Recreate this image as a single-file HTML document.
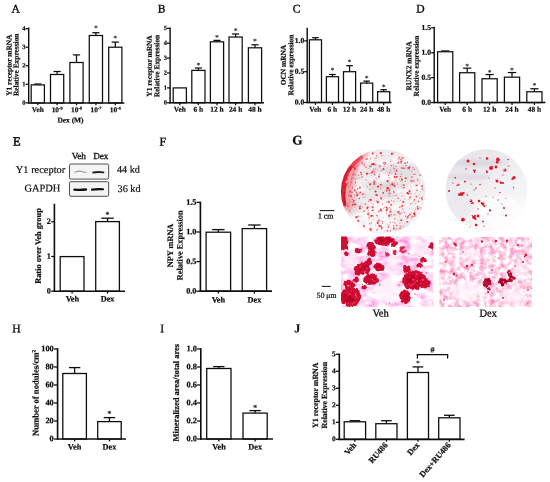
<!DOCTYPE html>
<html lang="en"><head><meta charset="utf-8"><title>Figure</title>
<style>
html,body{margin:0;padding:0;background:#fff;}
svg{display:block;font-family:"Liberation Serif","Times New Roman",serif;fill:#111;}
</style></head><body>
<svg width="550" height="482" viewBox="0 0 550 482">
<rect width="550" height="482" fill="#fff"/>
<defs>
<filter id="soft" x="-5%" y="-5%" width="110%" height="110%"><feGaussianBlur stdDeviation="0.35"/></filter>
<filter id="soft2" x="-5%" y="-5%" width="110%" height="110%"><feGaussianBlur stdDeviation="0.6"/></filter>
<filter id="blur2" x="-10%" y="-10%" width="120%" height="120%"><feGaussianBlur stdDeviation="1.6"/></filter>
<filter id="tx" x="-5%" y="-5%" width="110%" height="110%"><feGaussianBlur stdDeviation="0.25"/></filter>
<clipPath id="c1"><circle cx="383.2" cy="191.5" r="42.3"/></clipPath>
<clipPath id="c2"><circle cx="486.5" cy="190.3" r="41.2"/></clipPath>
<clipPath id="m1"><rect x="341" y="236.6" width="92.5" height="70.4"/></clipPath>
<clipPath id="m2"><rect x="439.4" y="237" width="92.6" height="70"/></clipPath>
<radialGradient id="g1" cx="0.55" cy="0.45" r="0.6"><stop offset="0" stop-color="#f1eff2"/><stop offset="0.7" stop-color="#e9e5ea"/><stop offset="1" stop-color="#efe6ea"/></radialGradient>
<linearGradient id="g2" x1="0.2" y1="0" x2="0.8" y2="1"><stop offset="0" stop-color="#e6e3e9"/><stop offset="0.45" stop-color="#f0eef1"/><stop offset="1" stop-color="#fcfcfc"/></linearGradient>
</defs>

<g filter="url(#tx)">
<text x="11.4" y="12.5" font-size="11.6" text-anchor="start" transform="rotate(0.04 11.4 12.5)" stroke="#111" stroke-width="0.35">A</text>
<text x="157.8" y="12.5" font-size="11.6" text-anchor="start" transform="rotate(0.04 157.8 12.5)" stroke="#111" stroke-width="0.35">B</text>
<text x="292.8" y="12.5" font-size="11.6" text-anchor="start" transform="rotate(0.04 292.8 12.5)" stroke="#111" stroke-width="0.35">C</text>
<text x="416.2" y="12.5" font-size="11.6" text-anchor="start" transform="rotate(0.04 416.2 12.5)" stroke="#111" stroke-width="0.35">D</text>
<text x="13" y="145.6" font-size="12.4" text-anchor="start" transform="rotate(0.04 13 145.6)" stroke="#111" stroke-width="0.55">E</text>
<text x="159.5" y="145.6" font-size="12" text-anchor="start" transform="rotate(0.04 159.5 145.6)" stroke="#111" stroke-width="0.35">F</text>
<text x="292.2" y="144.5" font-size="13.2" text-anchor="start" font-weight="bold" transform="rotate(0.04 292.2 144.5)" stroke="#111" stroke-width="0.22">G</text>
<text x="12.2" y="332.2" font-size="11.6" text-anchor="start" transform="rotate(0.04 12.2 332.2)" stroke="#111" stroke-width="0.35">H</text>
<text x="160.2" y="332.2" font-size="11.6" text-anchor="start" transform="rotate(0.04 160.2 332.2)" stroke="#111" stroke-width="0.35">I</text>
<text x="294.2" y="332.2" font-size="12" text-anchor="start" font-weight="bold" transform="rotate(0.04 294.2 332.2)" stroke="#111" stroke-width="0.22">J</text>
<g transform="translate(0 0.5)">
<line x1="37.8" y1="84.4" x2="37.8" y2="83.5" stroke="#111" stroke-width="1.25"/>
<line x1="34.2" y1="83.5" x2="41.4" y2="83.5" stroke="#111" stroke-width="1.25"/>
<rect x="31.2" y="84.4" width="13.2" height="18" fill="#fff" stroke="#111" stroke-width="1.25"/>
<line x1="37.8" y1="102.4" x2="37.8" y2="104.8" stroke="#111" stroke-width="1.25"/>
<line x1="57.1" y1="74" x2="57.1" y2="71" stroke="#111" stroke-width="1.25"/>
<line x1="53.5" y1="71" x2="60.7" y2="71" stroke="#111" stroke-width="1.25"/>
<rect x="50.5" y="74" width="13.2" height="28.4" fill="#fff" stroke="#111" stroke-width="1.25"/>
<line x1="57.1" y1="102.4" x2="57.1" y2="104.8" stroke="#111" stroke-width="1.25"/>
<line x1="76.5" y1="62" x2="76.5" y2="54.4" stroke="#111" stroke-width="1.25"/>
<line x1="72.9" y1="54.4" x2="80.1" y2="54.4" stroke="#111" stroke-width="1.25"/>
<rect x="69.9" y="62" width="13.2" height="40.4" fill="#fff" stroke="#111" stroke-width="1.25"/>
<line x1="76.5" y1="102.4" x2="76.5" y2="104.8" stroke="#111" stroke-width="1.25"/>
<line x1="95.9" y1="35" x2="95.9" y2="32.2" stroke="#111" stroke-width="1.25"/>
<line x1="92.3" y1="32.2" x2="99.5" y2="32.2" stroke="#111" stroke-width="1.25"/>
<rect x="89.3" y="35" width="13.2" height="67.4" fill="#fff" stroke="#111" stroke-width="1.25"/>
<text x="95.9" y="29.95" font-size="7.77" text-anchor="middle" font-weight="bold" transform="rotate(0.04 95.9 29.95)" stroke="#111" stroke-width="0">*</text>
<line x1="95.9" y1="102.4" x2="95.9" y2="104.8" stroke="#111" stroke-width="1.25"/>
<line x1="115.3" y1="46.7" x2="115.3" y2="41.6" stroke="#111" stroke-width="1.25"/>
<line x1="111.7" y1="41.6" x2="118.9" y2="41.6" stroke="#111" stroke-width="1.25"/>
<rect x="108.7" y="46.7" width="13.2" height="55.7" fill="#fff" stroke="#111" stroke-width="1.25"/>
<text x="115.3" y="40.35" font-size="7.77" text-anchor="middle" font-weight="bold" transform="rotate(0.04 115.3 40.35)" stroke="#111" stroke-width="0">*</text>
<line x1="115.3" y1="102.4" x2="115.3" y2="104.8" stroke="#111" stroke-width="1.25"/>
<line x1="28.7" y1="26.98" x2="28.7" y2="103.12" stroke="#111" stroke-width="1.45"/>
<line x1="27.97" y1="102.4" x2="124.3" y2="102.4" stroke="#111" stroke-width="1.45"/>
<line x1="25.6" y1="102.4" x2="28.7" y2="102.4" stroke="#111" stroke-width="1.25"/>
<text x="25.4" y="104.22" font-size="6.5" text-anchor="end" font-weight="bold" transform="rotate(0.04 25.4 104.22)" stroke="#111" stroke-width="0.22">0</text>
<line x1="25.6" y1="83.83" x2="28.7" y2="83.83" stroke="#111" stroke-width="1.25"/>
<text x="25.4" y="85.65" font-size="6.5" text-anchor="end" font-weight="bold" transform="rotate(0.04 25.4 85.65)" stroke="#111" stroke-width="0.22">1</text>
<line x1="25.6" y1="65.26" x2="28.7" y2="65.26" stroke="#111" stroke-width="1.25"/>
<text x="25.4" y="67.08" font-size="6.5" text-anchor="end" font-weight="bold" transform="rotate(0.04 25.4 67.08)" stroke="#111" stroke-width="0.22">2</text>
<line x1="25.6" y1="46.69" x2="28.7" y2="46.69" stroke="#111" stroke-width="1.25"/>
<text x="25.4" y="48.51" font-size="6.5" text-anchor="end" font-weight="bold" transform="rotate(0.04 25.4 48.51)" stroke="#111" stroke-width="0.22">3</text>
<line x1="25.6" y1="28.12" x2="28.7" y2="28.12" stroke="#111" stroke-width="1.25"/>
<text x="25.4" y="29.94" font-size="6.5" text-anchor="end" font-weight="bold" transform="rotate(0.04 25.4 29.94)" stroke="#111" stroke-width="0.22">4</text>
</g>
<text x="37.8" y="112" font-size="7.4" text-anchor="middle" font-weight="bold" transform="rotate(0.04 37.8 112)" stroke="#111" stroke-width="0.22">Veh</text>
<text x="57.1" y="112.2" font-size="7.4" text-anchor="middle" font-weight="bold" stroke="#111" stroke-width="0.22" transform="rotate(0.04 57.1 112)">10<tspan font-size="4.2" dy="-2.6">-9</tspan></text>
<text x="76.5" y="112.2" font-size="7.4" text-anchor="middle" font-weight="bold" stroke="#111" stroke-width="0.22" transform="rotate(0.04 76.5 112)">10<tspan font-size="4.2" dy="-2.6">-8</tspan></text>
<text x="95.9" y="112.2" font-size="7.4" text-anchor="middle" font-weight="bold" stroke="#111" stroke-width="0.22" transform="rotate(0.04 95.9 112)">10<tspan font-size="4.2" dy="-2.6">-7</tspan></text>
<text x="115.3" y="112.2" font-size="7.4" text-anchor="middle" font-weight="bold" stroke="#111" stroke-width="0.22" transform="rotate(0.04 115.3 112)">10<tspan font-size="4.2" dy="-2.6">-6</tspan></text>
<text x="70.5" y="122.6" font-size="7.4" text-anchor="middle" font-weight="bold" transform="rotate(0.04 70.5 122.6)" stroke="#111" stroke-width="0.22">Dex (M)</text>
<text x="11.6" y="65.2" font-size="7.4" text-anchor="middle" font-weight="bold" transform="rotate(-89.96 11.6 65.2)" stroke="#111" stroke-width="0.22">Y1 receptor mRNA</text>
<text x="18.4" y="64.8" font-size="7.4" text-anchor="middle" font-weight="bold" transform="rotate(-89.96 18.4 64.8)" stroke="#111" stroke-width="0.22">Relative Expression</text>
<g transform="translate(0 0.4)">
<rect x="173.2" y="87.5" width="13.2" height="14.9" fill="#fff" stroke="#111" stroke-width="1.25"/>
<line x1="179.8" y1="102.4" x2="179.8" y2="104.8" stroke="#111" stroke-width="1.25"/>
<line x1="198.4" y1="70" x2="198.4" y2="67.6" stroke="#111" stroke-width="1.25"/>
<line x1="194.8" y1="67.6" x2="202" y2="67.6" stroke="#111" stroke-width="1.25"/>
<rect x="191.8" y="70" width="13.2" height="32.4" fill="#fff" stroke="#111" stroke-width="1.25"/>
<text x="198.4" y="67.35" font-size="7.77" text-anchor="middle" font-weight="bold" transform="rotate(0.04 198.4 67.35)" stroke="#111" stroke-width="0">*</text>
<line x1="198.4" y1="102.4" x2="198.4" y2="104.8" stroke="#111" stroke-width="1.25"/>
<line x1="217" y1="41.4" x2="217" y2="40" stroke="#111" stroke-width="1.25"/>
<line x1="213.4" y1="40" x2="220.6" y2="40" stroke="#111" stroke-width="1.25"/>
<rect x="210.4" y="41.4" width="13.2" height="61" fill="#fff" stroke="#111" stroke-width="1.25"/>
<text x="217" y="39.55" font-size="7.77" text-anchor="middle" font-weight="bold" transform="rotate(0.04 217 39.55)" stroke="#111" stroke-width="0">*</text>
<line x1="217" y1="102.4" x2="217" y2="104.8" stroke="#111" stroke-width="1.25"/>
<line x1="235.6" y1="36.6" x2="235.6" y2="33.6" stroke="#111" stroke-width="1.25"/>
<line x1="232" y1="33.6" x2="239.2" y2="33.6" stroke="#111" stroke-width="1.25"/>
<rect x="229" y="36.6" width="13.2" height="65.8" fill="#fff" stroke="#111" stroke-width="1.25"/>
<text x="235.6" y="32.75" font-size="7.77" text-anchor="middle" font-weight="bold" transform="rotate(0.04 235.6 32.75)" stroke="#111" stroke-width="0">*</text>
<line x1="235.6" y1="102.4" x2="235.6" y2="104.8" stroke="#111" stroke-width="1.25"/>
<line x1="255" y1="47.4" x2="255" y2="44.4" stroke="#111" stroke-width="1.25"/>
<line x1="251.4" y1="44.4" x2="258.6" y2="44.4" stroke="#111" stroke-width="1.25"/>
<rect x="248.4" y="47.4" width="13.2" height="55" fill="#fff" stroke="#111" stroke-width="1.25"/>
<text x="255" y="43.35" font-size="7.77" text-anchor="middle" font-weight="bold" transform="rotate(0.04 255 43.35)" stroke="#111" stroke-width="0">*</text>
<line x1="255" y1="102.4" x2="255" y2="104.8" stroke="#111" stroke-width="1.25"/>
<line x1="170.1" y1="26.98" x2="170.1" y2="103.12" stroke="#111" stroke-width="1.45"/>
<line x1="169.38" y1="102.4" x2="264" y2="102.4" stroke="#111" stroke-width="1.45"/>
<line x1="167" y1="87.5" x2="170.1" y2="87.5" stroke="#111" stroke-width="1.25"/>
<text x="167.1" y="89.32" font-size="6.5" text-anchor="end" font-weight="bold" transform="rotate(0.04 167.1 89.32)" stroke="#111" stroke-width="0.22">1</text>
<line x1="167" y1="72.6" x2="170.1" y2="72.6" stroke="#111" stroke-width="1.25"/>
<text x="167.1" y="74.42" font-size="6.5" text-anchor="end" font-weight="bold" transform="rotate(0.04 167.1 74.42)" stroke="#111" stroke-width="0.22">2</text>
<line x1="167" y1="57.7" x2="170.1" y2="57.7" stroke="#111" stroke-width="1.25"/>
<text x="167.1" y="59.52" font-size="6.5" text-anchor="end" font-weight="bold" transform="rotate(0.04 167.1 59.52)" stroke="#111" stroke-width="0.22">3</text>
<line x1="167" y1="42.8" x2="170.1" y2="42.8" stroke="#111" stroke-width="1.25"/>
<text x="167.1" y="44.62" font-size="6.5" text-anchor="end" font-weight="bold" transform="rotate(0.04 167.1 44.62)" stroke="#111" stroke-width="0.22">4</text>
<line x1="167" y1="27.9" x2="170.1" y2="27.9" stroke="#111" stroke-width="1.25"/>
<text x="167.1" y="29.72" font-size="6.5" text-anchor="end" font-weight="bold" transform="rotate(0.04 167.1 29.72)" stroke="#111" stroke-width="0.22">5</text>
<line x1="167" y1="102.4" x2="170.1" y2="102.4" stroke="#111" stroke-width="1.25"/>
<text x="167.1" y="104.22" font-size="6.5" text-anchor="end" font-weight="bold" transform="rotate(0.04 167.1 104.22)" stroke="#111" stroke-width="0.22">0</text>
</g>
<text x="179.8" y="111.8" font-size="7.4" text-anchor="middle" font-weight="bold" transform="rotate(0.04 179.8 111.8)" stroke="#111" stroke-width="0.22">Veh</text>
<text x="198.4" y="111.8" font-size="7.4" text-anchor="middle" font-weight="bold" transform="rotate(0.04 198.4 111.8)" stroke="#111" stroke-width="0.22">6 h</text>
<text x="217" y="111.8" font-size="7.4" text-anchor="middle" font-weight="bold" transform="rotate(0.04 217 111.8)" stroke="#111" stroke-width="0.22">12 h</text>
<text x="235.6" y="111.8" font-size="7.4" text-anchor="middle" font-weight="bold" transform="rotate(0.04 235.6 111.8)" stroke="#111" stroke-width="0.22">24 h</text>
<text x="255" y="111.8" font-size="7.4" text-anchor="middle" font-weight="bold" transform="rotate(0.04 255 111.8)" stroke="#111" stroke-width="0.22">48 h</text>
<text x="151.8" y="66" font-size="7.4" text-anchor="middle" font-weight="bold" transform="rotate(-89.96 151.8 66)" stroke="#111" stroke-width="0.22">Y1 receptor mRNA</text>
<text x="159.2" y="66" font-size="7.4" text-anchor="middle" font-weight="bold" transform="rotate(-89.96 159.2 66)" stroke="#111" stroke-width="0.22">Relative Expression</text>
<g transform="translate(0 0.1)">
<line x1="315.45" y1="39.7" x2="315.45" y2="37.6" stroke="#111" stroke-width="1.25"/>
<line x1="312.15" y1="37.6" x2="318.75" y2="37.6" stroke="#111" stroke-width="1.25"/>
<rect x="309.4" y="39.7" width="12.1" height="62.7" fill="#fff" stroke="#111" stroke-width="1.25"/>
<line x1="315.45" y1="102.4" x2="315.45" y2="104.8" stroke="#111" stroke-width="1.25"/>
<line x1="332.45" y1="76.6" x2="332.45" y2="74.4" stroke="#111" stroke-width="1.25"/>
<line x1="329.15" y1="74.4" x2="335.75" y2="74.4" stroke="#111" stroke-width="1.25"/>
<rect x="326.4" y="76.6" width="12.1" height="25.8" fill="#fff" stroke="#111" stroke-width="1.25"/>
<text x="332.45" y="72.55" font-size="7.77" text-anchor="middle" font-weight="bold" transform="rotate(0.04 332.45 72.55)" stroke="#111" stroke-width="0">*</text>
<line x1="332.45" y1="102.4" x2="332.45" y2="104.8" stroke="#111" stroke-width="1.25"/>
<line x1="349.55" y1="71.6" x2="349.55" y2="65.6" stroke="#111" stroke-width="1.25"/>
<line x1="346.25" y1="65.6" x2="352.85" y2="65.6" stroke="#111" stroke-width="1.25"/>
<rect x="343.5" y="71.6" width="12.1" height="30.8" fill="#fff" stroke="#111" stroke-width="1.25"/>
<text x="349.55" y="64.35" font-size="7.77" text-anchor="middle" font-weight="bold" transform="rotate(0.04 349.55 64.35)" stroke="#111" stroke-width="0">*</text>
<line x1="349.55" y1="102.4" x2="349.55" y2="104.8" stroke="#111" stroke-width="1.25"/>
<line x1="366.65" y1="83" x2="366.65" y2="81" stroke="#111" stroke-width="1.25"/>
<line x1="363.35" y1="81" x2="369.95" y2="81" stroke="#111" stroke-width="1.25"/>
<rect x="360.6" y="83" width="12.1" height="19.4" fill="#fff" stroke="#111" stroke-width="1.25"/>
<text x="366.65" y="80.55" font-size="7.77" text-anchor="middle" font-weight="bold" transform="rotate(0.04 366.65 80.55)" stroke="#111" stroke-width="0">*</text>
<line x1="366.65" y1="102.4" x2="366.65" y2="104.8" stroke="#111" stroke-width="1.25"/>
<line x1="383.65" y1="91.6" x2="383.65" y2="89.6" stroke="#111" stroke-width="1.25"/>
<line x1="380.35" y1="89.6" x2="386.95" y2="89.6" stroke="#111" stroke-width="1.25"/>
<rect x="377.6" y="91.6" width="12.1" height="10.8" fill="#fff" stroke="#111" stroke-width="1.25"/>
<text x="383.65" y="89.35" font-size="7.77" text-anchor="middle" font-weight="bold" transform="rotate(0.04 383.65 89.35)" stroke="#111" stroke-width="0">*</text>
<line x1="383.65" y1="102.4" x2="383.65" y2="104.8" stroke="#111" stroke-width="1.25"/>
<line x1="307.2" y1="27.77" x2="307.2" y2="103.12" stroke="#111" stroke-width="1.45"/>
<line x1="306.47" y1="102.4" x2="391.6" y2="102.4" stroke="#111" stroke-width="1.45"/>
<line x1="304.1" y1="102.4" x2="307.2" y2="102.4" stroke="#111" stroke-width="1.25"/>
<text x="304.2" y="104.53" font-size="7.6" text-anchor="end" font-weight="bold" transform="rotate(0.04 304.2 104.53)" stroke="#111" stroke-width="0.22">0.0</text>
<line x1="304.1" y1="71.6" x2="307.2" y2="71.6" stroke="#111" stroke-width="1.25"/>
<text x="304.2" y="73.73" font-size="7.6" text-anchor="end" font-weight="bold" transform="rotate(0.04 304.2 73.73)" stroke="#111" stroke-width="0.22">0.5</text>
<line x1="304.1" y1="40.8" x2="307.2" y2="40.8" stroke="#111" stroke-width="1.25"/>
<text x="304.2" y="42.93" font-size="7.6" text-anchor="end" font-weight="bold" transform="rotate(0.04 304.2 42.93)" stroke="#111" stroke-width="0.22">1.0</text>
</g>
<text x="315.4" y="111.8" font-size="7.4" text-anchor="middle" font-weight="bold" transform="rotate(0.04 315.4 111.8)" stroke="#111" stroke-width="0.22">Veh</text>
<text x="332.4" y="111.8" font-size="7.4" text-anchor="middle" font-weight="bold" transform="rotate(0.04 332.4 111.8)" stroke="#111" stroke-width="0.22">6 h</text>
<text x="349.5" y="111.8" font-size="7.4" text-anchor="middle" font-weight="bold" transform="rotate(0.04 349.5 111.8)" stroke="#111" stroke-width="0.22">12 h</text>
<text x="366.6" y="111.8" font-size="7.4" text-anchor="middle" font-weight="bold" transform="rotate(0.04 366.6 111.8)" stroke="#111" stroke-width="0.22">24 h</text>
<text x="383.6" y="111.8" font-size="7.4" text-anchor="middle" font-weight="bold" transform="rotate(0.04 383.6 111.8)" stroke="#111" stroke-width="0.22">48 h</text>
<text x="285.8" y="65" font-size="7.4" text-anchor="middle" font-weight="bold" transform="rotate(-89.96 285.8 65)" stroke="#111" stroke-width="0.22">OCN mRNA</text>
<text x="293.2" y="65" font-size="7.4" text-anchor="middle" font-weight="bold" transform="rotate(-89.96 293.2 65)" stroke="#111" stroke-width="0.22">Relative expression</text>
<g transform="translate(0 0.15)">
<line x1="445.2" y1="51.6" x2="445.2" y2="50.8" stroke="#111" stroke-width="1.25"/>
<line x1="441.1" y1="50.8" x2="449.3" y2="50.8" stroke="#111" stroke-width="1.25"/>
<rect x="437.6" y="51.6" width="15.2" height="50.8" fill="#fff" stroke="#111" stroke-width="1.25"/>
<line x1="445.2" y1="102.4" x2="445.2" y2="104.8" stroke="#111" stroke-width="1.25"/>
<line x1="467.2" y1="72.6" x2="467.2" y2="68" stroke="#111" stroke-width="1.25"/>
<line x1="463.1" y1="68" x2="471.3" y2="68" stroke="#111" stroke-width="1.25"/>
<rect x="459.6" y="72.6" width="15.2" height="29.8" fill="#fff" stroke="#111" stroke-width="1.25"/>
<text x="467.2" y="68.55" font-size="7.77" text-anchor="middle" font-weight="bold" transform="rotate(0.04 467.2 68.55)" stroke="#111" stroke-width="0">*</text>
<line x1="467.2" y1="102.4" x2="467.2" y2="104.8" stroke="#111" stroke-width="1.25"/>
<line x1="489.6" y1="78.6" x2="489.6" y2="74.4" stroke="#111" stroke-width="1.25"/>
<line x1="485.5" y1="74.4" x2="493.7" y2="74.4" stroke="#111" stroke-width="1.25"/>
<rect x="482" y="78.6" width="15.2" height="23.8" fill="#fff" stroke="#111" stroke-width="1.25"/>
<text x="489.6" y="74.95" font-size="7.77" text-anchor="middle" font-weight="bold" transform="rotate(0.04 489.6 74.95)" stroke="#111" stroke-width="0">*</text>
<line x1="489.6" y1="102.4" x2="489.6" y2="104.8" stroke="#111" stroke-width="1.25"/>
<line x1="512" y1="77" x2="512" y2="72.4" stroke="#111" stroke-width="1.25"/>
<line x1="507.9" y1="72.4" x2="516.1" y2="72.4" stroke="#111" stroke-width="1.25"/>
<rect x="504.4" y="77" width="15.2" height="25.4" fill="#fff" stroke="#111" stroke-width="1.25"/>
<text x="512" y="72.55" font-size="7.77" text-anchor="middle" font-weight="bold" transform="rotate(0.04 512 72.55)" stroke="#111" stroke-width="0">*</text>
<line x1="512" y1="102.4" x2="512" y2="104.8" stroke="#111" stroke-width="1.25"/>
<line x1="534.4" y1="91.6" x2="534.4" y2="88.6" stroke="#111" stroke-width="1.25"/>
<line x1="530.3" y1="88.6" x2="538.5" y2="88.6" stroke="#111" stroke-width="1.25"/>
<rect x="526.8" y="91.6" width="15.2" height="10.8" fill="#fff" stroke="#111" stroke-width="1.25"/>
<text x="534.4" y="87.95" font-size="7.77" text-anchor="middle" font-weight="bold" transform="rotate(0.04 534.4 87.95)" stroke="#111" stroke-width="0">*</text>
<line x1="534.4" y1="102.4" x2="534.4" y2="104.8" stroke="#111" stroke-width="1.25"/>
<line x1="434.2" y1="26.68" x2="434.2" y2="103.12" stroke="#111" stroke-width="1.45"/>
<line x1="433.47" y1="102.4" x2="545.4" y2="102.4" stroke="#111" stroke-width="1.45"/>
<line x1="431.1" y1="102.4" x2="434.2" y2="102.4" stroke="#111" stroke-width="1.25"/>
<text x="431" y="104.53" font-size="7.6" text-anchor="end" font-weight="bold" transform="rotate(0.04 431 104.53)" stroke="#111" stroke-width="0.22">0.0</text>
<line x1="431.1" y1="77.5" x2="434.2" y2="77.5" stroke="#111" stroke-width="1.25"/>
<text x="431" y="79.63" font-size="7.6" text-anchor="end" font-weight="bold" transform="rotate(0.04 431 79.63)" stroke="#111" stroke-width="0.22">0.5</text>
<line x1="431.1" y1="52.6" x2="434.2" y2="52.6" stroke="#111" stroke-width="1.25"/>
<text x="431" y="54.73" font-size="7.6" text-anchor="end" font-weight="bold" transform="rotate(0.04 431 54.73)" stroke="#111" stroke-width="0.22">1.0</text>
<line x1="431.1" y1="27.7" x2="434.2" y2="27.7" stroke="#111" stroke-width="1.25"/>
<text x="431" y="29.83" font-size="7.6" text-anchor="end" font-weight="bold" transform="rotate(0.04 431 29.83)" stroke="#111" stroke-width="0.22">1.5</text>
</g>
<text x="445.2" y="111.8" font-size="7.4" text-anchor="middle" font-weight="bold" transform="rotate(0.04 445.2 111.8)" stroke="#111" stroke-width="0.22">Veh</text>
<text x="467.2" y="111.8" font-size="7.4" text-anchor="middle" font-weight="bold" transform="rotate(0.04 467.2 111.8)" stroke="#111" stroke-width="0.22">6 h</text>
<text x="489.6" y="111.8" font-size="7.4" text-anchor="middle" font-weight="bold" transform="rotate(0.04 489.6 111.8)" stroke="#111" stroke-width="0.22">12 h</text>
<text x="512" y="111.8" font-size="7.4" text-anchor="middle" font-weight="bold" transform="rotate(0.04 512 111.8)" stroke="#111" stroke-width="0.22">24 h</text>
<text x="534.4" y="111.8" font-size="7.4" text-anchor="middle" font-weight="bold" transform="rotate(0.04 534.4 111.8)" stroke="#111" stroke-width="0.22">48 h</text>
<text x="411.2" y="66" font-size="7.4" text-anchor="middle" font-weight="bold" transform="rotate(-89.96 411.2 66)" stroke="#111" stroke-width="0.22">RUNX2 mRNA</text>
<text x="418.8" y="66" font-size="7.4" text-anchor="middle" font-weight="bold" transform="rotate(-89.96 418.8 66)" stroke="#111" stroke-width="0.22">Relative expression</text>
<text x="78.8" y="159" font-size="9.2" text-anchor="middle" transform="rotate(0.04 78.8 159)" stroke="#111" stroke-width="0.3">Veh</text>
<text x="100.8" y="159" font-size="9.2" text-anchor="middle" transform="rotate(0.04 100.8 159)" stroke="#111" stroke-width="0.3">Dex</text>
<text x="65.2" y="173" font-size="10.4" text-anchor="end" transform="rotate(0.04 65.2 173)" stroke="#111" stroke-width="0.2">Y1 receptor</text>
<text x="60.2" y="191.6" font-size="10.4" text-anchor="end" transform="rotate(0.04 60.2 191.6)" stroke="#111" stroke-width="0.2">GAPDH</text>
<text x="117" y="172.8" font-size="10.2" text-anchor="start" transform="rotate(0.04 117 172.8)" stroke="#111" stroke-width="0.2">44 kd</text>
<text x="117.6" y="192" font-size="10.2" text-anchor="start" transform="rotate(0.04 117.6 192)" stroke="#111" stroke-width="0.2">36 kd</text>
<rect x="69.5" y="164" width="39.2" height="15.1" rx="1.4" fill="#f4f4f4" stroke="#303030" stroke-width="0.85"/>
<rect x="69.5" y="181.7" width="39.2" height="14.6" rx="1.4" fill="#f4f4f4" stroke="#303030" stroke-width="0.85"/>
<g filter="url(#soft2)" fill="none" stroke-linecap="round">
<path d="M75 172.2 Q78.5 170.4 82 171.5 T86 172.3" stroke="#999" stroke-width="1.2"/>
<path d="M93.2 172.5 Q98 171.7 103.4 172.4" stroke="#222" stroke-width="1.9"/>
<path d="M74.4 189.6 Q80 190.2 86 189.5" stroke="#101010" stroke-width="2.3"/>
<path d="M92 189.6 Q97 188.9 103 189.3" stroke="#101010" stroke-width="2.1"/>
</g>
<g transform="translate(0 0.2)">
<rect x="60.2" y="256.4" width="23.8" height="34.6" fill="#fff" stroke="#111" stroke-width="1.3"/>
<line x1="72.1" y1="291" x2="72.1" y2="293.4" stroke="#111" stroke-width="1.3"/>
<line x1="107.55" y1="221.4" x2="107.55" y2="218" stroke="#111" stroke-width="1.3"/>
<line x1="101.35" y1="218" x2="113.75" y2="218" stroke="#111" stroke-width="1.3"/>
<rect x="95.7" y="221.4" width="23.7" height="69.6" fill="#fff" stroke="#111" stroke-width="1.3"/>
<text x="107.55" y="217.4" font-size="8.72" text-anchor="middle" font-weight="bold" transform="rotate(0.04 107.55 217.4)" stroke="#111" stroke-width="0">*</text>
<line x1="107.55" y1="291" x2="107.55" y2="293.4" stroke="#111" stroke-width="1.3"/>
<line x1="54.4" y1="203.55" x2="54.4" y2="291.8" stroke="#111" stroke-width="1.6"/>
<line x1="53.6" y1="291" x2="125" y2="291" stroke="#111" stroke-width="1.6"/>
<line x1="51.2" y1="291" x2="54.4" y2="291" stroke="#111" stroke-width="1.3"/>
<text x="50.9" y="293.32" font-size="8.3" text-anchor="end" font-weight="bold" transform="rotate(0.04 50.9 293.32)" stroke="#111" stroke-width="0.22">0</text>
<line x1="51.2" y1="256.3" x2="54.4" y2="256.3" stroke="#111" stroke-width="1.3"/>
<text x="50.9" y="258.62" font-size="8.3" text-anchor="end" font-weight="bold" transform="rotate(0.04 50.9 258.62)" stroke="#111" stroke-width="0.22">1</text>
<line x1="51.2" y1="221.6" x2="54.4" y2="221.6" stroke="#111" stroke-width="1.3"/>
<text x="50.9" y="223.92" font-size="8.3" text-anchor="end" font-weight="bold" transform="rotate(0.04 50.9 223.92)" stroke="#111" stroke-width="0.22">2</text>
</g>
<text x="72.4" y="301.6" font-size="8.3" text-anchor="middle" font-weight="bold" transform="rotate(0.04 72.4 301.6)" stroke="#111" stroke-width="0.22">Veh</text>
<text x="107.6" y="301.6" font-size="8.3" text-anchor="middle" font-weight="bold" transform="rotate(0.04 107.6 301.6)" stroke="#111" stroke-width="0.22">Dex</text>
<text x="40.9" y="246" font-size="8.3" text-anchor="middle" font-weight="bold" transform="rotate(-89.96 40.9 246)" stroke="#111" stroke-width="0.22">Ratio over Veh group</text>
<g transform="translate(0 0.2)">
<line x1="218.35" y1="232" x2="218.35" y2="229.4" stroke="#111" stroke-width="1.3"/>
<line x1="212.15" y1="229.4" x2="224.55" y2="229.4" stroke="#111" stroke-width="1.3"/>
<rect x="206.1" y="232" width="24.5" height="59" fill="#fff" stroke="#111" stroke-width="1.3"/>
<line x1="218.35" y1="291" x2="218.35" y2="293.4" stroke="#111" stroke-width="1.3"/>
<line x1="254.4" y1="228.4" x2="254.4" y2="224.8" stroke="#111" stroke-width="1.3"/>
<line x1="248.2" y1="224.8" x2="260.6" y2="224.8" stroke="#111" stroke-width="1.3"/>
<rect x="242.2" y="228.4" width="24.4" height="62.6" fill="#fff" stroke="#111" stroke-width="1.3"/>
<line x1="254.4" y1="291" x2="254.4" y2="293.4" stroke="#111" stroke-width="1.3"/>
<line x1="200.4" y1="201.55" x2="200.4" y2="291.82" stroke="#111" stroke-width="1.65"/>
<line x1="199.58" y1="291" x2="272" y2="291" stroke="#111" stroke-width="1.65"/>
<line x1="196.4" y1="291" x2="200.4" y2="291" stroke="#111" stroke-width="1.3"/>
<text x="196.5" y="293.32" font-size="8.3" text-anchor="end" font-weight="bold" transform="rotate(0.04 196.5 293.32)" stroke="#111" stroke-width="0.22">0.0</text>
<line x1="196.4" y1="261.4" x2="200.4" y2="261.4" stroke="#111" stroke-width="1.3"/>
<text x="196.5" y="263.72" font-size="8.3" text-anchor="end" font-weight="bold" transform="rotate(0.04 196.5 263.72)" stroke="#111" stroke-width="0.22">0.5</text>
<line x1="196.4" y1="231.8" x2="200.4" y2="231.8" stroke="#111" stroke-width="1.3"/>
<text x="196.5" y="234.12" font-size="8.3" text-anchor="end" font-weight="bold" transform="rotate(0.04 196.5 234.12)" stroke="#111" stroke-width="0.22">1.0</text>
<line x1="196.4" y1="202.2" x2="200.4" y2="202.2" stroke="#111" stroke-width="1.3"/>
<text x="196.5" y="204.52" font-size="8.3" text-anchor="end" font-weight="bold" transform="rotate(0.04 196.5 204.52)" stroke="#111" stroke-width="0.22">1.5</text>
</g>
<text x="218.4" y="302.4" font-size="8.3" text-anchor="middle" font-weight="bold" transform="rotate(0.04 218.4 302.4)" stroke="#111" stroke-width="0.22">Veh</text>
<text x="254.4" y="302.4" font-size="8.3" text-anchor="middle" font-weight="bold" transform="rotate(0.04 254.4 302.4)" stroke="#111" stroke-width="0.22">Dex</text>
<text x="172.9" y="245.4" font-size="8.25" text-anchor="middle" font-weight="bold" transform="rotate(-89.96 172.9 245.4)" stroke="#111" stroke-width="0.22">NPY mRNA</text>
<text x="182.5" y="245.3" font-size="8.25" text-anchor="middle" font-weight="bold" transform="rotate(-89.96 182.5 245.3)" stroke="#111" stroke-width="0.22">Relative Expression</text>
<g transform="translate(0 0)">
<line x1="74.6" y1="373.5" x2="74.6" y2="367.6" stroke="#111" stroke-width="1.3"/>
<line x1="68.9" y1="367.6" x2="80.3" y2="367.6" stroke="#111" stroke-width="1.3"/>
<rect x="62.8" y="373.5" width="23.6" height="65.5" fill="#fff" stroke="#111" stroke-width="1.3"/>
<line x1="74.6" y1="439" x2="74.6" y2="441.4" stroke="#111" stroke-width="1.3"/>
<line x1="109.45" y1="421.6" x2="109.45" y2="417.6" stroke="#111" stroke-width="1.3"/>
<line x1="103.75" y1="417.6" x2="115.15" y2="417.6" stroke="#111" stroke-width="1.3"/>
<rect x="97.7" y="421.6" width="23.5" height="17.4" fill="#fff" stroke="#111" stroke-width="1.3"/>
<text x="109.45" y="416.4" font-size="8.72" text-anchor="middle" font-weight="bold" transform="rotate(0.04 109.45 416.4)" stroke="#111" stroke-width="0">*</text>
<line x1="109.45" y1="439" x2="109.45" y2="441.4" stroke="#111" stroke-width="1.3"/>
<line x1="57.6" y1="348.15" x2="57.6" y2="439.82" stroke="#111" stroke-width="1.65"/>
<line x1="56.77" y1="439" x2="126" y2="439" stroke="#111" stroke-width="1.65"/>
<line x1="53.9" y1="439" x2="57.6" y2="439" stroke="#111" stroke-width="1.3"/>
<text x="53.8" y="441.35" font-size="8.4" text-anchor="end" font-weight="bold" transform="rotate(0.04 53.8 441.35)" stroke="#111" stroke-width="0.22">0</text>
<line x1="53.9" y1="421" x2="57.6" y2="421" stroke="#111" stroke-width="1.3"/>
<text x="53.8" y="423.35" font-size="8.4" text-anchor="end" font-weight="bold" transform="rotate(0.04 53.8 423.35)" stroke="#111" stroke-width="0.22">20</text>
<line x1="53.9" y1="403" x2="57.6" y2="403" stroke="#111" stroke-width="1.3"/>
<text x="53.8" y="405.35" font-size="8.4" text-anchor="end" font-weight="bold" transform="rotate(0.04 53.8 405.35)" stroke="#111" stroke-width="0.22">40</text>
<line x1="53.9" y1="385" x2="57.6" y2="385" stroke="#111" stroke-width="1.3"/>
<text x="53.8" y="387.35" font-size="8.4" text-anchor="end" font-weight="bold" transform="rotate(0.04 53.8 387.35)" stroke="#111" stroke-width="0.22">60</text>
<line x1="53.9" y1="367" x2="57.6" y2="367" stroke="#111" stroke-width="1.3"/>
<text x="53.8" y="369.35" font-size="8.4" text-anchor="end" font-weight="bold" transform="rotate(0.04 53.8 369.35)" stroke="#111" stroke-width="0.22">80</text>
<line x1="53.9" y1="349" x2="57.6" y2="349" stroke="#111" stroke-width="1.3"/>
<text x="53.8" y="351.35" font-size="8.4" text-anchor="end" font-weight="bold" transform="rotate(0.04 53.8 351.35)" stroke="#111" stroke-width="0.22">100</text>
</g>
<text x="74.6" y="449.6" font-size="8.3" text-anchor="middle" font-weight="bold" transform="rotate(0.04 74.6 449.6)" stroke="#111" stroke-width="0.22">Veh</text>
<text x="109.4" y="449.6" font-size="8.3" text-anchor="middle" font-weight="bold" transform="rotate(0.04 109.4 449.6)" stroke="#111" stroke-width="0.22">Dex</text>
<text x="38.6" y="393.0" font-size="8.6" text-anchor="middle" font-weight="bold" stroke="#111" stroke-width="0.22" transform="rotate(-89.96 38.6 393.0)">Number of nodules/cm<tspan font-size="5.2" dy="-3.2">2</tspan></text>
<g transform="translate(0 0)">
<line x1="218.85" y1="368.5" x2="218.85" y2="366.6" stroke="#111" stroke-width="1.3"/>
<line x1="213.15" y1="366.6" x2="224.55" y2="366.6" stroke="#111" stroke-width="1.3"/>
<rect x="206.7" y="368.5" width="24.3" height="70.5" fill="#fff" stroke="#111" stroke-width="1.3"/>
<line x1="218.85" y1="439" x2="218.85" y2="441.4" stroke="#111" stroke-width="1.3"/>
<line x1="255.1" y1="413.1" x2="255.1" y2="410.6" stroke="#111" stroke-width="1.3"/>
<line x1="249.4" y1="410.6" x2="260.8" y2="410.6" stroke="#111" stroke-width="1.3"/>
<rect x="243" y="413.1" width="24.2" height="25.9" fill="#fff" stroke="#111" stroke-width="1.3"/>
<text x="255.1" y="410.4" font-size="8.72" text-anchor="middle" font-weight="bold" transform="rotate(0.04 255.1 410.4)" stroke="#111" stroke-width="0">*</text>
<line x1="255.1" y1="439" x2="255.1" y2="441.4" stroke="#111" stroke-width="1.3"/>
<line x1="200.8" y1="348.15" x2="200.8" y2="439.82" stroke="#111" stroke-width="1.65"/>
<line x1="199.98" y1="439" x2="273" y2="439" stroke="#111" stroke-width="1.65"/>
<line x1="197.1" y1="439" x2="200.8" y2="439" stroke="#111" stroke-width="1.3"/>
<text x="197" y="441.35" font-size="8.4" text-anchor="end" font-weight="bold" transform="rotate(0.04 197 441.35)" stroke="#111" stroke-width="0.22">0.0</text>
<line x1="197.1" y1="421" x2="200.8" y2="421" stroke="#111" stroke-width="1.3"/>
<text x="197" y="423.35" font-size="8.4" text-anchor="end" font-weight="bold" transform="rotate(0.04 197 423.35)" stroke="#111" stroke-width="0.22">0.2</text>
<line x1="197.1" y1="403" x2="200.8" y2="403" stroke="#111" stroke-width="1.3"/>
<text x="197" y="405.35" font-size="8.4" text-anchor="end" font-weight="bold" transform="rotate(0.04 197 405.35)" stroke="#111" stroke-width="0.22">0.4</text>
<line x1="197.1" y1="385" x2="200.8" y2="385" stroke="#111" stroke-width="1.3"/>
<text x="197" y="387.35" font-size="8.4" text-anchor="end" font-weight="bold" transform="rotate(0.04 197 387.35)" stroke="#111" stroke-width="0.22">0.6</text>
<line x1="197.1" y1="367" x2="200.8" y2="367" stroke="#111" stroke-width="1.3"/>
<text x="197" y="369.35" font-size="8.4" text-anchor="end" font-weight="bold" transform="rotate(0.04 197 369.35)" stroke="#111" stroke-width="0.22">0.8</text>
<line x1="197.1" y1="349" x2="200.8" y2="349" stroke="#111" stroke-width="1.3"/>
<text x="197" y="351.35" font-size="8.4" text-anchor="end" font-weight="bold" transform="rotate(0.04 197 351.35)" stroke="#111" stroke-width="0.22">1.0</text>
</g>
<text x="219" y="449.6" font-size="8.3" text-anchor="middle" font-weight="bold" transform="rotate(0.04 219 449.6)" stroke="#111" stroke-width="0.22">Veh</text>
<text x="255.2" y="449.6" font-size="8.3" text-anchor="middle" font-weight="bold" transform="rotate(0.04 255.2 449.6)" stroke="#111" stroke-width="0.22">Dex</text>
<text x="178.9" y="392.6" font-size="8.48" text-anchor="middle" font-weight="bold" transform="rotate(-89.96 178.9 392.6)" stroke="#111" stroke-width="0.22">Mineralized area/total ares</text>
<g transform="translate(0 0.3)">
<line x1="354.9" y1="421.5" x2="354.9" y2="420.4" stroke="#111" stroke-width="1.3"/>
<line x1="349.6" y1="420.4" x2="360.2" y2="420.4" stroke="#111" stroke-width="1.3"/>
<rect x="344.2" y="421.5" width="21.4" height="17.5" fill="#fff" stroke="#111" stroke-width="1.3"/>
<line x1="354.9" y1="439" x2="354.9" y2="441.4" stroke="#111" stroke-width="1.3"/>
<line x1="386.4" y1="423.4" x2="386.4" y2="420.4" stroke="#111" stroke-width="1.3"/>
<line x1="381.1" y1="420.4" x2="391.7" y2="420.4" stroke="#111" stroke-width="1.3"/>
<rect x="375.8" y="423.4" width="21.2" height="15.6" fill="#fff" stroke="#111" stroke-width="1.3"/>
<line x1="386.4" y1="439" x2="386.4" y2="441.4" stroke="#111" stroke-width="1.3"/>
<line x1="417.95" y1="372.2" x2="417.95" y2="366.6" stroke="#111" stroke-width="1.3"/>
<line x1="412.65" y1="366.6" x2="423.25" y2="366.6" stroke="#111" stroke-width="1.3"/>
<rect x="407.4" y="372.2" width="21.1" height="66.8" fill="#fff" stroke="#111" stroke-width="1.3"/>
<text x="417.95" y="365.35" font-size="7.77" text-anchor="middle" font-weight="bold" transform="rotate(0.04 417.95 365.35)" stroke="#111" stroke-width="0">*</text>
<line x1="417.95" y1="439" x2="417.95" y2="441.4" stroke="#111" stroke-width="1.3"/>
<line x1="449.35" y1="417.5" x2="449.35" y2="415" stroke="#111" stroke-width="1.3"/>
<line x1="444.05" y1="415" x2="454.65" y2="415" stroke="#111" stroke-width="1.3"/>
<rect x="438.7" y="417.5" width="21.3" height="21.5" fill="#fff" stroke="#111" stroke-width="1.3"/>
<line x1="449.35" y1="439" x2="449.35" y2="441.4" stroke="#111" stroke-width="1.3"/>
<line x1="339.3" y1="353.35" x2="339.3" y2="439.82" stroke="#111" stroke-width="1.65"/>
<line x1="338.48" y1="439" x2="464.6" y2="439" stroke="#111" stroke-width="1.65"/>
<line x1="335.9" y1="439" x2="339.3" y2="439" stroke="#111" stroke-width="1.3"/>
<text x="335.8" y="441.07" font-size="7.4" text-anchor="end" font-weight="bold" transform="rotate(0.04 335.8 441.07)" stroke="#111" stroke-width="0.22">0</text>
<line x1="335.9" y1="422" x2="339.3" y2="422" stroke="#111" stroke-width="1.3"/>
<text x="335.8" y="424.07" font-size="7.4" text-anchor="end" font-weight="bold" transform="rotate(0.04 335.8 424.07)" stroke="#111" stroke-width="0.22">1</text>
<line x1="335.9" y1="405" x2="339.3" y2="405" stroke="#111" stroke-width="1.3"/>
<text x="335.8" y="407.07" font-size="7.4" text-anchor="end" font-weight="bold" transform="rotate(0.04 335.8 407.07)" stroke="#111" stroke-width="0.22">2</text>
<line x1="335.9" y1="388" x2="339.3" y2="388" stroke="#111" stroke-width="1.3"/>
<text x="335.8" y="390.07" font-size="7.4" text-anchor="end" font-weight="bold" transform="rotate(0.04 335.8 390.07)" stroke="#111" stroke-width="0.22">3</text>
<line x1="335.9" y1="371" x2="339.3" y2="371" stroke="#111" stroke-width="1.3"/>
<text x="335.8" y="373.07" font-size="7.4" text-anchor="end" font-weight="bold" transform="rotate(0.04 335.8 373.07)" stroke="#111" stroke-width="0.22">4</text>
<line x1="335.9" y1="354" x2="339.3" y2="354" stroke="#111" stroke-width="1.3"/>
<text x="335.8" y="356.07" font-size="7.4" text-anchor="end" font-weight="bold" transform="rotate(0.04 335.8 356.07)" stroke="#111" stroke-width="0.22">5</text>
</g>
<line x1="417.4" y1="358.6" x2="417.4" y2="354.6" stroke="#111" stroke-width="1.25"/>
<line x1="416.8" y1="354.6" x2="448.2" y2="354.6" stroke="#111" stroke-width="1.25"/>
<line x1="447.6" y1="354.6" x2="447.6" y2="358.6" stroke="#111" stroke-width="1.25"/>
<text x="432.4" y="352.4" font-size="8" text-anchor="middle" font-weight="bold" transform="rotate(0.04 432.4 352.4)" stroke="#111" stroke-width="0.22">#</text>
<text x="356.8" y="445.4" font-size="8.3" text-anchor="end" font-weight="bold" transform="rotate(-48.96 356.8 445.4)" stroke="#111" stroke-width="0.22">Veh</text>
<text x="388.3" y="445.4" font-size="8.3" text-anchor="end" font-weight="bold" transform="rotate(-48.96 388.3 445.4)" stroke="#111" stroke-width="0.22">RU486</text>
<text x="419.9" y="445.4" font-size="8.3" text-anchor="end" font-weight="bold" transform="rotate(-48.96 419.9 445.4)" stroke="#111" stroke-width="0.22">Dex</text>
<text x="451.3" y="445.4" font-size="8.3" text-anchor="end" font-weight="bold" transform="rotate(-48.96 451.3 445.4)" stroke="#111" stroke-width="0.22">Dex+RU486</text>
<text x="318" y="395.2" font-size="7.9" text-anchor="middle" font-weight="bold" transform="rotate(-89.96 318 395.2)" stroke="#111" stroke-width="0.22">Y1 receptor mRNA</text>
<text x="327" y="395.2" font-size="7.9" text-anchor="middle" font-weight="bold" transform="rotate(-89.96 327 395.2)" stroke="#111" stroke-width="0.22">Relative Expression</text>
<line x1="319.8" y1="210.6" x2="334.4" y2="210.6" stroke="#111" stroke-width="1"/>
<text x="325.6" y="218.4" font-size="7.8" text-anchor="middle" transform="rotate(0.04 325.6 218.4)" stroke="#111" stroke-width="0.25">1 cm</text>
<line x1="321.8" y1="286.4" x2="330.8" y2="286.4" stroke="#111" stroke-width="1"/>
<text x="326.6" y="297.8" font-size="7.6" text-anchor="middle" transform="rotate(0.04 326.6 297.8)" stroke="#111" stroke-width="0.25">50 μm</text>
<text x="380.6" y="316.4" font-size="10.5" text-anchor="middle" transform="rotate(0.04 380.6 316.4)" stroke="#111" stroke-width="0.3">Veh</text>
<text x="488.2" y="316.4" font-size="10.5" text-anchor="middle" transform="rotate(0.04 488.2 316.4)" stroke="#111" stroke-width="0.3">Dex</text>
</g>
<defs>
<filter id="fib1" x="0" y="0" width="100%" height="100%" color-interpolation-filters="sRGB">
<feTurbulence type="fractalNoise" baseFrequency="0.09 0.16" numOctaves="3" seed="4"/>
<feColorMatrix type="matrix" values="0 0 0 0 1  -0.9 0 0 0 1.33  -0.32 0 0 0 1.13  0 0 0 0 1"/>
</filter>
<filter id="fib2" x="0" y="0" width="100%" height="100%" color-interpolation-filters="sRGB">
<feTurbulence type="fractalNoise" baseFrequency="0.2 0.2" numOctaves="3" seed="8"/>
<feColorMatrix type="matrix" values="0 0 0 0 1  -1.0 0 0 0 1.36  -0.55 0 0 0 1.2  0 0 0 0 1"/>
</filter>
<filter id="rough" x="-5%" y="-5%" width="110%" height="110%">
<feTurbulence type="fractalNoise" baseFrequency="0.35" numOctaves="2" seed="2" result="n"/>
<feDisplacementMap in="SourceGraphic" in2="n" scale="2.2" xChannelSelector="R" yChannelSelector="G"/>
<feGaussianBlur stdDeviation="0.35"/>
</filter>
<filter id="wellnoise" x="0" y="0" width="100%" height="100%" color-interpolation-filters="sRGB">
<feTurbulence type="fractalNoise" baseFrequency="0.03 0.09" numOctaves="2" seed="5"/>
<feColorMatrix type="matrix" values="0.26 0 0 0 0.81  0.3 0 0 0 0.77  0.26 0 0 0 0.8  0 0 0 0 1"/>
</filter>
</defs>
<g clip-path="url(#c1)">
<rect x="340" y="148" width="87" height="87" filter="url(#wellnoise)"/>
<g filter="url(#blur2)">
<ellipse cx="372" cy="222" rx="22" ry="12" fill="#faf8f9" opacity="0.9"/>
<ellipse cx="410" cy="205" rx="12" ry="20" fill="#f6f3f5" opacity="0.8"/>
<ellipse cx="395" cy="170" rx="20" ry="5" fill="#dfdadf" opacity="0.7"/>
<path d="M372 149 Q350 170 352 210 L336 210 L336 149 Z" fill="#f29aa4" opacity="0.9"/>
</g>
<g filter="url(#soft2)" fill="none" stroke-linecap="round">
<path d="M360.5 157.5 A42 42 0 0 0 343.6 204" stroke="#ee3a46" stroke-width="4.6" opacity="0.9"/>
<path d="M351 167 A42 42 0 0 0 343.8 205" stroke="#d81c2c" stroke-width="3.0" opacity="0.95"/>
<path d="M345.6 184 Q343.6 195 345.4 205" stroke="#b81222" stroke-width="1.8" opacity="0.9"/>
<path d="M362 158 Q352 170 350 186" stroke="#f4808a" stroke-width="1.6" opacity="0.8"/>
</g>
<g filter="url(#soft)">
<circle cx="354.03" cy="200.5" r="0.7" fill="#ee303c" opacity="0.75"/><circle cx="396.69" cy="225.5" r="0.7" fill="#f02834" opacity="0.83"/><circle cx="401.86" cy="204.03" r="0.35" fill="#ea1c2a" opacity="0.79"/><circle cx="362" cy="177.01" r="0.7" fill="#ee303c" opacity="0.84"/><circle cx="364.28" cy="165.44" r="0.8" fill="#ea1c2a" opacity="0.58"/><circle cx="363.76" cy="164.5" r="0.56" fill="#f23c46" opacity="0.58"/><circle cx="368.73" cy="219.33" r="0.45" fill="#e62434" opacity="0.78"/><circle cx="349.99" cy="191.55" r="0.7" fill="#f23c46" opacity="0.84"/><circle cx="423.91" cy="190.9" r="0.35" fill="#e62434" opacity="0.87"/><circle cx="384.67" cy="162.32" r="0.3" fill="#ea1c2a" opacity="0.58"/><circle cx="419.46" cy="181.71" r="0.3" fill="#ea1c2a" opacity="0.65"/><circle cx="343.52" cy="199.07" r="0.6" fill="#ee303c" opacity="0.74"/><circle cx="358.47" cy="165.34" r="0.5" fill="#e62434" opacity="0.7"/><circle cx="363.33" cy="226.29" r="0.35" fill="#ea1c2a" opacity="0.61"/><circle cx="410.95" cy="193.41" r="0.7" fill="#ee303c" opacity="0.63"/><circle cx="394.19" cy="218.45" r="0.4" fill="#f23c46" opacity="0.74"/><circle cx="402.89" cy="209.19" r="0.45" fill="#ee303c" opacity="0.55"/><circle cx="370.39" cy="227.68" r="0.45" fill="#ee303c" opacity="0.63"/><circle cx="375.08" cy="181.45" r="0.4" fill="#e62434" opacity="0.65"/><circle cx="415.02" cy="193.42" r="0.5" fill="#ea1c2a" opacity="0.72"/><circle cx="409.48" cy="208.21" r="0.45" fill="#e62434" opacity="0.56"/><circle cx="364.18" cy="211.32" r="0.7" fill="#f02834" opacity="0.92"/><circle cx="394.86" cy="178.53" r="0.4" fill="#f02834" opacity="0.69"/><circle cx="391.62" cy="172.94" r="0.45" fill="#ee303c" opacity="0.62"/><circle cx="396.3" cy="229.05" r="0.7" fill="#f23c46" opacity="0.82"/><circle cx="396.08" cy="195.45" r="0.5" fill="#f23c46" opacity="0.66"/><circle cx="381.58" cy="228.49" r="0.95" fill="#ee303c" opacity="0.77"/><circle cx="382.02" cy="227.63" r="0.66" fill="#f02834" opacity="0.77"/><circle cx="350.5" cy="195.78" r="0.95" fill="#e62434" opacity="0.83"/><circle cx="351.33" cy="196.28" r="0.66" fill="#ea1c2a" opacity="0.83"/><circle cx="379.92" cy="218.54" r="0.3" fill="#e62434" opacity="0.57"/><circle cx="358.25" cy="220.84" r="1.1" fill="#ee303c" opacity="0.88"/><circle cx="412.07" cy="173.24" r="0.3" fill="#ea1c2a" opacity="0.56"/><circle cx="348.55" cy="195.38" r="0.55" fill="#ea1c2a" opacity="0.61"/><circle cx="410.04" cy="205.23" r="0.3" fill="#f02834" opacity="0.96"/><circle cx="393.68" cy="153.91" r="0.55" fill="#f23c46" opacity="0.59"/><circle cx="414.12" cy="169.28" r="0.6" fill="#ea1c2a" opacity="0.97"/><circle cx="403.4" cy="168.14" r="0.95" fill="#f23c46" opacity="0.85"/><circle cx="374.24" cy="184.2" r="1.1" fill="#e62434" opacity="0.6"/><circle cx="379.73" cy="166.31" r="0.95" fill="#f23c46" opacity="0.76"/><circle cx="413.75" cy="209.26" r="0.3" fill="#ea1c2a" opacity="0.69"/><circle cx="363.76" cy="193.84" r="0.7" fill="#f23c46" opacity="0.9"/><circle cx="375.19" cy="174.98" r="0.4" fill="#e62434" opacity="0.89"/><circle cx="368.67" cy="168.6" r="0.45" fill="#e62434" opacity="0.7"/><circle cx="391.71" cy="216.89" r="0.45" fill="#f23c46" opacity="0.95"/><circle cx="390.64" cy="229.94" r="0.45" fill="#f23c46" opacity="0.61"/><circle cx="420.36" cy="207.34" r="0.4" fill="#f23c46" opacity="0.6"/><circle cx="380.23" cy="210.14" r="0.6" fill="#ee303c" opacity="0.72"/><circle cx="360.3" cy="192.38" r="0.95" fill="#ea1c2a" opacity="0.75"/><circle cx="377.61" cy="222.81" r="1.1" fill="#ee303c" opacity="0.87"/><circle cx="377.91" cy="222.93" r="0.77" fill="#f02834" opacity="0.87"/><circle cx="368.48" cy="201.48" r="0.5" fill="#f02834" opacity="0.66"/><circle cx="394.94" cy="152.77" r="0.35" fill="#ee303c" opacity="0.75"/><circle cx="362.6" cy="161.17" r="0.35" fill="#f02834" opacity="0.86"/><circle cx="392.44" cy="173.04" r="0.3" fill="#ee303c" opacity="0.89"/><circle cx="379.35" cy="174.67" r="0.5" fill="#ee303c" opacity="0.9"/><circle cx="373.63" cy="163.66" r="0.95" fill="#f02834" opacity="1"/><circle cx="374.22" cy="164.48" r="0.66" fill="#ea1c2a" opacity="1"/><circle cx="365.97" cy="197.04" r="0.3" fill="#ee303c" opacity="0.72"/><circle cx="366.59" cy="167.82" r="0.55" fill="#f02834" opacity="0.76"/><circle cx="414.06" cy="213.62" r="1.1" fill="#ea1c2a" opacity="0.97"/><circle cx="414.86" cy="214.58" r="0.77" fill="#e62434" opacity="0.97"/><circle cx="347.89" cy="183.15" r="0.55" fill="#ea1c2a" opacity="0.67"/><circle cx="376.39" cy="201.06" r="0.7" fill="#f23c46" opacity="0.7"/><circle cx="386.46" cy="163.2" r="0.3" fill="#ea1c2a" opacity="0.65"/><circle cx="376.31" cy="194.8" r="1.1" fill="#f02834" opacity="0.9"/><circle cx="377.3" cy="195.6" r="0.77" fill="#ee303c" opacity="0.9"/><circle cx="401.35" cy="162.9" r="0.7" fill="#ea1c2a" opacity="0.81"/><circle cx="384.53" cy="164.49" r="0.8" fill="#ee303c" opacity="0.68"/><circle cx="346.11" cy="186.15" r="0.8" fill="#f23c46" opacity="0.67"/><circle cx="405.01" cy="168.29" r="0.5" fill="#ee303c" opacity="0.93"/><circle cx="352.67" cy="186.82" r="0.45" fill="#ea1c2a" opacity="0.73"/><circle cx="351.47" cy="190.87" r="0.3" fill="#ea1c2a" opacity="0.79"/><circle cx="357.51" cy="188.91" r="0.95" fill="#ea1c2a" opacity="0.6"/><circle cx="410.62" cy="203.55" r="0.6" fill="#f23c46" opacity="0.96"/><circle cx="379.82" cy="219.36" r="0.4" fill="#f23c46" opacity="0.7"/><circle cx="369.92" cy="189.4" r="0.6" fill="#e62434" opacity="0.83"/><circle cx="407.94" cy="217.67" r="0.3" fill="#f02834" opacity="0.57"/><circle cx="388.02" cy="224.97" r="0.55" fill="#f02834" opacity="0.88"/><circle cx="373.55" cy="182.47" r="0.95" fill="#ee303c" opacity="0.61"/><circle cx="376.31" cy="158.03" r="0.6" fill="#f23c46" opacity="0.56"/><circle cx="397.77" cy="162.99" r="0.8" fill="#ee303c" opacity="0.64"/><circle cx="346.21" cy="184.53" r="0.95" fill="#f02834" opacity="0.81"/><circle cx="346.69" cy="185.16" r="0.66" fill="#f02834" opacity="0.81"/><circle cx="373.99" cy="212.46" r="0.45" fill="#f02834" opacity="0.65"/><circle cx="394.56" cy="181.81" r="0.45" fill="#ea1c2a" opacity="0.61"/><circle cx="382.44" cy="204.19" r="0.6" fill="#f02834" opacity="0.79"/><circle cx="393.07" cy="222.29" r="0.3" fill="#ee303c" opacity="0.59"/><circle cx="367.15" cy="156.01" r="0.55" fill="#ee303c" opacity="0.6"/><circle cx="367.35" cy="173.6" r="1.1" fill="#ea1c2a" opacity="0.92"/><circle cx="366.4" cy="174.12" r="0.77" fill="#ee303c" opacity="0.92"/><circle cx="352.56" cy="188.64" r="0.4" fill="#ea1c2a" opacity="0.64"/><circle cx="393.88" cy="227.34" r="0.5" fill="#ea1c2a" opacity="0.97"/><circle cx="370.08" cy="184.31" r="1.1" fill="#ea1c2a" opacity="0.76"/><circle cx="370.01" cy="184.34" r="0.77" fill="#f23c46" opacity="0.76"/><circle cx="389.39" cy="215.64" r="1.1" fill="#f02834" opacity="0.87"/><circle cx="389.29" cy="216.12" r="0.77" fill="#f23c46" opacity="0.87"/><circle cx="411.18" cy="176.54" r="0.35" fill="#ea1c2a" opacity="0.78"/><circle cx="377.89" cy="202.13" r="1.1" fill="#ee303c" opacity="0.97"/><circle cx="342.77" cy="190.41" r="0.5" fill="#ea1c2a" opacity="0.68"/><circle cx="381.94" cy="155.53" r="0.6" fill="#e62434" opacity="0.61"/><circle cx="407.97" cy="168.19" r="0.6" fill="#f23c46" opacity="0.89"/><circle cx="387.9" cy="208.4" r="0.55" fill="#ea1c2a" opacity="0.69"/><circle cx="407.48" cy="193.12" r="1.1" fill="#ea1c2a" opacity="0.96"/><circle cx="408.37" cy="193.45" r="0.77" fill="#e62434" opacity="0.96"/><circle cx="388.7" cy="216.91" r="0.4" fill="#f23c46" opacity="0.79"/><circle cx="354.54" cy="188.85" r="0.45" fill="#f23c46" opacity="0.87"/><circle cx="389.32" cy="190.73" r="0.95" fill="#f02834" opacity="0.6"/><circle cx="389.12" cy="189.83" r="0.66" fill="#f02834" opacity="0.6"/><circle cx="380.67" cy="188.1" r="0.5" fill="#e62434" opacity="0.66"/><circle cx="355.55" cy="182.51" r="0.8" fill="#ea1c2a" opacity="0.81"/><circle cx="387.31" cy="181.02" r="0.95" fill="#ea1c2a" opacity="0.85"/><circle cx="388.19" cy="180.79" r="0.66" fill="#f02834" opacity="0.85"/><circle cx="401.71" cy="167.84" r="0.95" fill="#f23c46" opacity="0.58"/><circle cx="401.76" cy="168.04" r="0.66" fill="#e62434" opacity="0.58"/><circle cx="355.35" cy="186.11" r="0.5" fill="#e62434" opacity="0.8"/><circle cx="364.97" cy="161.29" r="0.3" fill="#f02834" opacity="0.56"/><circle cx="355.34" cy="174.83" r="0.6" fill="#f23c46" opacity="0.89"/><circle cx="404.86" cy="198.96" r="0.6" fill="#e62434" opacity="0.57"/><circle cx="417.96" cy="208.8" r="0.6" fill="#e62434" opacity="0.87"/><circle cx="403.06" cy="188.12" r="0.8" fill="#f23c46" opacity="0.59"/><circle cx="403.98" cy="187.61" r="0.56" fill="#ea1c2a" opacity="0.59"/><circle cx="408.24" cy="199.71" r="0.35" fill="#ea1c2a" opacity="0.64"/><circle cx="373.23" cy="204.08" r="0.55" fill="#f23c46" opacity="0.75"/><circle cx="363.12" cy="197.26" r="0.6" fill="#ee303c" opacity="0.71"/><circle cx="389.21" cy="177.65" r="0.5" fill="#f02834" opacity="0.88"/><circle cx="354.47" cy="194.93" r="0.5" fill="#ee303c" opacity="0.9"/><circle cx="395.39" cy="173.93" r="0.95" fill="#ee303c" opacity="0.86"/><circle cx="391.13" cy="211.53" r="0.45" fill="#f02834" opacity="0.64"/><circle cx="350.23" cy="191.05" r="0.45" fill="#ea1c2a" opacity="0.95"/><circle cx="380.45" cy="188.63" r="0.5" fill="#ee303c" opacity="0.74"/><circle cx="401.9" cy="196.06" r="0.5" fill="#ea1c2a" opacity="0.58"/><circle cx="397.17" cy="182.98" r="0.45" fill="#e62434" opacity="0.83"/><circle cx="359.04" cy="193.94" r="0.55" fill="#f02834" opacity="0.7"/><circle cx="389.08" cy="182.05" r="0.35" fill="#ee303c" opacity="0.75"/><circle cx="401.99" cy="161.05" r="0.7" fill="#e62434" opacity="0.74"/><circle cx="370.99" cy="201.59" r="0.4" fill="#ee303c" opacity="0.84"/><circle cx="369.41" cy="218.39" r="0.4" fill="#e62434" opacity="0.74"/><circle cx="358.95" cy="178.05" r="0.55" fill="#ea1c2a" opacity="0.59"/><circle cx="355.22" cy="204.24" r="1.1" fill="#ea1c2a" opacity="0.76"/><circle cx="354.64" cy="204.57" r="0.77" fill="#ea1c2a" opacity="0.76"/><circle cx="373.5" cy="164.49" r="0.55" fill="#f02834" opacity="0.68"/><circle cx="389.65" cy="223.94" r="0.55" fill="#ea1c2a" opacity="0.71"/><circle cx="371.29" cy="215.84" r="0.95" fill="#e62434" opacity="0.96"/><circle cx="371.89" cy="215.44" r="0.66" fill="#e62434" opacity="0.96"/><circle cx="390.42" cy="230.98" r="0.8" fill="#e62434" opacity="0.66"/><circle cx="416.39" cy="196.57" r="0.95" fill="#f02834" opacity="0.72"/><circle cx="368.76" cy="182.19" r="0.35" fill="#e62434" opacity="0.89"/><circle cx="390.47" cy="173.74" r="0.3" fill="#ee303c" opacity="0.79"/><circle cx="381.47" cy="197.35" r="0.6" fill="#ee303c" opacity="0.58"/><circle cx="372.91" cy="219.82" r="0.55" fill="#ea1c2a" opacity="0.59"/><circle cx="392.77" cy="184.46" r="1.1" fill="#ea1c2a" opacity="0.84"/><circle cx="371.22" cy="175.22" r="0.45" fill="#ee303c" opacity="0.77"/><circle cx="368.66" cy="215.01" r="0.55" fill="#e62434" opacity="0.7"/><circle cx="369.77" cy="166.18" r="0.8" fill="#ea1c2a" opacity="0.91"/><circle cx="405.7" cy="178.19" r="1.1" fill="#ea1c2a" opacity="0.71"/><circle cx="402.53" cy="158.25" r="0.8" fill="#ee303c" opacity="0.84"/><circle cx="401.55" cy="157.47" r="0.56" fill="#f23c46" opacity="0.84"/><circle cx="400.64" cy="181.27" r="0.4" fill="#f23c46" opacity="1"/><circle cx="373.9" cy="170.34" r="0.6" fill="#e62434" opacity="0.74"/><circle cx="377.42" cy="229.47" r="0.7" fill="#ea1c2a" opacity="0.69"/><circle cx="377.89" cy="206.69" r="0.4" fill="#f23c46" opacity="0.96"/><circle cx="411.33" cy="194.55" r="0.3" fill="#f02834" opacity="0.69"/><circle cx="390.8" cy="208.94" r="0.45" fill="#f23c46" opacity="0.82"/><circle cx="367.22" cy="180.67" r="0.4" fill="#f23c46" opacity="0.95"/><circle cx="399.81" cy="222.88" r="0.5" fill="#ee303c" opacity="0.83"/><circle cx="362.55" cy="194.18" r="0.55" fill="#ea1c2a" opacity="0.85"/><circle cx="417.76" cy="179.67" r="0.6" fill="#ee303c" opacity="0.99"/><circle cx="388.68" cy="155.71" r="0.3" fill="#f02834" opacity="0.85"/><circle cx="412.92" cy="167.59" r="0.55" fill="#f02834" opacity="0.75"/><circle cx="375.94" cy="160.58" r="0.4" fill="#e62434" opacity="0.74"/><circle cx="407.08" cy="222.18" r="0.8" fill="#ee303c" opacity="0.61"/><circle cx="407.15" cy="221.48" r="0.56" fill="#f02834" opacity="0.61"/><circle cx="420.18" cy="191.82" r="0.4" fill="#ea1c2a" opacity="0.92"/><circle cx="409.34" cy="169.78" r="0.35" fill="#ee303c" opacity="0.98"/><circle cx="355.25" cy="183.68" r="0.3" fill="#f23c46" opacity="0.91"/><circle cx="395" cy="223.07" r="0.7" fill="#ee303c" opacity="0.64"/><circle cx="358.68" cy="206.39" r="0.5" fill="#f23c46" opacity="0.69"/><circle cx="403.23" cy="201.87" r="0.7" fill="#ea1c2a" opacity="0.85"/><circle cx="361.37" cy="208.6" r="0.35" fill="#ea1c2a" opacity="0.84"/><circle cx="405.75" cy="165.49" r="0.7" fill="#ee303c" opacity="0.66"/><circle cx="410.34" cy="214.92" r="0.45" fill="#f02834" opacity="0.96"/><circle cx="376.92" cy="215.72" r="0.8" fill="#e62434" opacity="0.89"/><circle cx="371.9" cy="187.38" r="0.45" fill="#ea1c2a" opacity="0.64"/><circle cx="364.22" cy="226.33" r="1.1" fill="#f23c46" opacity="0.7"/><circle cx="363.51" cy="225.52" r="0.77" fill="#f02834" opacity="0.7"/><circle cx="394.24" cy="214.91" r="0.7" fill="#ea1c2a" opacity="0.82"/><circle cx="389.13" cy="195.83" r="0.6" fill="#ea1c2a" opacity="0.73"/><circle cx="363.04" cy="222.55" r="0.4" fill="#f02834" opacity="0.84"/><circle cx="394.15" cy="168.64" r="0.55" fill="#ee303c" opacity="0.96"/><circle cx="408.91" cy="194" r="0.55" fill="#f02834" opacity="0.99"/><circle cx="366.18" cy="164.6" r="0.3" fill="#f02834" opacity="0.67"/><circle cx="362.27" cy="211.75" r="0.35" fill="#f02834" opacity="0.83"/><circle cx="382.47" cy="221.44" r="0.5" fill="#e62434" opacity="0.8"/><circle cx="360.91" cy="172.58" r="0.95" fill="#ee303c" opacity="0.87"/><circle cx="372.62" cy="153.47" r="0.95" fill="#f02834" opacity="0.98"/><circle cx="401.68" cy="212.81" r="0.6" fill="#e62434" opacity="0.86"/><circle cx="415.15" cy="212.27" r="0.5" fill="#ea1c2a" opacity="0.76"/><circle cx="349.9" cy="201.79" r="0.45" fill="#ee303c" opacity="0.96"/><circle cx="373.34" cy="188.56" r="0.5" fill="#e62434" opacity="0.63"/><circle cx="371.72" cy="182.99" r="0.3" fill="#e62434" opacity="0.68"/><circle cx="384.97" cy="222.35" r="0.4" fill="#ee303c" opacity="0.63"/><circle cx="393.52" cy="166.01" r="0.6" fill="#f02834" opacity="0.63"/><circle cx="371.36" cy="222.76" r="0.6" fill="#ea1c2a" opacity="0.83"/><circle cx="397.43" cy="213.48" r="0.3" fill="#f23c46" opacity="0.61"/><circle cx="402.34" cy="209.08" r="0.55" fill="#e62434" opacity="0.78"/><circle cx="384.65" cy="230.86" r="0.3" fill="#ea1c2a" opacity="0.84"/><circle cx="376.78" cy="155.87" r="0.6" fill="#ee303c" opacity="0.98"/><circle cx="402.37" cy="205.9" r="0.95" fill="#ee303c" opacity="0.96"/><circle cx="383.51" cy="163.06" r="0.7" fill="#f23c46" opacity="0.93"/><circle cx="389.55" cy="179.05" r="0.35" fill="#ee303c" opacity="0.96"/><circle cx="368.96" cy="217.27" r="0.6" fill="#e62434" opacity="0.96"/><circle cx="401.74" cy="179.28" r="0.95" fill="#f23c46" opacity="0.96"/><circle cx="383.47" cy="168.98" r="0.95" fill="#f02834" opacity="0.94"/><circle cx="383.36" cy="168.98" r="0.66" fill="#f23c46" opacity="0.94"/><circle cx="410.92" cy="186.67" r="0.35" fill="#f02834" opacity="0.79"/><circle cx="351.45" cy="182.28" r="0.45" fill="#e62434" opacity="0.95"/><circle cx="400.9" cy="171.8" r="0.4" fill="#f23c46" opacity="0.65"/><circle cx="347.79" cy="175.7" r="0.35" fill="#f02834" opacity="0.78"/><circle cx="404.51" cy="212.49" r="0.7" fill="#f02834" opacity="0.55"/><circle cx="382.34" cy="185.25" r="0.4" fill="#f23c46" opacity="0.58"/><circle cx="393.48" cy="167.93" r="0.55" fill="#f02834" opacity="0.86"/><circle cx="390.1" cy="193.55" r="0.5" fill="#f02834" opacity="0.7"/><circle cx="420.11" cy="175.23" r="0.7" fill="#f02834" opacity="0.95"/><circle cx="372.18" cy="229.11" r="0.3" fill="#e62434" opacity="0.64"/><circle cx="387.37" cy="188.45" r="1.1" fill="#ee303c" opacity="0.95"/><circle cx="387.63" cy="187.83" r="0.77" fill="#ea1c2a" opacity="0.95"/><circle cx="369.95" cy="173.23" r="0.55" fill="#e62434" opacity="0.98"/><circle cx="406.72" cy="166.32" r="0.4" fill="#f23c46" opacity="0.7"/><circle cx="368.74" cy="200.03" r="0.35" fill="#f02834" opacity="0.87"/><circle cx="379.09" cy="225.88" r="0.8" fill="#e62434" opacity="0.85"/><circle cx="379.41" cy="226.65" r="0.56" fill="#ee303c" opacity="0.85"/><circle cx="343.07" cy="187.47" r="0.4" fill="#e62434" opacity="0.85"/><circle cx="405.63" cy="216.17" r="0.7" fill="#f23c46" opacity="0.99"/><circle cx="392.82" cy="185.99" r="0.3" fill="#ee303c" opacity="0.55"/><circle cx="378.8" cy="211.46" r="0.95" fill="#e62434" opacity="0.59"/><circle cx="389.61" cy="207.55" r="0.8" fill="#f02834" opacity="0.56"/><circle cx="410.31" cy="197.31" r="0.95" fill="#f23c46" opacity="0.72"/><circle cx="409.43" cy="197.86" r="0.66" fill="#e62434" opacity="0.72"/><circle cx="370.99" cy="217.11" r="0.3" fill="#ee303c" opacity="0.78"/><circle cx="398.33" cy="162.73" r="0.8" fill="#ee303c" opacity="0.88"/><circle cx="398.89" cy="162.06" r="0.56" fill="#ee303c" opacity="0.88"/><circle cx="352.54" cy="204.64" r="0.8" fill="#f02834" opacity="0.9"/><circle cx="352.63" cy="205.34" r="0.56" fill="#ee303c" opacity="0.9"/><circle cx="375.53" cy="191.55" r="0.95" fill="#ea1c2a" opacity="0.99"/><circle cx="395.28" cy="179.1" r="0.4" fill="#ee303c" opacity="0.82"/><circle cx="356.31" cy="192.16" r="0.7" fill="#ea1c2a" opacity="0.88"/><circle cx="418.1" cy="208.61" r="0.95" fill="#ee303c" opacity="0.84"/><circle cx="384.38" cy="207.06" r="0.5" fill="#e62434" opacity="0.74"/><circle cx="398.06" cy="159.74" r="0.5" fill="#f23c46" opacity="0.89"/><circle cx="414.59" cy="211" r="0.4" fill="#f02834" opacity="0.72"/><circle cx="401.4" cy="220.11" r="0.95" fill="#ea1c2a" opacity="0.9"/><circle cx="401.34" cy="220.5" r="0.66" fill="#ea1c2a" opacity="0.9"/><circle cx="407.73" cy="217.11" r="0.95" fill="#f02834" opacity="0.99"/><circle cx="343.07" cy="186" r="0.3" fill="#ee303c" opacity="0.66"/><circle cx="399.31" cy="211.36" r="0.5" fill="#ea1c2a" opacity="0.76"/><circle cx="416.31" cy="185.54" r="0.95" fill="#e62434" opacity="0.65"/><circle cx="417.02" cy="185.37" r="0.66" fill="#ea1c2a" opacity="0.65"/><circle cx="405.63" cy="181.36" r="0.55" fill="#ee303c" opacity="0.98"/><circle cx="386.43" cy="207.52" r="0.95" fill="#ea1c2a" opacity="0.84"/><circle cx="347.68" cy="175.49" r="0.95" fill="#f02834" opacity="0.97"/><circle cx="347.46" cy="176.17" r="0.66" fill="#f23c46" opacity="0.97"/><circle cx="384" cy="227.83" r="0.4" fill="#f23c46" opacity="0.77"/><circle cx="389.38" cy="218.71" r="0.5" fill="#f23c46" opacity="0.76"/><circle cx="416.8" cy="190.09" r="0.7" fill="#f23c46" opacity="0.64"/><circle cx="413.7" cy="181.32" r="0.8" fill="#e62434" opacity="0.63"/><circle cx="353.22" cy="177.99" r="0.45" fill="#e62434" opacity="0.67"/><circle cx="415.79" cy="203.75" r="0.55" fill="#f02834" opacity="0.61"/><circle cx="376.75" cy="153.18" r="0.3" fill="#f23c46" opacity="1"/><circle cx="347.33" cy="203.17" r="0.6" fill="#ee303c" opacity="0.7"/><circle cx="372.3" cy="171.9" r="0.95" fill="#ea1c2a" opacity="0.66"/><circle cx="372.33" cy="171.15" r="0.66" fill="#f02834" opacity="0.66"/><circle cx="373.07" cy="216.06" r="0.8" fill="#ee303c" opacity="0.86"/><circle cx="380.93" cy="226.18" r="1.1" fill="#f02834" opacity="0.72"/><circle cx="356.51" cy="185.54" r="0.4" fill="#e62434" opacity="0.72"/><circle cx="386.51" cy="213.3" r="0.55" fill="#f02834" opacity="0.83"/><circle cx="389.38" cy="193.12" r="0.95" fill="#e62434" opacity="0.56"/><circle cx="417.6" cy="206.88" r="0.8" fill="#ea1c2a" opacity="0.86"/><circle cx="396.58" cy="176.96" r="1.1" fill="#f23c46" opacity="0.67"/><circle cx="396.57" cy="176.94" r="0.77" fill="#e62434" opacity="0.67"/><circle cx="375.83" cy="224.91" r="0.45" fill="#f23c46" opacity="0.62"/><circle cx="393.84" cy="225.64" r="0.55" fill="#f02834" opacity="0.85"/><circle cx="348.33" cy="187" r="0.6" fill="#f23c46" opacity="0.91"/><circle cx="353.53" cy="174.54" r="0.8" fill="#ea1c2a" opacity="0.69"/><circle cx="411.51" cy="218.2" r="0.6" fill="#f23c46" opacity="0.67"/><circle cx="351.98" cy="192.37" r="0.7" fill="#e62434" opacity="0.87"/><circle cx="367.64" cy="207.4" r="1.1" fill="#f23c46" opacity="0.95"/><circle cx="367.32" cy="208.2" r="0.77" fill="#ea1c2a" opacity="0.95"/><circle cx="348.04" cy="173.26" r="0.35" fill="#ee303c" opacity="0.83"/><circle cx="352.41" cy="183" r="0.35" fill="#f23c46" opacity="0.67"/><circle cx="401.55" cy="174.21" r="0.6" fill="#f02834" opacity="0.57"/><circle cx="374.54" cy="172.03" r="0.7" fill="#ea1c2a" opacity="0.71"/><circle cx="393.73" cy="205.97" r="0.45" fill="#f02834" opacity="0.67"/><circle cx="383.32" cy="192.74" r="0.8" fill="#ea1c2a" opacity="0.99"/><circle cx="383.31" cy="193.04" r="0.56" fill="#ee303c" opacity="0.99"/><circle cx="415.75" cy="209.14" r="0.55" fill="#ea1c2a" opacity="0.67"/><circle cx="400.46" cy="176.54" r="0.45" fill="#f02834" opacity="0.86"/><circle cx="419.3" cy="183.17" r="0.4" fill="#f23c46" opacity="0.7"/><circle cx="390.69" cy="170.7" r="0.6" fill="#ee303c" opacity="0.68"/><circle cx="350.4" cy="191.84" r="0.55" fill="#f02834" opacity="0.7"/><circle cx="413.63" cy="174.13" r="0.35" fill="#ea1c2a" opacity="1"/><circle cx="400.3" cy="176.54" r="0.7" fill="#f23c46" opacity="0.78"/><circle cx="414.34" cy="199.57" r="0.6" fill="#ea1c2a" opacity="0.94"/><circle cx="368.79" cy="212.8" r="0.6" fill="#e62434" opacity="0.66"/><circle cx="394.61" cy="176.98" r="0.95" fill="#ee303c" opacity="0.92"/><circle cx="374.07" cy="180.29" r="0.5" fill="#f02834" opacity="0.91"/><circle cx="392.97" cy="222.14" r="0.5" fill="#f02834" opacity="0.65"/><circle cx="410.85" cy="186.91" r="0.4" fill="#e62434" opacity="0.67"/><circle cx="354.86" cy="207.24" r="0.6" fill="#f02834" opacity="0.72"/><circle cx="416.06" cy="201.88" r="0.35" fill="#f02834" opacity="0.94"/><circle cx="375.37" cy="225.5" r="0.35" fill="#ea1c2a" opacity="0.73"/><circle cx="401.95" cy="158.75" r="0.4" fill="#e62434" opacity="0.72"/><circle cx="347.93" cy="205.78" r="1.1" fill="#f23c46" opacity="0.68"/><circle cx="370.31" cy="199.89" r="1.1" fill="#ee303c" opacity="0.86"/><circle cx="371.05" cy="199.77" r="0.77" fill="#ea1c2a" opacity="0.86"/><circle cx="346.95" cy="178.14" r="0.7" fill="#f02834" opacity="0.74"/><circle cx="380.67" cy="196.57" r="0.4" fill="#f23c46" opacity="0.67"/><circle cx="380.27" cy="210.74" r="0.7" fill="#ee303c" opacity="0.64"/><circle cx="400.92" cy="177.33" r="0.35" fill="#e62434" opacity="0.55"/><circle cx="342.68" cy="195.73" r="0.45" fill="#f23c46" opacity="1"/><circle cx="357.06" cy="194.09" r="0.8" fill="#ea1c2a" opacity="0.73"/><circle cx="357.29" cy="194.75" r="0.56" fill="#e62434" opacity="0.73"/><circle cx="376.5" cy="230.46" r="0.45" fill="#f23c46" opacity="1"/><circle cx="347.53" cy="174.37" r="0.3" fill="#ea1c2a" opacity="0.63"/><circle cx="411.36" cy="181.3" r="1.1" fill="#e62434" opacity="0.58"/><circle cx="411.48" cy="180.43" r="0.77" fill="#f23c46" opacity="0.58"/><circle cx="401.86" cy="192.73" r="0.55" fill="#ee303c" opacity="0.55"/><circle cx="381.31" cy="211.61" r="0.7" fill="#ee303c" opacity="0.73"/><circle cx="399.96" cy="159.92" r="0.35" fill="#f23c46" opacity="0.97"/><circle cx="388.47" cy="188.14" r="0.95" fill="#e62434" opacity="0.61"/><circle cx="388.21" cy="188.45" r="0.66" fill="#e62434" opacity="0.61"/><circle cx="364.08" cy="171.92" r="0.5" fill="#e62434" opacity="0.68"/><circle cx="365.78" cy="179.79" r="0.45" fill="#f02834" opacity="0.88"/><circle cx="389.77" cy="214.64" r="0.4" fill="#e62434" opacity="0.61"/><circle cx="395.09" cy="195.55" r="0.45" fill="#f02834" opacity="0.56"/><circle cx="409.88" cy="189.4" r="0.45" fill="#f02834" opacity="0.77"/><circle cx="387.33" cy="181.53" r="0.6" fill="#e62434" opacity="0.98"/><circle cx="409.65" cy="167.11" r="0.8" fill="#f02834" opacity="1"/><circle cx="362.85" cy="158.3" r="0.3" fill="#ee303c" opacity="0.65"/><circle cx="368.06" cy="213.91" r="1.1" fill="#ee303c" opacity="0.74"/><circle cx="408.55" cy="215.73" r="0.7" fill="#f23c46" opacity="0.75"/><circle cx="361.07" cy="203.78" r="0.45" fill="#ee303c" opacity="0.72"/><circle cx="356.92" cy="178.57" r="0.3" fill="#f23c46" opacity="0.79"/><circle cx="353.51" cy="201.81" r="0.95" fill="#e62434" opacity="0.57"/><circle cx="353.45" cy="202.79" r="0.66" fill="#ee303c" opacity="0.57"/><circle cx="369.7" cy="223.82" r="0.8" fill="#f02834" opacity="0.73"/><circle cx="394.07" cy="183.33" r="0.4" fill="#f02834" opacity="0.93"/><circle cx="400.61" cy="159.49" r="0.8" fill="#e62434" opacity="0.66"/><circle cx="401.35" cy="159.91" r="0.56" fill="#e62434" opacity="0.66"/><circle cx="359.25" cy="188.83" r="0.45" fill="#f23c46" opacity="0.79"/><circle cx="390.38" cy="211.84" r="1.1" fill="#ea1c2a" opacity="0.66"/><circle cx="389.81" cy="163.69" r="0.45" fill="#f23c46" opacity="0.58"/><circle cx="405.16" cy="163.2" r="0.8" fill="#ea1c2a" opacity="0.99"/><circle cx="397.48" cy="211.63" r="0.35" fill="#e62434" opacity="0.7"/><circle cx="401.57" cy="186.2" r="0.5" fill="#f02834" opacity="0.6"/><circle cx="377.78" cy="186.76" r="1.1" fill="#f23c46" opacity="0.83"/><circle cx="378.76" cy="186.17" r="0.77" fill="#e62434" opacity="0.83"/><circle cx="408.05" cy="167.13" r="0.45" fill="#f23c46" opacity="0.8"/><circle cx="356.61" cy="217.04" r="1.1" fill="#ee303c" opacity="0.98"/><circle cx="356.03" cy="217.57" r="0.77" fill="#f02834" opacity="0.98"/><circle cx="373.56" cy="165.36" r="0.4" fill="#e62434" opacity="0.68"/><circle cx="412.9" cy="179.96" r="0.55" fill="#ea1c2a" opacity="0.69"/><circle cx="417.11" cy="190.4" r="0.55" fill="#f23c46" opacity="0.94"/><circle cx="386.56" cy="201.88" r="0.5" fill="#ee303c" opacity="0.74"/><circle cx="360.01" cy="206.42" r="0.8" fill="#ea1c2a" opacity="0.61"/><circle cx="360.42" cy="205.89" r="0.56" fill="#ee303c" opacity="0.61"/><circle cx="393.79" cy="201.14" r="0.5" fill="#ea1c2a" opacity="0.98"/><circle cx="370.97" cy="166.85" r="0.7" fill="#f23c46" opacity="0.72"/><circle cx="361.22" cy="175.27" r="0.35" fill="#e62434" opacity="0.72"/><circle cx="377.91" cy="218.07" r="0.5" fill="#ea1c2a" opacity="0.68"/><circle cx="373.71" cy="173.69" r="0.6" fill="#ee303c" opacity="0.72"/><circle cx="399.4" cy="178.99" r="0.6" fill="#ea1c2a" opacity="0.68"/><circle cx="399.33" cy="157.51" r="0.95" fill="#ea1c2a" opacity="0.6"/><circle cx="398.75" cy="158.09" r="0.66" fill="#ea1c2a" opacity="0.6"/><circle cx="358.75" cy="216.11" r="0.55" fill="#ea1c2a" opacity="1"/><circle cx="375.26" cy="177.49" r="0.35" fill="#f23c46" opacity="0.71"/><circle cx="354.96" cy="190.48" r="1.1" fill="#f02834" opacity="0.82"/><circle cx="408.82" cy="190.31" r="0.45" fill="#ea1c2a" opacity="0.84"/><circle cx="393.72" cy="191.34" r="0.7" fill="#f02834" opacity="0.85"/><circle cx="352.21" cy="188.01" r="0.7" fill="#f02834" opacity="0.72"/><circle cx="370.62" cy="190.27" r="0.35" fill="#ee303c" opacity="0.55"/><circle cx="391.99" cy="153.67" r="1.1" fill="#f23c46" opacity="0.92"/><circle cx="403.6" cy="210.58" r="0.3" fill="#e62434" opacity="0.72"/><circle cx="419.49" cy="178.31" r="0.3" fill="#f23c46" opacity="0.6"/><circle cx="354.15" cy="184.84" r="0.35" fill="#ea1c2a" opacity="0.9"/><circle cx="373.95" cy="219.05" r="0.35" fill="#f02834" opacity="0.58"/><circle cx="391.52" cy="200.33" r="0.5" fill="#f02834" opacity="0.71"/><circle cx="383.73" cy="217.74" r="0.3" fill="#ee303c" opacity="1"/><circle cx="354.11" cy="200.61" r="0.7" fill="#ea1c2a" opacity="0.61"/><circle cx="393.81" cy="164.55" r="0.4" fill="#ee303c" opacity="0.99"/><circle cx="398.01" cy="219.95" r="0.35" fill="#ea1c2a" opacity="0.74"/><circle cx="388.02" cy="227.61" r="0.35" fill="#f23c46" opacity="0.88"/><circle cx="399.67" cy="216.25" r="0.3" fill="#f23c46" opacity="0.73"/><circle cx="370.63" cy="229.58" r="1.1" fill="#ea1c2a" opacity="0.89"/><circle cx="370.22" cy="229.01" r="0.77" fill="#ee303c" opacity="0.89"/><circle cx="413.06" cy="216.76" r="0.55" fill="#f02834" opacity="0.95"/><circle cx="361.41" cy="159.86" r="0.4" fill="#ee303c" opacity="0.81"/><circle cx="394.61" cy="185.87" r="1.1" fill="#ee303c" opacity="0.68"/><circle cx="394.34" cy="185.73" r="0.77" fill="#f23c46" opacity="0.68"/><circle cx="400.1" cy="206.74" r="0.8" fill="#ee303c" opacity="0.58"/><circle cx="399.75" cy="207.38" r="0.56" fill="#ea1c2a" opacity="0.58"/><circle cx="381.51" cy="184.35" r="0.55" fill="#f02834" opacity="0.77"/><circle cx="353.82" cy="187.81" r="0.3" fill="#ee303c" opacity="0.72"/><circle cx="386.56" cy="190.78" r="0.95" fill="#f02834" opacity="0.71"/><circle cx="386.75" cy="190.52" r="0.66" fill="#e62434" opacity="0.71"/><circle cx="392.11" cy="226" r="0.3" fill="#f23c46" opacity="0.69"/><circle cx="409.42" cy="215.48" r="0.55" fill="#ea1c2a" opacity="0.57"/><circle cx="390.36" cy="222" r="0.6" fill="#e62434" opacity="0.84"/><circle cx="365.37" cy="204.06" r="1.1" fill="#f23c46" opacity="0.59"/><circle cx="394.66" cy="171.13" r="0.55" fill="#f02834" opacity="0.62"/><circle cx="390.99" cy="159.74" r="0.3" fill="#f23c46" opacity="1"/><circle cx="414" cy="201.07" r="0.8" fill="#e62434" opacity="0.61"/><circle cx="422.25" cy="197.02" r="0.45" fill="#ea1c2a" opacity="0.81"/><circle cx="395.83" cy="166.24" r="0.55" fill="#ea1c2a" opacity="0.86"/><circle cx="388.72" cy="201.92" r="1.1" fill="#f23c46" opacity="0.89"/><circle cx="367.07" cy="158.74" r="0.7" fill="#ea1c2a" opacity="0.69"/><circle cx="403.6" cy="157.21" r="0.55" fill="#ee303c" opacity="0.85"/><circle cx="375.1" cy="158.26" r="0.6" fill="#ee303c" opacity="0.69"/><circle cx="411.89" cy="216.44" r="0.35" fill="#ee303c" opacity="0.74"/><circle cx="408.52" cy="222.1" r="0.4" fill="#f23c46" opacity="0.94"/><circle cx="350.9" cy="212.69" r="0.45" fill="#f23c46" opacity="0.85"/><circle cx="349.35" cy="192.86" r="0.6" fill="#f23c46" opacity="0.78"/><circle cx="410.95" cy="213.08" r="0.4" fill="#e62434" opacity="0.9"/><circle cx="390.31" cy="214.43" r="0.4" fill="#f23c46" opacity="0.84"/><circle cx="358.5" cy="175.52" r="0.6" fill="#ee303c" opacity="0.75"/><circle cx="396.58" cy="171.07" r="0.95" fill="#f23c46" opacity="0.62"/><circle cx="396.98" cy="170.54" r="0.66" fill="#e62434" opacity="0.62"/><circle cx="415.42" cy="174.23" r="0.5" fill="#f02834" opacity="0.72"/><circle cx="353.96" cy="204.65" r="0.8" fill="#f23c46" opacity="0.63"/><circle cx="355.82" cy="199.31" r="0.45" fill="#ee303c" opacity="0.63"/><circle cx="401.28" cy="205.04" r="0.4" fill="#e62434" opacity="0.57"/><circle cx="355.63" cy="178.93" r="0.55" fill="#f23c46" opacity="0.77"/><circle cx="417.19" cy="180.65" r="0.5" fill="#f02834" opacity="0.59"/><circle cx="386.78" cy="209.36" r="0.8" fill="#e62434" opacity="0.88"/><circle cx="387.31" cy="209.52" r="0.56" fill="#e62434" opacity="0.88"/><circle cx="374.03" cy="168.65" r="0.5" fill="#e62434" opacity="0.82"/><circle cx="401.97" cy="207.11" r="0.4" fill="#e62434" opacity="0.79"/><circle cx="372.41" cy="172.51" r="0.8" fill="#f23c46" opacity="0.61"/><circle cx="371.47" cy="173.1" r="0.56" fill="#ee303c" opacity="0.61"/><circle cx="397.89" cy="212.31" r="0.8" fill="#ee303c" opacity="0.93"/><circle cx="398.49" cy="211.63" r="0.56" fill="#ee303c" opacity="0.93"/><circle cx="386.48" cy="170.96" r="0.3" fill="#e62434" opacity="0.74"/><circle cx="365.82" cy="166.99" r="0.7" fill="#e62434" opacity="0.75"/><circle cx="372.47" cy="207.15" r="1.1" fill="#ee303c" opacity="0.78"/><circle cx="391.63" cy="184.12" r="0.8" fill="#ea1c2a" opacity="0.6"/><circle cx="390.63" cy="184.99" r="0.56" fill="#ea1c2a" opacity="0.6"/><circle cx="391.53" cy="214.78" r="0.55" fill="#ea1c2a" opacity="0.94"/><circle cx="414.79" cy="181.06" r="0.4" fill="#ee303c" opacity="0.56"/><circle cx="407.34" cy="221.81" r="0.8" fill="#f23c46" opacity="0.79"/><circle cx="395.03" cy="218.64" r="0.55" fill="#f02834" opacity="0.83"/><circle cx="392.67" cy="182.57" r="0.4" fill="#ea1c2a" opacity="0.77"/><circle cx="380.76" cy="184.92" r="0.8" fill="#e62434" opacity="0.59"/><circle cx="380.2" cy="184.47" r="0.56" fill="#f02834" opacity="0.59"/><circle cx="422.52" cy="185.53" r="0.4" fill="#ea1c2a" opacity="0.94"/><circle cx="355.01" cy="168.49" r="1.1" fill="#ee303c" opacity="0.81"/><circle cx="354.35" cy="169.03" r="0.77" fill="#f02834" opacity="0.81"/><circle cx="390.25" cy="189.67" r="0.35" fill="#e62434" opacity="0.68"/><circle cx="389.3" cy="189.82" r="0.3" fill="#f02834" opacity="0.62"/><circle cx="372.11" cy="164.26" r="0.95" fill="#ea1c2a" opacity="0.9"/><circle cx="371.25" cy="164.84" r="0.66" fill="#f23c46" opacity="0.9"/><circle cx="396.23" cy="168.95" r="0.55" fill="#f23c46" opacity="0.65"/><circle cx="418.85" cy="194.86" r="0.5" fill="#e62434" opacity="0.57"/><circle cx="359.89" cy="187.64" r="1.1" fill="#f02834" opacity="0.71"/><circle cx="364.91" cy="197.27" r="0.4" fill="#ee303c" opacity="0.66"/><circle cx="381.3" cy="220.94" r="0.5" fill="#ea1c2a" opacity="0.81"/><circle cx="391.06" cy="209.52" r="0.5" fill="#f02834" opacity="0.78"/><circle cx="366.56" cy="159.27" r="0.8" fill="#ee303c" opacity="0.59"/><circle cx="365.99" cy="159.1" r="0.56" fill="#f02834" opacity="0.59"/><circle cx="366.44" cy="209.18" r="0.35" fill="#f23c46" opacity="1"/><circle cx="409.61" cy="191.5" r="1.1" fill="#e62434" opacity="0.9"/><circle cx="393.59" cy="228.94" r="0.8" fill="#ea1c2a" opacity="0.82"/><circle cx="394.22" cy="227.96" r="0.56" fill="#f23c46" opacity="0.82"/><circle cx="422.21" cy="199.68" r="0.6" fill="#f02834" opacity="0.96"/><circle cx="398.06" cy="198.23" r="0.7" fill="#e62434" opacity="0.98"/><circle cx="374.43" cy="152.81" r="0.45" fill="#f02834" opacity="0.66"/><circle cx="408.93" cy="168.1" r="1.1" fill="#e62434" opacity="0.75"/><circle cx="397.06" cy="184.3" r="0.35" fill="#e62434" opacity="0.99"/><circle cx="376.81" cy="178.69" r="0.55" fill="#ea1c2a" opacity="0.63"/><circle cx="378.79" cy="220.65" r="0.95" fill="#ee303c" opacity="0.75"/><circle cx="377.98" cy="220.95" r="0.66" fill="#ea1c2a" opacity="0.75"/><circle cx="403.31" cy="202.02" r="1.1" fill="#f02834" opacity="0.78"/><circle cx="374.67" cy="181.42" r="0.7" fill="#ee303c" opacity="0.91"/><circle cx="352.52" cy="199.43" r="0.7" fill="#f02834" opacity="0.76"/><circle cx="399.99" cy="213.83" r="1.1" fill="#ee303c" opacity="0.56"/><circle cx="399.1" cy="213.16" r="0.77" fill="#f02834" opacity="0.56"/><circle cx="353.1" cy="213.03" r="0.3" fill="#f23c46" opacity="0.65"/><circle cx="375.39" cy="184.86" r="0.3" fill="#ea1c2a" opacity="0.63"/><circle cx="403.38" cy="226.29" r="0.55" fill="#ee303c" opacity="0.67"/><circle cx="351.89" cy="178.66" r="0.5" fill="#e62434" opacity="0.83"/><circle cx="390.96" cy="204.88" r="0.95" fill="#f23c46" opacity="0.81"/><circle cx="391.13" cy="204.39" r="0.66" fill="#f23c46" opacity="0.81"/><circle cx="387.32" cy="230.75" r="1.1" fill="#ee303c" opacity="0.62"/><circle cx="414.41" cy="174.19" r="0.55" fill="#ee303c" opacity="0.66"/><circle cx="362.33" cy="166.61" r="0.3" fill="#ee303c" opacity="0.71"/><circle cx="410.04" cy="214.3" r="0.8" fill="#ea1c2a" opacity="0.84"/><circle cx="359.82" cy="208.29" r="1.1" fill="#ea1c2a" opacity="0.81"/><circle cx="359.81" cy="208.25" r="0.77" fill="#f02834" opacity="0.81"/><circle cx="404.41" cy="187.47" r="0.7" fill="#e62434" opacity="0.57"/><circle cx="389.3" cy="172.71" r="0.6" fill="#e62434" opacity="0.91"/><circle cx="394.22" cy="222.04" r="0.35" fill="#ee303c" opacity="0.74"/><circle cx="393.46" cy="195.43" r="0.4" fill="#ee303c" opacity="0.68"/><circle cx="343.94" cy="190.77" r="1.1" fill="#f23c46" opacity="0.65"/><circle cx="421.92" cy="186.28" r="1.1" fill="#e62434" opacity="0.66"/><circle cx="388.62" cy="175.25" r="0.7" fill="#f02834" opacity="0.69"/><circle cx="418.49" cy="201.56" r="0.8" fill="#f23c46" opacity="0.85"/><circle cx="353.27" cy="166.58" r="1.1" fill="#f02834" opacity="0.94"/><circle cx="354.24" cy="167.32" r="0.77" fill="#e62434" opacity="0.94"/><circle cx="382.35" cy="223.36" r="0.5" fill="#ee303c" opacity="0.99"/><circle cx="362.27" cy="163.06" r="1.1" fill="#f23c46" opacity="0.58"/><circle cx="391.6" cy="154.3" r="0.95" fill="#f23c46" opacity="0.67"/><circle cx="357.93" cy="192.78" r="0.55" fill="#f02834" opacity="0.57"/><circle cx="342.83" cy="191.52" r="0.45" fill="#ea1c2a" opacity="0.84"/><circle cx="373.18" cy="163.96" r="0.55" fill="#f02834" opacity="0.76"/><circle cx="403.98" cy="195.05" r="0.35" fill="#ea1c2a" opacity="0.7"/><circle cx="401.88" cy="179.89" r="0.95" fill="#f23c46" opacity="0.83"/><circle cx="372.43" cy="210.18" r="0.8" fill="#ea1c2a" opacity="1"/><circle cx="373.15" cy="210.25" r="0.56" fill="#f23c46" opacity="1"/><circle cx="384.42" cy="161.93" r="0.5" fill="#ee303c" opacity="0.64"/><circle cx="407.25" cy="162.38" r="0.8" fill="#f23c46" opacity="0.74"/><circle cx="392.83" cy="153.65" r="0.35" fill="#f23c46" opacity="0.6"/><circle cx="357.19" cy="195.45" r="1.1" fill="#ee303c" opacity="0.8"/><circle cx="382.98" cy="221.51" r="0.3" fill="#f02834" opacity="0.79"/><circle cx="400.03" cy="228.38" r="0.95" fill="#ee303c" opacity="0.62"/><circle cx="390.42" cy="161.15" r="0.55" fill="#ea1c2a" opacity="0.67"/><circle cx="375.67" cy="164.98" r="0.6" fill="#f23c46" opacity="0.99"/><circle cx="390.29" cy="210.74" r="0.3" fill="#ea1c2a" opacity="0.8"/><circle cx="379.06" cy="225.25" r="0.7" fill="#f23c46" opacity="0.94"/><circle cx="347.06" cy="191.9" r="0.45" fill="#f02834" opacity="0.73"/><circle cx="369.81" cy="162.42" r="0.3" fill="#ee303c" opacity="0.59"/><circle cx="394.15" cy="192.66" r="0.6" fill="#ee303c" opacity="0.88"/><circle cx="414.59" cy="216.04" r="0.7" fill="#e62434" opacity="0.99"/><circle cx="412.34" cy="176.91" r="0.55" fill="#f02834" opacity="0.69"/><circle cx="400.89" cy="161.71" r="0.95" fill="#f23c46" opacity="0.73"/><circle cx="381.13" cy="209.95" r="1.1" fill="#f23c46" opacity="0.75"/><circle cx="380.55" cy="209" r="0.77" fill="#e62434" opacity="0.75"/><circle cx="374.43" cy="183.05" r="0.7" fill="#ee303c" opacity="0.83"/><circle cx="359.19" cy="198.53" r="0.8" fill="#f23c46" opacity="0.99"/><circle cx="400.52" cy="200.32" r="0.45" fill="#ee303c" opacity="0.88"/><circle cx="364.58" cy="163.81" r="0.6" fill="#e62434" opacity="0.65"/><circle cx="388.58" cy="226.9" r="0.8" fill="#e62434" opacity="0.81"/><circle cx="397.84" cy="174.64" r="0.45" fill="#f23c46" opacity="0.89"/><circle cx="412.18" cy="202.93" r="0.45" fill="#f23c46" opacity="0.93"/><circle cx="420.06" cy="207.89" r="0.55" fill="#ee303c" opacity="0.89"/><circle cx="362.74" cy="194.32" r="0.6" fill="#ea1c2a" opacity="0.79"/><circle cx="406.79" cy="218.76" r="0.55" fill="#ee303c" opacity="0.91"/><circle cx="403.54" cy="184.94" r="0.95" fill="#f23c46" opacity="0.7"/><circle cx="404.39" cy="185.53" r="0.66" fill="#f23c46" opacity="0.7"/><circle cx="371.83" cy="172.74" r="0.6" fill="#ea1c2a" opacity="0.85"/><circle cx="361.42" cy="174.42" r="0.8" fill="#f23c46" opacity="0.8"/><circle cx="406.4" cy="184.52" r="0.3" fill="#e62434" opacity="0.58"/><circle cx="367.16" cy="186.74" r="0.55" fill="#f23c46" opacity="0.92"/><circle cx="378.88" cy="176.5" r="0.95" fill="#ea1c2a" opacity="0.79"/><circle cx="362.42" cy="207.04" r="0.5" fill="#ee303c" opacity="0.83"/><circle cx="383.23" cy="208.71" r="0.35" fill="#ea1c2a" opacity="0.96"/><circle cx="381.75" cy="170.57" r="0.7" fill="#ee303c" opacity="0.58"/><circle cx="419.55" cy="197.98" r="0.55" fill="#e62434" opacity="0.65"/><circle cx="375.78" cy="169" r="0.45" fill="#e62434" opacity="0.93"/><circle cx="421.69" cy="198.25" r="0.95" fill="#ee303c" opacity="0.68"/><circle cx="386.4" cy="210.49" r="0.95" fill="#e62434" opacity="0.69"/><circle cx="396.15" cy="180.33" r="0.4" fill="#f02834" opacity="0.96"/><circle cx="351.93" cy="196.83" r="0.55" fill="#e62434" opacity="0.65"/><circle cx="396.69" cy="177.54" r="0.55" fill="#f23c46" opacity="0.58"/><circle cx="381.46" cy="182.82" r="0.35" fill="#ee303c" opacity="0.89"/><circle cx="389.14" cy="189.19" r="0.55" fill="#e62434" opacity="0.57"/><circle cx="385.3" cy="162.96" r="0.8" fill="#ea1c2a" opacity="0.94"/><circle cx="349.4" cy="210.75" r="0.8" fill="#f02834" opacity="0.67"/><circle cx="370.94" cy="216.56" r="0.5" fill="#ea1c2a" opacity="0.65"/><circle cx="368.09" cy="210.76" r="0.45" fill="#e62434" opacity="0.97"/><circle cx="365.49" cy="179.94" r="0.35" fill="#ea1c2a" opacity="0.62"/><circle cx="354.56" cy="197.13" r="0.5" fill="#ee303c" opacity="0.8"/><circle cx="391.54" cy="165.62" r="0.8" fill="#f23c46" opacity="0.66"/><circle cx="391.07" cy="165.51" r="0.56" fill="#ee303c" opacity="0.66"/><circle cx="347.75" cy="184.03" r="0.45" fill="#e62434" opacity="0.68"/><circle cx="380.9" cy="198.41" r="0.95" fill="#ee303c" opacity="0.76"/><circle cx="381.64" cy="199.08" r="0.66" fill="#f23c46" opacity="0.76"/><circle cx="370.59" cy="158.63" r="0.7" fill="#ee303c" opacity="0.59"/><circle cx="347.01" cy="179.02" r="1.1" fill="#f02834" opacity="0.96"/><circle cx="346.5" cy="179.96" r="0.77" fill="#ee303c" opacity="0.96"/><circle cx="355.95" cy="205.04" r="0.3" fill="#ee303c" opacity="0.94"/><circle cx="412.06" cy="216.19" r="0.6" fill="#ea1c2a" opacity="0.87"/><circle cx="344.79" cy="204.61" r="0.6" fill="#ee303c" opacity="0.82"/><circle cx="357.11" cy="174.5" r="0.4" fill="#f02834" opacity="0.58"/><circle cx="374.49" cy="174.62" r="0.7" fill="#e62434" opacity="0.84"/><circle cx="422.29" cy="188.97" r="0.95" fill="#f02834" opacity="0.56"/><circle cx="411.41" cy="177.03" r="0.45" fill="#e62434" opacity="0.89"/><circle cx="400.2" cy="226.06" r="0.8" fill="#f02834" opacity="0.6"/><circle cx="400.83" cy="226.51" r="0.56" fill="#f02834" opacity="0.6"/><circle cx="390.26" cy="194.16" r="0.4" fill="#ea1c2a" opacity="0.91"/><circle cx="380.84" cy="153.16" r="1.1" fill="#e62434" opacity="0.98"/><circle cx="411.79" cy="171.07" r="0.55" fill="#ee303c" opacity="0.84"/>
</g>
</g>
<g clip-path="url(#c2)">
<circle cx="486.5" cy="190.3" r="41.2" fill="url(#g2)"/>
<g filter="url(#blur2)">
<ellipse cx="478" cy="163" rx="30" ry="3.5" fill="#d9d5dc" opacity="0.8"/>
<ellipse cx="468" cy="177" rx="22" ry="3.5" fill="#dedae2" opacity="0.8"/>
<ellipse cx="500" cy="212" rx="24" ry="16" fill="#fdfdfd" opacity="0.9"/>
<ellipse cx="460" cy="205" rx="12" ry="14" fill="#ebe8ed" opacity="0.8"/>
</g>
<g filter="url(#rough)">
<circle cx="468" cy="161" r="1.5" fill="#e01426"/><circle cx="474" cy="164" r="1.25" fill="#e01426"/><circle cx="474.4" cy="170.6" r="1.38" fill="#e01426"/><circle cx="487" cy="158.4" r="1.25" fill="#e01426"/><circle cx="498" cy="159.6" r="2" fill="#e01426"/><circle cx="497.2" cy="162.2" r="1.25" fill="#e01426"/><circle cx="491" cy="168" r="1.88" fill="#e01426"/><circle cx="496" cy="167" r="1.38" fill="#e01426"/><circle cx="487" cy="172" r="1.12" fill="#e01426"/><circle cx="505" cy="170" r="1.5" fill="#e01426"/><circle cx="514" cy="177.6" r="1.62" fill="#e01426"/><circle cx="512.4" cy="179" r="1.12" fill="#e01426"/><circle cx="497" cy="181" r="1.5" fill="#e01426"/><circle cx="501" cy="182.6" r="1.38" fill="#e01426"/><circle cx="503" cy="183" r="1" fill="#e01426"/><circle cx="458" cy="185" r="1.5" fill="#e01426"/><circle cx="465" cy="181.4" r="1" fill="#e01426"/><circle cx="455" cy="178" r="0.88" fill="#e01426"/><circle cx="449" cy="191" r="1" fill="#e01426"/><circle cx="461.6" cy="194" r="1.88" fill="#e01426"/><circle cx="459.4" cy="194.6" r="1.38" fill="#e01426"/><circle cx="463.6" cy="193" r="1.12" fill="#e01426"/><circle cx="471" cy="201" r="1.38" fill="#e01426"/><circle cx="472.6" cy="203" r="1.12" fill="#e01426"/><circle cx="479" cy="201" r="1.25" fill="#e01426"/><circle cx="483" cy="204" r="1.62" fill="#e01426"/><circle cx="484.4" cy="206" r="1.12" fill="#e01426"/><circle cx="481.6" cy="203" r="1" fill="#e01426"/><circle cx="490" cy="210.4" r="1.12" fill="#e01426"/><circle cx="504" cy="208" r="1" fill="#e01426"/><circle cx="506" cy="215.4" r="1" fill="#e01426"/><circle cx="463" cy="219.6" r="1.88" fill="#e01426"/><circle cx="474" cy="217" r="1.88" fill="#e01426"/><circle cx="478" cy="216" r="1.38" fill="#e01426"/><circle cx="475.4" cy="219" r="1.12" fill="#e01426"/><circle cx="476" cy="225" r="1.25" fill="#e01426"/><circle cx="483" cy="221.4" r="0.88" fill="#e01426"/><circle cx="508" cy="159.4" r="0.75" fill="#e01426"/><circle cx="514" cy="187.4" r="0.88" fill="#e01426"/><circle cx="500" cy="192.4" r="0.75" fill="#e01426"/><circle cx="476" cy="188" r="0.75" fill="#e01426"/><circle cx="480" cy="184.4" r="0.75" fill="#e01426"/><circle cx="467.4" cy="195" r="0.75" fill="#e01426"/><circle cx="471" cy="184" r="0.62" fill="#e01426"/><circle cx="493" cy="197" r="0.62" fill="#e01426"/><circle cx="498" cy="200" r="0.69" fill="#e01426"/><circle cx="502" cy="204" r="0.62" fill="#e01426"/><circle cx="486" cy="196" r="0.62" fill="#e01426"/><circle cx="489" cy="178" r="0.69" fill="#e01426"/><circle cx="509" cy="166" r="0.62" fill="#e01426"/><circle cx="478" cy="209" r="0.69" fill="#e01426"/><circle cx="470" cy="227" r="0.62" fill="#e01426"/><circle cx="484" cy="226" r="0.62" fill="#e01426"/><circle cx="474" cy="190" r="0.62" fill="#e01426"/><circle cx="453" cy="183" r="0.62" fill="#e01426"/><circle cx="466" cy="169" r="0.75" fill="#e01426"/><circle cx="480" cy="158" r="0.62" fill="#e01426"/><circle cx="503" cy="175" r="0.62" fill="#e01426"/><circle cx="495" cy="188" r="0.62" fill="#e01426"/><circle cx="506" cy="198" r="0.56" fill="#e01426"/><circle cx="488" cy="214" r="0.62" fill="#e01426"/>
</g>
</g>
<g clip-path="url(#m1)">
<rect x="341" y="236.6" width="92.5" height="70.4" filter="url(#fib1)"/>
<g filter="url(#blur2)">
<ellipse cx="386" cy="290" rx="12" ry="12" fill="#fff4fb" opacity="0.85"/>
<ellipse cx="352" cy="262" rx="7" ry="9" fill="#fde8f6" opacity="0.8"/>
<ellipse cx="421" cy="248" rx="9" ry="7" fill="#fde4f4" opacity="0.7"/>
<ellipse cx="393" cy="262" rx="6" ry="10" fill="#fdeaf6" opacity="0.7"/>
</g>
<g filter="url(#rough)"><circle cx="341.87" cy="237.96" r="1.97" fill="#d00a32"/><circle cx="345.64" cy="237.38" r="1.37" fill="#d00a32"/><circle cx="344.94" cy="239.64" r="1.62" fill="#d00a32"/><circle cx="343.19" cy="241.36" r="1.37" fill="#d00a32"/><circle cx="342.76" cy="241.42" r="2.05" fill="#d00a32"/><circle cx="345.66" cy="243.57" r="1.25" fill="#d00a32"/><circle cx="344.1" cy="240.58" r="2.06" fill="#d00a32"/><circle cx="344.5" cy="236.44" r="1.28" fill="#d00a32"/><circle cx="343.17" cy="244.4" r="1.69" fill="#d00a32"/><circle cx="345.42" cy="244.16" r="1.32" fill="#d00a32"/><circle cx="343.37" cy="242.83" r="1.28" fill="#d00a32"/><circle cx="343.83" cy="242.83" r="2" fill="#d00a32"/><circle cx="341.61" cy="238.48" r="1.17" fill="#d00a32"/><circle cx="345" cy="237.84" r="1.45" fill="#d00a32"/><circle cx="342.57" cy="240.75" r="1.38" fill="#d00a32"/><circle cx="345.96" cy="239.68" r="1.54" fill="#d00a32"/><circle cx="342.25" cy="242.8" r="1.11" fill="#d00a32"/><circle cx="343.28" cy="237.3" r="2.15" fill="#d00a32"/><circle cx="344.12" cy="236.46" r="2.14" fill="#d00a32"/><circle cx="340.75" cy="240.15" r="1.38" fill="#d00a32"/><circle cx="346.33" cy="242.71" r="1.98" fill="#d00a32"/><circle cx="347.27" cy="241.37" r="1.2" fill="#d00a32"/><circle cx="341.93" cy="240.25" r="1.26" fill="#d00a32"/><circle cx="346.27" cy="239.05" r="1.44" fill="#d00a32"/><circle cx="342.93" cy="243.93" r="1.79" fill="#d00a32"/><circle cx="345.25" cy="247.34" r="1.15" fill="#d00a32"/><circle cx="346.62" cy="247.84" r="1.48" fill="#d00a32"/><circle cx="342.06" cy="247.86" r="1.16" fill="#d00a32"/><circle cx="344.57" cy="245.85" r="1.33" fill="#d00a32"/><circle cx="342.12" cy="245.57" r="1.22" fill="#d00a32"/><circle cx="343.47" cy="247.84" r="1.56" fill="#d00a32"/><circle cx="341.03" cy="248.17" r="2.04" fill="#d00a32"/><circle cx="346.5" cy="246.8" r="1.45" fill="#d00a32"/><circle cx="343.5" cy="249.06" r="1.26" fill="#d00a32"/><circle cx="344.99" cy="245.55" r="1.3" fill="#d00a32"/><circle cx="344.89" cy="246.5" r="1.64" fill="#d00a32"/><circle cx="346.56" cy="248.32" r="1.49" fill="#d00a32"/><circle cx="344.11" cy="245.7" r="1.87" fill="#d00a32"/><circle cx="344.82" cy="246.14" r="2.18" fill="#d00a32"/><circle cx="345.75" cy="246.93" r="1.3" fill="#d00a32"/><circle cx="346.07" cy="253.33" r="1.46" fill="#d00a32"/><circle cx="346.06" cy="253.4" r="1.81" fill="#d00a32"/><circle cx="346.63" cy="253.86" r="1.91" fill="#d00a32"/><circle cx="346.53" cy="253.95" r="2.06" fill="#d00a32"/><circle cx="392.9" cy="240.21" r="1.67" fill="#d00a32"/><circle cx="386.19" cy="243.18" r="2.04" fill="#d00a32"/><circle cx="381.91" cy="237.54" r="1.9" fill="#d00a32"/><circle cx="378.34" cy="238.13" r="1.67" fill="#d00a32"/><circle cx="382.46" cy="243.73" r="2.05" fill="#d00a32"/><circle cx="384.28" cy="240.14" r="1.28" fill="#d00a32"/><circle cx="381.93" cy="239.58" r="1.93" fill="#d00a32"/><circle cx="383.34" cy="240.2" r="1.62" fill="#d00a32"/><circle cx="388.66" cy="244.2" r="1.22" fill="#d00a32"/><circle cx="378.19" cy="241.15" r="1.56" fill="#d00a32"/><circle cx="379.61" cy="243.03" r="1.75" fill="#d00a32"/><circle cx="383.49" cy="238.33" r="1.49" fill="#d00a32"/><circle cx="389.51" cy="237.78" r="1.86" fill="#d00a32"/><circle cx="390.79" cy="240.14" r="1.43" fill="#d00a32"/><circle cx="379.72" cy="240.14" r="1.74" fill="#d00a32"/><circle cx="386.88" cy="238.38" r="1.99" fill="#d00a32"/><circle cx="381.2" cy="241.15" r="1.52" fill="#d00a32"/><circle cx="392.74" cy="239.73" r="1.77" fill="#d00a32"/><circle cx="387.59" cy="237.78" r="1.52" fill="#d00a32"/><circle cx="378.34" cy="239.51" r="1.25" fill="#d00a32"/><circle cx="376.84" cy="242.58" r="1.64" fill="#d00a32"/><circle cx="389.79" cy="240.38" r="2.16" fill="#d00a32"/><circle cx="380.92" cy="239.62" r="2.18" fill="#d00a32"/><circle cx="384.54" cy="241.4" r="2.14" fill="#d00a32"/><circle cx="379.93" cy="240.93" r="1.62" fill="#d00a32"/><circle cx="380.01" cy="237.39" r="1.37" fill="#d00a32"/><circle cx="386.1" cy="237.12" r="1.11" fill="#d00a32"/><circle cx="384.79" cy="243.67" r="1.14" fill="#d00a32"/><circle cx="384.17" cy="242.44" r="2.19" fill="#d00a32"/><circle cx="375.95" cy="241.02" r="1.67" fill="#d00a32"/><circle cx="387.6" cy="240.97" r="1.41" fill="#d00a32"/><circle cx="378.96" cy="238.5" r="1.13" fill="#d00a32"/><circle cx="379.76" cy="243.56" r="1.75" fill="#d00a32"/><circle cx="390.97" cy="240.87" r="1.85" fill="#d00a32"/><circle cx="389.41" cy="238.84" r="1.12" fill="#d00a32"/><circle cx="378.61" cy="238.89" r="2.15" fill="#d00a32"/><circle cx="389.54" cy="237.87" r="1.62" fill="#d00a32"/><circle cx="389.29" cy="239.14" r="1.93" fill="#d00a32"/><circle cx="388.26" cy="237.86" r="1.58" fill="#d00a32"/><circle cx="381.01" cy="238.53" r="1.44" fill="#d00a32"/><circle cx="378.2" cy="241.23" r="1.65" fill="#d00a32"/><circle cx="379.07" cy="240.18" r="1.7" fill="#d00a32"/><circle cx="388.31" cy="241.65" r="2" fill="#d00a32"/><circle cx="383.83" cy="240.25" r="1.89" fill="#d00a32"/><circle cx="391.78" cy="240.78" r="1.15" fill="#d00a32"/><circle cx="385.88" cy="244.09" r="2.15" fill="#d00a32"/><circle cx="391.8" cy="240.69" r="1.58" fill="#d00a32"/><circle cx="380.28" cy="239.11" r="1.28" fill="#d00a32"/><circle cx="387.28" cy="241.19" r="1.52" fill="#d00a32"/><circle cx="383.33" cy="243.9" r="1.23" fill="#d00a32"/><circle cx="386.83" cy="239.77" r="1.57" fill="#d00a32"/><circle cx="382.16" cy="238.15" r="1.49" fill="#d00a32"/><circle cx="387.31" cy="240.03" r="1.42" fill="#d00a32"/><circle cx="389.99" cy="239.17" r="1.78" fill="#d00a32"/><circle cx="388.41" cy="241.6" r="2.02" fill="#d00a32"/><circle cx="381.4" cy="240.66" r="1.36" fill="#d00a32"/><circle cx="379.39" cy="241.57" r="1.24" fill="#d00a32"/><circle cx="383.13" cy="239.82" r="1.83" fill="#d00a32"/><circle cx="388.56" cy="238.59" r="1.6" fill="#d00a32"/><circle cx="388.83" cy="238.81" r="1.46" fill="#d00a32"/><circle cx="379.38" cy="240.15" r="2.03" fill="#d00a32"/><circle cx="382.83" cy="239.04" r="1.23" fill="#d00a32"/><circle cx="385.93" cy="239.42" r="1.79" fill="#d00a32"/><circle cx="371.86" cy="244.47" r="2.12" fill="#d00a32"/><circle cx="371.52" cy="244.08" r="1.89" fill="#d00a32"/><circle cx="369.05" cy="243.67" r="1.58" fill="#d00a32"/><circle cx="368.27" cy="245.65" r="1.73" fill="#d00a32"/><circle cx="370.06" cy="246.5" r="1.14" fill="#d00a32"/><circle cx="371.72" cy="247.96" r="2.13" fill="#d00a32"/><circle cx="373.28" cy="245.91" r="2.08" fill="#d00a32"/><circle cx="369.87" cy="247.8" r="1.31" fill="#d00a32"/><circle cx="373.81" cy="247.16" r="2.06" fill="#d00a32"/><circle cx="371.91" cy="247.19" r="1.41" fill="#d00a32"/><circle cx="370.92" cy="243.36" r="1.14" fill="#d00a32"/><circle cx="369.24" cy="248.15" r="1.45" fill="#d00a32"/><circle cx="369.83" cy="243.55" r="1.62" fill="#d00a32"/><circle cx="372.99" cy="247.62" r="1.42" fill="#d00a32"/><circle cx="370.73" cy="244.66" r="1.32" fill="#d00a32"/><circle cx="368.41" cy="244.77" r="1.78" fill="#d00a32"/><circle cx="370.28" cy="244.7" r="1.5" fill="#d00a32"/><circle cx="370.59" cy="243.29" r="1.28" fill="#d00a32"/><circle cx="371.62" cy="247.18" r="1.15" fill="#d00a32"/><circle cx="371.58" cy="251.58" r="1.61" fill="#d00a32"/><circle cx="372.18" cy="251.22" r="1.15" fill="#d00a32"/><circle cx="374.26" cy="252.21" r="1.36" fill="#d00a32"/><circle cx="373.61" cy="254.35" r="1.85" fill="#d00a32"/><circle cx="369.07" cy="253.23" r="1.15" fill="#d00a32"/><circle cx="369.47" cy="254.01" r="2.06" fill="#d00a32"/><circle cx="372.77" cy="255.18" r="1.54" fill="#d00a32"/><circle cx="373.32" cy="254.06" r="1.22" fill="#d00a32"/><circle cx="369.47" cy="251.52" r="1.34" fill="#d00a32"/><circle cx="370.08" cy="253.85" r="1.57" fill="#d00a32"/><circle cx="370.7" cy="253.02" r="1.11" fill="#d00a32"/><circle cx="370.71" cy="250.46" r="2.2" fill="#d00a32"/><circle cx="373.21" cy="254.84" r="1.96" fill="#d00a32"/><circle cx="372.55" cy="251.61" r="1.24" fill="#d00a32"/><circle cx="369.26" cy="253.64" r="1.98" fill="#d00a32"/><circle cx="371.47" cy="255.34" r="1.37" fill="#d00a32"/><circle cx="372.65" cy="250.38" r="2.07" fill="#d00a32"/><circle cx="393.53" cy="244.55" r="1.93" fill="#d00a32"/><circle cx="395.88" cy="243.24" r="1.94" fill="#d00a32"/><circle cx="392.79" cy="244.65" r="1.82" fill="#d00a32"/><circle cx="394.31" cy="242.66" r="1.39" fill="#d00a32"/><circle cx="393.46" cy="243.72" r="1.44" fill="#d00a32"/><circle cx="394.41" cy="245.51" r="1.41" fill="#d00a32"/><circle cx="356.94" cy="250.1" r="1.13" fill="#d00a32"/><circle cx="359.98" cy="250.63" r="1.49" fill="#d00a32"/><circle cx="361.02" cy="250.07" r="1.35" fill="#d00a32"/><circle cx="359.91" cy="250.95" r="1.49" fill="#d00a32"/><circle cx="357.06" cy="249.74" r="1.9" fill="#d00a32"/><circle cx="358.86" cy="251.66" r="1.79" fill="#d00a32"/><circle cx="356.72" cy="250.95" r="1.97" fill="#d00a32"/><circle cx="360.42" cy="271.43" r="1.35" fill="#d00a32"/><circle cx="363.45" cy="269.57" r="1.83" fill="#d00a32"/><circle cx="356.07" cy="267.67" r="1.76" fill="#d00a32"/><circle cx="367.18" cy="271.83" r="1.85" fill="#d00a32"/><circle cx="363.97" cy="268.52" r="1.73" fill="#d00a32"/><circle cx="361.58" cy="265.87" r="1.61" fill="#d00a32"/><circle cx="362.2" cy="270.77" r="1.72" fill="#d00a32"/><circle cx="363.29" cy="264.37" r="1.5" fill="#d00a32"/><circle cx="364.94" cy="265.01" r="2.1" fill="#d00a32"/><circle cx="359.5" cy="266.57" r="1.26" fill="#d00a32"/><circle cx="361.39" cy="268.69" r="1.29" fill="#d00a32"/><circle cx="362.81" cy="266.07" r="2.11" fill="#d00a32"/><circle cx="358.04" cy="269.11" r="1.69" fill="#d00a32"/><circle cx="364.05" cy="265.82" r="1.11" fill="#d00a32"/><circle cx="363.13" cy="267.97" r="1.85" fill="#d00a32"/><circle cx="357.85" cy="268.34" r="1.7" fill="#d00a32"/><circle cx="356.9" cy="269.97" r="1.74" fill="#d00a32"/><circle cx="356.72" cy="267.65" r="1.5" fill="#d00a32"/><circle cx="360.59" cy="265.48" r="1.41" fill="#d00a32"/><circle cx="368.72" cy="269.36" r="1.77" fill="#d00a32"/><circle cx="360.4" cy="273" r="1.4" fill="#d00a32"/><circle cx="368.12" cy="270.47" r="1.84" fill="#d00a32"/><circle cx="367.3" cy="266.22" r="2.02" fill="#d00a32"/><circle cx="360.64" cy="268.79" r="1.23" fill="#d00a32"/><circle cx="367.76" cy="268.07" r="1.53" fill="#d00a32"/><circle cx="360.71" cy="266.02" r="1.93" fill="#d00a32"/><circle cx="367.3" cy="266.61" r="1.53" fill="#d00a32"/><circle cx="366.33" cy="264.83" r="1.86" fill="#d00a32"/><circle cx="362.74" cy="270.17" r="1.42" fill="#d00a32"/><circle cx="363.29" cy="267.35" r="2.15" fill="#d00a32"/><circle cx="358.66" cy="265.5" r="1.35" fill="#d00a32"/><circle cx="357.78" cy="267.01" r="1.8" fill="#d00a32"/><circle cx="358.82" cy="270.21" r="1.68" fill="#d00a32"/><circle cx="361.55" cy="271.06" r="1.77" fill="#d00a32"/><circle cx="363.19" cy="269.42" r="1.23" fill="#d00a32"/><circle cx="359.12" cy="269.75" r="1.21" fill="#d00a32"/><circle cx="362.5" cy="267.45" r="1.63" fill="#d00a32"/><circle cx="360.07" cy="272.69" r="1.81" fill="#d00a32"/><circle cx="366.98" cy="266.28" r="1.98" fill="#d00a32"/><circle cx="368.39" cy="268.68" r="1.22" fill="#d00a32"/><circle cx="365.86" cy="271.73" r="1.22" fill="#d00a32"/><circle cx="362.19" cy="264.28" r="1.98" fill="#d00a32"/><circle cx="358.59" cy="271.9" r="1.32" fill="#d00a32"/><circle cx="359.43" cy="270.96" r="1.85" fill="#d00a32"/><circle cx="362.9" cy="273.33" r="1.61" fill="#d00a32"/><circle cx="366.67" cy="271.15" r="1.51" fill="#d00a32"/><circle cx="355.95" cy="268.77" r="2.14" fill="#d00a32"/><circle cx="356.05" cy="268.91" r="1.88" fill="#d00a32"/><circle cx="366.28" cy="270.88" r="1.49" fill="#d00a32"/><circle cx="366.45" cy="267.17" r="1.42" fill="#d00a32"/><circle cx="358.95" cy="265.33" r="1.2" fill="#d00a32"/><circle cx="361.58" cy="271.33" r="2.03" fill="#d00a32"/><circle cx="366.99" cy="269.61" r="1.36" fill="#d00a32"/><circle cx="366.86" cy="272.41" r="1.71" fill="#d00a32"/><circle cx="367.79" cy="268.29" r="1.52" fill="#d00a32"/><circle cx="366.18" cy="270.21" r="1.99" fill="#d00a32"/><circle cx="363.8" cy="266.98" r="1.99" fill="#d00a32"/><circle cx="362.7" cy="271.91" r="1.52" fill="#d00a32"/><circle cx="365.78" cy="269.38" r="2.17" fill="#d00a32"/><circle cx="369.75" cy="262.46" r="2.15" fill="#d00a32"/><circle cx="366.48" cy="262.23" r="1.53" fill="#d00a32"/><circle cx="369.41" cy="259.69" r="1.83" fill="#d00a32"/><circle cx="367.75" cy="264.46" r="1.9" fill="#d00a32"/><circle cx="369.1" cy="261.19" r="2.2" fill="#d00a32"/><circle cx="368.31" cy="261.44" r="1.96" fill="#d00a32"/><circle cx="367.76" cy="261.45" r="1.51" fill="#d00a32"/><circle cx="365.69" cy="263.12" r="1.62" fill="#d00a32"/><circle cx="370.02" cy="262.31" r="1.95" fill="#d00a32"/><circle cx="369.81" cy="263.6" r="1.14" fill="#d00a32"/><circle cx="368.42" cy="261.26" r="1.12" fill="#d00a32"/><circle cx="369.87" cy="261.62" r="1.25" fill="#d00a32"/><circle cx="369.12" cy="263.25" r="1.78" fill="#d00a32"/><circle cx="368.17" cy="264.35" r="1.39" fill="#d00a32"/><circle cx="366.47" cy="263.65" r="1.42" fill="#d00a32"/><circle cx="367.04" cy="263.37" r="1.54" fill="#d00a32"/><circle cx="365.65" cy="264.03" r="1.74" fill="#d00a32"/><circle cx="368.54" cy="261.99" r="1.12" fill="#d00a32"/><circle cx="367.13" cy="261.02" r="1.63" fill="#d00a32"/><circle cx="370.3" cy="262.43" r="1.56" fill="#d00a32"/><circle cx="367.49" cy="261.48" r="1.65" fill="#d00a32"/><circle cx="377.48" cy="264.48" r="1.95" fill="#d00a32"/><circle cx="377.65" cy="267.75" r="1.24" fill="#d00a32"/><circle cx="376.78" cy="266.64" r="1.74" fill="#d00a32"/><circle cx="381.74" cy="267.23" r="1.28" fill="#d00a32"/><circle cx="378.39" cy="266.76" r="1.33" fill="#d00a32"/><circle cx="381.91" cy="268.73" r="2" fill="#d00a32"/><circle cx="379.95" cy="266.29" r="1.49" fill="#d00a32"/><circle cx="382.72" cy="267.42" r="1.72" fill="#d00a32"/><circle cx="380.42" cy="267.72" r="1.48" fill="#d00a32"/><circle cx="377.1" cy="268.73" r="2" fill="#d00a32"/><circle cx="379.97" cy="264.6" r="1.39" fill="#d00a32"/><circle cx="376.97" cy="265.91" r="1.79" fill="#d00a32"/><circle cx="377.99" cy="264.95" r="2.06" fill="#d00a32"/><circle cx="376.07" cy="265.99" r="2.09" fill="#d00a32"/><circle cx="378.65" cy="267.24" r="1.15" fill="#d00a32"/><circle cx="377.3" cy="265.01" r="1.13" fill="#d00a32"/><circle cx="382.13" cy="269.24" r="1.77" fill="#d00a32"/><circle cx="375.16" cy="266.74" r="1.88" fill="#d00a32"/><circle cx="383.04" cy="268.1" r="1.43" fill="#d00a32"/><circle cx="382.93" cy="266.63" r="1.4" fill="#d00a32"/><circle cx="379.16" cy="265.7" r="1.43" fill="#d00a32"/><circle cx="381.08" cy="266.08" r="1.82" fill="#d00a32"/><circle cx="377.23" cy="267.64" r="1.34" fill="#d00a32"/><circle cx="377.6" cy="269.72" r="1.6" fill="#d00a32"/><circle cx="378.27" cy="268.1" r="1.57" fill="#d00a32"/><circle cx="379.91" cy="268.45" r="1.64" fill="#d00a32"/><circle cx="381.7" cy="266.6" r="1.12" fill="#d00a32"/><circle cx="378.71" cy="269.66" r="1.69" fill="#d00a32"/><circle cx="356.33" cy="272.29" r="1.56" fill="#d00a32"/><circle cx="358.86" cy="271.94" r="1.22" fill="#d00a32"/><circle cx="356.2" cy="273.61" r="1.67" fill="#d00a32"/><circle cx="356.85" cy="271.71" r="2.15" fill="#d00a32"/><circle cx="357.88" cy="272.23" r="1.21" fill="#d00a32"/><circle cx="359.21" cy="271.62" r="1.15" fill="#d00a32"/><circle cx="358.84" cy="273.79" r="1.94" fill="#d00a32"/><circle cx="357.02" cy="273.41" r="1.21" fill="#d00a32"/><circle cx="369.95" cy="282.25" r="2.2" fill="#d00a32"/><circle cx="374.06" cy="280.56" r="1.3" fill="#d00a32"/><circle cx="372.39" cy="275.11" r="1.66" fill="#d00a32"/><circle cx="369.29" cy="279.85" r="1.56" fill="#d00a32"/><circle cx="367.93" cy="276.29" r="1.46" fill="#d00a32"/><circle cx="374.91" cy="278.45" r="1.21" fill="#d00a32"/><circle cx="374.33" cy="281.89" r="1.19" fill="#d00a32"/><circle cx="367.91" cy="280.51" r="1.71" fill="#d00a32"/><circle cx="376.57" cy="280.65" r="2.18" fill="#d00a32"/><circle cx="367.26" cy="282.15" r="2.11" fill="#d00a32"/><circle cx="374.77" cy="276.78" r="1.18" fill="#d00a32"/><circle cx="376.6" cy="281.09" r="1.61" fill="#d00a32"/><circle cx="365.66" cy="278.14" r="1.8" fill="#d00a32"/><circle cx="369.77" cy="283.62" r="1.38" fill="#d00a32"/><circle cx="366.6" cy="281.86" r="1.21" fill="#d00a32"/><circle cx="365.07" cy="280.8" r="1.95" fill="#d00a32"/><circle cx="373.18" cy="279.52" r="1.28" fill="#d00a32"/><circle cx="370.31" cy="277.14" r="1.61" fill="#d00a32"/><circle cx="372.29" cy="276.37" r="1.43" fill="#d00a32"/><circle cx="367.3" cy="276.64" r="1.7" fill="#d00a32"/><circle cx="371.17" cy="280.26" r="1.74" fill="#d00a32"/><circle cx="368.12" cy="276.95" r="2.06" fill="#d00a32"/><circle cx="369.73" cy="278.83" r="1.42" fill="#d00a32"/><circle cx="369.87" cy="282.38" r="1.95" fill="#d00a32"/><circle cx="367.87" cy="276.06" r="1.9" fill="#d00a32"/><circle cx="368.43" cy="279.7" r="2.16" fill="#d00a32"/><circle cx="368.78" cy="276.88" r="2.02" fill="#d00a32"/><circle cx="368.06" cy="283.04" r="1.66" fill="#d00a32"/><circle cx="373.27" cy="282.41" r="1.1" fill="#d00a32"/><circle cx="371.68" cy="275.16" r="1.15" fill="#d00a32"/><circle cx="368.78" cy="279.77" r="1.32" fill="#d00a32"/><circle cx="372.73" cy="277.66" r="2.01" fill="#d00a32"/><circle cx="367.17" cy="282.12" r="1.35" fill="#d00a32"/><circle cx="373.38" cy="278.49" r="1.36" fill="#d00a32"/><circle cx="370.73" cy="276.12" r="1.58" fill="#d00a32"/><circle cx="371.23" cy="281.01" r="1.71" fill="#d00a32"/><circle cx="372.05" cy="275.52" r="2.08" fill="#d00a32"/><circle cx="371.8" cy="280.47" r="1.12" fill="#d00a32"/><circle cx="374.21" cy="281.57" r="1.58" fill="#d00a32"/><circle cx="366.47" cy="280.06" r="1.13" fill="#d00a32"/><circle cx="373.38" cy="276.28" r="1.89" fill="#d00a32"/><circle cx="376.71" cy="280.12" r="2.19" fill="#d00a32"/><circle cx="376" cy="278.75" r="1.32" fill="#d00a32"/><circle cx="372.87" cy="278.24" r="1.54" fill="#d00a32"/><circle cx="367.84" cy="280.69" r="1.9" fill="#d00a32"/><circle cx="366.67" cy="282.22" r="1.23" fill="#d00a32"/><circle cx="369.83" cy="277.45" r="1.54" fill="#d00a32"/><circle cx="374.57" cy="283.33" r="1.4" fill="#d00a32"/><circle cx="368.9" cy="275.34" r="1.85" fill="#d00a32"/><circle cx="375.01" cy="276.18" r="1.97" fill="#d00a32"/><circle cx="373.55" cy="275.44" r="1.72" fill="#d00a32"/><circle cx="370.6" cy="277.38" r="1.74" fill="#d00a32"/><circle cx="372.53" cy="282.85" r="2.02" fill="#d00a32"/><circle cx="408.51" cy="274.84" r="1.58" fill="#d00a32"/><circle cx="411.36" cy="277.71" r="1.7" fill="#d00a32"/><circle cx="423.29" cy="277.98" r="1.87" fill="#d00a32"/><circle cx="423.98" cy="278.3" r="1.46" fill="#d00a32"/><circle cx="408.07" cy="280.87" r="2.19" fill="#d00a32"/><circle cx="414.87" cy="274.25" r="1.98" fill="#d00a32"/><circle cx="419.18" cy="277.07" r="2.17" fill="#d00a32"/><circle cx="417.89" cy="285.61" r="1.58" fill="#d00a32"/><circle cx="415.29" cy="285.29" r="2" fill="#d00a32"/><circle cx="415.78" cy="274.29" r="1.19" fill="#d00a32"/><circle cx="422.14" cy="284.74" r="1.55" fill="#d00a32"/><circle cx="409" cy="286.82" r="1.15" fill="#d00a32"/><circle cx="423.6" cy="276.7" r="1.94" fill="#d00a32"/><circle cx="421.97" cy="282.08" r="1.62" fill="#d00a32"/><circle cx="412.23" cy="285.97" r="1.78" fill="#d00a32"/><circle cx="422.11" cy="279.24" r="2.07" fill="#d00a32"/><circle cx="412.11" cy="279.16" r="1.51" fill="#d00a32"/><circle cx="419.73" cy="283.45" r="2.14" fill="#d00a32"/><circle cx="424.51" cy="279.84" r="1.49" fill="#d00a32"/><circle cx="411.28" cy="281.13" r="2.05" fill="#d00a32"/><circle cx="424.81" cy="282.4" r="1.87" fill="#d00a32"/><circle cx="406.19" cy="275.7" r="1.44" fill="#d00a32"/><circle cx="417.86" cy="274.73" r="1.48" fill="#d00a32"/><circle cx="419.12" cy="274.87" r="1.6" fill="#d00a32"/><circle cx="409.43" cy="276.67" r="1.57" fill="#d00a32"/><circle cx="420.15" cy="282.43" r="1.14" fill="#d00a32"/><circle cx="405.42" cy="284.6" r="1.22" fill="#d00a32"/><circle cx="405.9" cy="283.02" r="1.15" fill="#d00a32"/><circle cx="406.97" cy="276.44" r="1.15" fill="#d00a32"/><circle cx="412.93" cy="285.12" r="1.58" fill="#d00a32"/><circle cx="421.61" cy="281.75" r="1.28" fill="#d00a32"/><circle cx="404.02" cy="278.88" r="1.72" fill="#d00a32"/><circle cx="419.14" cy="274.53" r="2.03" fill="#d00a32"/><circle cx="407.45" cy="287.16" r="2.03" fill="#d00a32"/><circle cx="422.26" cy="285.89" r="1.51" fill="#d00a32"/><circle cx="424.27" cy="277.39" r="1.53" fill="#d00a32"/><circle cx="418.41" cy="280.39" r="1.92" fill="#d00a32"/><circle cx="411.7" cy="283.44" r="2.18" fill="#d00a32"/><circle cx="420.72" cy="278.09" r="1.38" fill="#d00a32"/><circle cx="406.8" cy="283.15" r="1.6" fill="#d00a32"/><circle cx="411.14" cy="283.2" r="1.31" fill="#d00a32"/><circle cx="414.85" cy="286.8" r="1.74" fill="#d00a32"/><circle cx="422.22" cy="275.83" r="1.44" fill="#d00a32"/><circle cx="411.27" cy="284.98" r="2.03" fill="#d00a32"/><circle cx="421.81" cy="282.24" r="1.4" fill="#d00a32"/><circle cx="419.41" cy="281.66" r="2.19" fill="#d00a32"/><circle cx="415.85" cy="286.42" r="1.14" fill="#d00a32"/><circle cx="414.75" cy="277.5" r="1.86" fill="#d00a32"/><circle cx="414.58" cy="282.75" r="1.22" fill="#d00a32"/><circle cx="415.65" cy="276.01" r="1.29" fill="#d00a32"/><circle cx="412.23" cy="285.73" r="1.37" fill="#d00a32"/><circle cx="419.49" cy="273.77" r="1.62" fill="#d00a32"/><circle cx="419.97" cy="274.28" r="1.9" fill="#d00a32"/><circle cx="408.52" cy="285.01" r="1.41" fill="#d00a32"/><circle cx="414.3" cy="279.96" r="1.26" fill="#d00a32"/><circle cx="419.93" cy="278.13" r="1.37" fill="#d00a32"/><circle cx="423.48" cy="280.77" r="1.1" fill="#d00a32"/><circle cx="408.24" cy="279.73" r="1.39" fill="#d00a32"/><circle cx="420.38" cy="274.15" r="1.42" fill="#d00a32"/><circle cx="411.31" cy="274.1" r="1.32" fill="#d00a32"/><circle cx="411.6" cy="279.4" r="1.36" fill="#d00a32"/><circle cx="410.35" cy="274.56" r="1.41" fill="#d00a32"/><circle cx="417.32" cy="288.75" r="1.23" fill="#d00a32"/><circle cx="415.79" cy="286.31" r="1.44" fill="#d00a32"/><circle cx="418.61" cy="282.3" r="1.61" fill="#d00a32"/><circle cx="410.72" cy="274.03" r="1.72" fill="#d00a32"/><circle cx="411.97" cy="286.82" r="1.77" fill="#d00a32"/><circle cx="407.44" cy="286.12" r="2.04" fill="#d00a32"/><circle cx="419.32" cy="284.92" r="1.72" fill="#d00a32"/><circle cx="414.1" cy="273.45" r="2.03" fill="#d00a32"/><circle cx="417.89" cy="286.47" r="1.32" fill="#d00a32"/><circle cx="412.89" cy="288.5" r="1.4" fill="#d00a32"/><circle cx="413.19" cy="283.25" r="1.37" fill="#d00a32"/><circle cx="423.56" cy="277.65" r="1.52" fill="#d00a32"/><circle cx="420.68" cy="282.77" r="2.18" fill="#d00a32"/><circle cx="410.02" cy="273.84" r="1.62" fill="#d00a32"/><circle cx="415.89" cy="271.74" r="1.77" fill="#d00a32"/><circle cx="417.38" cy="287.98" r="1.38" fill="#d00a32"/><circle cx="408.87" cy="285.66" r="1.78" fill="#d00a32"/><circle cx="422.59" cy="277.04" r="1.88" fill="#d00a32"/><circle cx="405.86" cy="277.25" r="1.83" fill="#d00a32"/><circle cx="414.68" cy="276.18" r="1.64" fill="#d00a32"/><circle cx="415.25" cy="274.34" r="2.13" fill="#d00a32"/><circle cx="411" cy="277.23" r="1.36" fill="#d00a32"/><circle cx="417.54" cy="279.75" r="1.95" fill="#d00a32"/><circle cx="405.32" cy="278.48" r="2.05" fill="#d00a32"/><circle cx="423.46" cy="281.1" r="1.85" fill="#d00a32"/><circle cx="423.82" cy="278.38" r="2.01" fill="#d00a32"/><circle cx="418.44" cy="275.46" r="1.3" fill="#d00a32"/><circle cx="414.78" cy="275.27" r="1.95" fill="#d00a32"/><circle cx="412.19" cy="271.83" r="1.64" fill="#d00a32"/><circle cx="420.38" cy="273.51" r="1.46" fill="#d00a32"/><circle cx="425.18" cy="280.95" r="1.32" fill="#d00a32"/><circle cx="413.54" cy="285.29" r="1.99" fill="#d00a32"/><circle cx="411.96" cy="281.26" r="1.65" fill="#d00a32"/><circle cx="415.27" cy="286.2" r="1.34" fill="#d00a32"/><circle cx="418.25" cy="280.46" r="1.26" fill="#d00a32"/><circle cx="413.35" cy="284.69" r="2.11" fill="#d00a32"/><circle cx="418" cy="280.33" r="1.71" fill="#d00a32"/><circle cx="420.28" cy="284.83" r="1.4" fill="#d00a32"/><circle cx="409.6" cy="273.21" r="1.21" fill="#d00a32"/><circle cx="415.34" cy="273.87" r="2.06" fill="#d00a32"/><circle cx="412.43" cy="283.88" r="1.57" fill="#d00a32"/><circle cx="411.86" cy="282.49" r="2.02" fill="#d00a32"/><circle cx="413.77" cy="272.39" r="1.11" fill="#d00a32"/><circle cx="410.84" cy="279.22" r="1.89" fill="#d00a32"/><circle cx="407.68" cy="287.13" r="2.05" fill="#d00a32"/><circle cx="420.62" cy="283.37" r="1.67" fill="#d00a32"/><circle cx="405.42" cy="281.42" r="2.19" fill="#d00a32"/><circle cx="411.2" cy="287.86" r="1.37" fill="#d00a32"/><circle cx="420.85" cy="284.82" r="1.81" fill="#d00a32"/><circle cx="405.85" cy="279.36" r="1.84" fill="#d00a32"/><circle cx="417.23" cy="287.68" r="1.13" fill="#d00a32"/><circle cx="405.57" cy="285.01" r="1.62" fill="#d00a32"/><circle cx="422.7" cy="275.32" r="1.38" fill="#d00a32"/><circle cx="419.01" cy="275.46" r="1.18" fill="#d00a32"/><circle cx="406.64" cy="274.62" r="1.7" fill="#d00a32"/><circle cx="424.22" cy="282.87" r="2.13" fill="#d00a32"/><circle cx="421.18" cy="282.28" r="2.02" fill="#d00a32"/><circle cx="415.87" cy="284.66" r="1.17" fill="#d00a32"/><circle cx="417.53" cy="285.9" r="2.09" fill="#d00a32"/><circle cx="405.63" cy="276.74" r="1.59" fill="#d00a32"/><circle cx="419.48" cy="275.79" r="2.07" fill="#d00a32"/><circle cx="421.09" cy="283.12" r="1.83" fill="#d00a32"/><circle cx="419.93" cy="273.04" r="1.9" fill="#d00a32"/><circle cx="405.89" cy="279.75" r="1.51" fill="#d00a32"/><circle cx="413.66" cy="278.84" r="1.48" fill="#d00a32"/><circle cx="416.73" cy="272.38" r="1.52" fill="#d00a32"/><circle cx="410.69" cy="283.78" r="1.55" fill="#d00a32"/><circle cx="406.92" cy="276.01" r="2.13" fill="#d00a32"/><circle cx="413.31" cy="282.04" r="1.95" fill="#d00a32"/><circle cx="414.7" cy="273.41" r="1.62" fill="#d00a32"/><circle cx="410.3" cy="282.19" r="1.34" fill="#d00a32"/><circle cx="408.48" cy="278.3" r="1.45" fill="#d00a32"/><circle cx="410.55" cy="285.15" r="1.41" fill="#d00a32"/><circle cx="410.13" cy="280.63" r="2.07" fill="#d00a32"/><circle cx="414.84" cy="275.32" r="1.2" fill="#d00a32"/><circle cx="410.86" cy="284.26" r="1.43" fill="#d00a32"/><circle cx="407.07" cy="280.33" r="1.85" fill="#d00a32"/><circle cx="416.72" cy="285.78" r="2.18" fill="#d00a32"/><circle cx="422.2" cy="277.46" r="1.75" fill="#d00a32"/><circle cx="421.87" cy="285.27" r="1.66" fill="#d00a32"/><circle cx="411.6" cy="272.97" r="2.03" fill="#d00a32"/><circle cx="422.85" cy="277.83" r="2.08" fill="#d00a32"/><circle cx="413.02" cy="276.45" r="2.19" fill="#d00a32"/><circle cx="410.69" cy="272.16" r="1.45" fill="#d00a32"/><circle cx="407.59" cy="275.63" r="1.25" fill="#d00a32"/><circle cx="412.59" cy="287.32" r="1.91" fill="#d00a32"/><circle cx="413.35" cy="275.52" r="1.14" fill="#d00a32"/><circle cx="410.51" cy="275.3" r="1.72" fill="#d00a32"/><circle cx="414.32" cy="282.92" r="1.22" fill="#d00a32"/><circle cx="405.93" cy="275.29" r="1.78" fill="#d00a32"/><circle cx="422.07" cy="279.93" r="1.56" fill="#d00a32"/><circle cx="409.67" cy="277.42" r="1.82" fill="#d00a32"/><circle cx="422.06" cy="286.57" r="1.68" fill="#d00a32"/><circle cx="407.64" cy="276.86" r="1.23" fill="#d00a32"/><circle cx="416.83" cy="279.14" r="1.41" fill="#d00a32"/><circle cx="415.12" cy="274.89" r="1.24" fill="#d00a32"/><circle cx="416.42" cy="287.63" r="1.87" fill="#d00a32"/><circle cx="414.5" cy="277.62" r="1.67" fill="#d00a32"/><circle cx="405.52" cy="275.75" r="1.35" fill="#d00a32"/><circle cx="407" cy="280.29" r="1.22" fill="#d00a32"/><circle cx="406.58" cy="278.36" r="2.1" fill="#d00a32"/><circle cx="418.51" cy="280.83" r="2.05" fill="#d00a32"/><circle cx="415.84" cy="281.67" r="1.93" fill="#d00a32"/><circle cx="417.64" cy="285.17" r="1.86" fill="#d00a32"/><circle cx="404.89" cy="280.95" r="1.46" fill="#d00a32"/><circle cx="404.29" cy="281.77" r="2.16" fill="#d00a32"/><circle cx="415.88" cy="279.52" r="1.69" fill="#d00a32"/><circle cx="417.91" cy="288.01" r="1.69" fill="#d00a32"/><circle cx="405.17" cy="270.37" r="1.81" fill="#d00a32"/><circle cx="405.33" cy="269.92" r="1.24" fill="#d00a32"/><circle cx="408.95" cy="269.59" r="1.26" fill="#d00a32"/><circle cx="408.68" cy="267.18" r="1.58" fill="#d00a32"/><circle cx="404.59" cy="269.9" r="1.31" fill="#d00a32"/><circle cx="408.55" cy="269.63" r="2.17" fill="#d00a32"/><circle cx="406.1" cy="270.69" r="2.1" fill="#d00a32"/><circle cx="406.82" cy="270.49" r="2.15" fill="#d00a32"/><circle cx="408.42" cy="268.76" r="1.32" fill="#d00a32"/><circle cx="405.14" cy="266.72" r="1.65" fill="#d00a32"/><circle cx="408.45" cy="269.44" r="1.84" fill="#d00a32"/><circle cx="407.65" cy="270.56" r="1.15" fill="#d00a32"/><circle cx="404.85" cy="267.25" r="2.01" fill="#d00a32"/><circle cx="419.83" cy="264.95" r="2.09" fill="#d00a32"/><circle cx="417.95" cy="265.73" r="1.61" fill="#d00a32"/><circle cx="418.64" cy="265" r="1.23" fill="#d00a32"/><circle cx="418.68" cy="264.88" r="1.4" fill="#d00a32"/><circle cx="420.88" cy="265.68" r="1.75" fill="#d00a32"/><circle cx="421.47" cy="265.78" r="1.29" fill="#d00a32"/><circle cx="424.86" cy="260.39" r="1.79" fill="#d00a32"/><circle cx="423.16" cy="258.8" r="1.75" fill="#d00a32"/><circle cx="423.95" cy="259.57" r="1.92" fill="#d00a32"/><circle cx="424.97" cy="260.71" r="1.39" fill="#d00a32"/><circle cx="421.82" cy="259.25" r="1.39" fill="#d00a32"/><circle cx="422.31" cy="260.63" r="2.17" fill="#d00a32"/><circle cx="426.37" cy="285.13" r="1.28" fill="#d00a32"/><circle cx="425.73" cy="281.73" r="2.17" fill="#d00a32"/><circle cx="428.54" cy="282.54" r="2.17" fill="#d00a32"/><circle cx="426.64" cy="282.35" r="1.24" fill="#d00a32"/><circle cx="425.12" cy="286.45" r="2.14" fill="#d00a32"/><circle cx="423.71" cy="279.39" r="1.96" fill="#d00a32"/><circle cx="422.98" cy="283.32" r="1.38" fill="#d00a32"/><circle cx="424.47" cy="281.2" r="1.82" fill="#d00a32"/><circle cx="427.39" cy="283.32" r="1.35" fill="#d00a32"/><circle cx="425.24" cy="282.49" r="1.61" fill="#d00a32"/><circle cx="424.38" cy="279.45" r="1.76" fill="#d00a32"/><circle cx="426.04" cy="279.91" r="1.65" fill="#d00a32"/><circle cx="423.89" cy="281.31" r="1.83" fill="#d00a32"/><circle cx="426.18" cy="280.93" r="1.57" fill="#d00a32"/><circle cx="426.14" cy="282.37" r="1.18" fill="#d00a32"/><circle cx="423.56" cy="283.73" r="2.2" fill="#d00a32"/><circle cx="426.85" cy="283.86" r="1.24" fill="#d00a32"/><circle cx="426.41" cy="282.43" r="1.19" fill="#d00a32"/><circle cx="424.54" cy="281.61" r="2.02" fill="#d00a32"/><circle cx="425.01" cy="279.13" r="1.39" fill="#d00a32"/><circle cx="426.81" cy="284.13" r="2.19" fill="#d00a32"/><circle cx="422.61" cy="284.09" r="1.79" fill="#d00a32"/><circle cx="427.8" cy="285.6" r="1.5" fill="#d00a32"/><circle cx="423.67" cy="282.59" r="1.28" fill="#d00a32"/><circle cx="422.54" cy="284.56" r="1.77" fill="#d00a32"/><circle cx="405.02" cy="295.27" r="1.47" fill="#d00a32"/><circle cx="406.99" cy="292.39" r="1.8" fill="#d00a32"/><circle cx="408.64" cy="300.43" r="1.42" fill="#d00a32"/><circle cx="402.39" cy="295.78" r="1.32" fill="#d00a32"/><circle cx="404.31" cy="296.84" r="1.47" fill="#d00a32"/><circle cx="405.71" cy="301.47" r="1.71" fill="#d00a32"/><circle cx="406.23" cy="298.37" r="1.95" fill="#d00a32"/><circle cx="407.43" cy="294.34" r="1.69" fill="#d00a32"/><circle cx="405.55" cy="299.73" r="2.11" fill="#d00a32"/><circle cx="404.89" cy="294.45" r="1.56" fill="#d00a32"/><circle cx="404.52" cy="291.13" r="1.56" fill="#d00a32"/><circle cx="406.71" cy="294.99" r="1.97" fill="#d00a32"/><circle cx="407.89" cy="296.84" r="2.13" fill="#d00a32"/><circle cx="402.29" cy="292.75" r="1.78" fill="#d00a32"/><circle cx="407.48" cy="299.69" r="1.88" fill="#d00a32"/><circle cx="408.54" cy="293.92" r="1.6" fill="#d00a32"/><circle cx="404.79" cy="295.62" r="1.87" fill="#d00a32"/><circle cx="406.22" cy="291.95" r="1.58" fill="#d00a32"/><circle cx="404.23" cy="296.82" r="1.26" fill="#d00a32"/><circle cx="404.36" cy="291.32" r="1.26" fill="#d00a32"/><circle cx="407.45" cy="298.29" r="2.05" fill="#d00a32"/><circle cx="405.88" cy="301.92" r="1.96" fill="#d00a32"/><circle cx="402.61" cy="298.57" r="1.54" fill="#d00a32"/><circle cx="404.67" cy="299.54" r="1.11" fill="#d00a32"/><circle cx="409.52" cy="297.78" r="1.4" fill="#d00a32"/><circle cx="402.29" cy="298.2" r="1.35" fill="#d00a32"/><circle cx="401.48" cy="295.19" r="1.79" fill="#d00a32"/><circle cx="405.49" cy="302.06" r="1.53" fill="#d00a32"/><circle cx="403.95" cy="299.5" r="2.04" fill="#d00a32"/><circle cx="401.77" cy="297.07" r="2.18" fill="#d00a32"/><circle cx="403.57" cy="293.85" r="2.02" fill="#d00a32"/><circle cx="401.14" cy="295.59" r="1.87" fill="#d00a32"/><circle cx="402.61" cy="301.29" r="1.72" fill="#d00a32"/><circle cx="404.15" cy="293.65" r="1.96" fill="#d00a32"/><circle cx="401.75" cy="294.24" r="2.07" fill="#d00a32"/><circle cx="404.69" cy="298.65" r="2.06" fill="#d00a32"/><circle cx="403.55" cy="298.26" r="2.07" fill="#d00a32"/><circle cx="405.54" cy="300.06" r="1.65" fill="#d00a32"/><circle cx="401.87" cy="296.02" r="1.84" fill="#d00a32"/><circle cx="404.69" cy="292.76" r="1.57" fill="#d00a32"/><circle cx="404.32" cy="294.12" r="1.94" fill="#d00a32"/><circle cx="407.77" cy="301.08" r="1.33" fill="#d00a32"/><circle cx="404.31" cy="291.95" r="1.48" fill="#d00a32"/><circle cx="402.66" cy="296.42" r="2.06" fill="#d00a32"/><circle cx="404.95" cy="300.02" r="1.58" fill="#d00a32"/><circle cx="406.14" cy="298.49" r="1.12" fill="#d00a32"/><circle cx="345.77" cy="293.56" r="1.69" fill="#d00a32"/><circle cx="345.22" cy="296.4" r="1.55" fill="#d00a32"/><circle cx="352.76" cy="292.59" r="2.07" fill="#d00a32"/><circle cx="353.36" cy="304.13" r="1.66" fill="#d00a32"/><circle cx="350.95" cy="293.52" r="2" fill="#d00a32"/><circle cx="350.47" cy="304.39" r="1.94" fill="#d00a32"/><circle cx="356.36" cy="290.08" r="2.13" fill="#d00a32"/><circle cx="342.01" cy="299.74" r="1.24" fill="#d00a32"/><circle cx="358.11" cy="291.21" r="1.37" fill="#d00a32"/><circle cx="349.84" cy="289.63" r="1.37" fill="#d00a32"/><circle cx="352.58" cy="290.88" r="1.86" fill="#d00a32"/><circle cx="352.25" cy="304.72" r="1.75" fill="#d00a32"/><circle cx="359.25" cy="296.58" r="1.77" fill="#d00a32"/><circle cx="346.55" cy="296.01" r="1.46" fill="#d00a32"/><circle cx="349.23" cy="296.56" r="1.81" fill="#d00a32"/><circle cx="344.5" cy="297.11" r="1.79" fill="#d00a32"/><circle cx="341.9" cy="297.42" r="2.08" fill="#d00a32"/><circle cx="349.67" cy="289.58" r="1.32" fill="#d00a32"/><circle cx="357.8" cy="291.84" r="1.27" fill="#d00a32"/><circle cx="352.7" cy="301.51" r="1.3" fill="#d00a32"/><circle cx="354.86" cy="297.38" r="1.81" fill="#d00a32"/><circle cx="349.02" cy="291.67" r="1.56" fill="#d00a32"/><circle cx="352.57" cy="289.33" r="1.72" fill="#d00a32"/><circle cx="346.32" cy="297.91" r="1.88" fill="#d00a32"/><circle cx="355.51" cy="302.03" r="1.87" fill="#d00a32"/><circle cx="347.62" cy="289.34" r="1.8" fill="#d00a32"/><circle cx="352.47" cy="302.33" r="1.96" fill="#d00a32"/><circle cx="355.88" cy="303.19" r="1.81" fill="#d00a32"/><circle cx="355.92" cy="297.1" r="1.87" fill="#d00a32"/><circle cx="344.14" cy="294.43" r="1.16" fill="#d00a32"/><circle cx="348.74" cy="303.89" r="1.23" fill="#d00a32"/><circle cx="359.96" cy="295.78" r="1.34" fill="#d00a32"/><circle cx="346.66" cy="298.49" r="1.29" fill="#d00a32"/><circle cx="350.97" cy="295.57" r="1.19" fill="#d00a32"/><circle cx="347.89" cy="300.24" r="1.43" fill="#d00a32"/><circle cx="344.81" cy="299.47" r="1.16" fill="#d00a32"/><circle cx="356.61" cy="297.77" r="2.01" fill="#d00a32"/><circle cx="355.9" cy="294.41" r="1.77" fill="#d00a32"/><circle cx="354.39" cy="299.72" r="2.05" fill="#d00a32"/><circle cx="354.36" cy="301.52" r="1.32" fill="#d00a32"/><circle cx="346.11" cy="296.49" r="1.6" fill="#d00a32"/><circle cx="358.7" cy="295.74" r="1.66" fill="#d00a32"/><circle cx="346.74" cy="296.65" r="1.84" fill="#d00a32"/><circle cx="358.89" cy="294.07" r="1.31" fill="#d00a32"/><circle cx="348.04" cy="304.61" r="1.75" fill="#d00a32"/><circle cx="346.57" cy="301.12" r="1.87" fill="#d00a32"/><circle cx="352.86" cy="289.87" r="1.69" fill="#d00a32"/><circle cx="346.06" cy="295.21" r="2.08" fill="#d00a32"/><circle cx="348.74" cy="290.09" r="1.51" fill="#d00a32"/><circle cx="355.43" cy="301" r="1.94" fill="#d00a32"/><circle cx="355.65" cy="290.38" r="2.16" fill="#d00a32"/><circle cx="357.34" cy="301.74" r="1.58" fill="#d00a32"/><circle cx="347.4" cy="303.46" r="1.61" fill="#d00a32"/><circle cx="352.07" cy="300.87" r="1.75" fill="#d00a32"/><circle cx="349.44" cy="296.36" r="1.85" fill="#d00a32"/><circle cx="354.42" cy="293.01" r="1.15" fill="#d00a32"/><circle cx="354.76" cy="295.3" r="2.13" fill="#d00a32"/><circle cx="350.73" cy="288.94" r="1.91" fill="#d00a32"/><circle cx="355.42" cy="290.19" r="2.05" fill="#d00a32"/><circle cx="355.35" cy="292.47" r="1.68" fill="#d00a32"/><circle cx="343.29" cy="295.63" r="1.8" fill="#d00a32"/><circle cx="354.65" cy="291.61" r="1.74" fill="#d00a32"/><circle cx="345.3" cy="296.62" r="1.99" fill="#d00a32"/><circle cx="352.6" cy="297.16" r="1.62" fill="#d00a32"/><circle cx="348.14" cy="298.54" r="1.73" fill="#d00a32"/><circle cx="342.96" cy="292.75" r="1.31" fill="#d00a32"/><circle cx="357.92" cy="296.65" r="2.13" fill="#d00a32"/><circle cx="342.92" cy="298.74" r="1.34" fill="#d00a32"/><circle cx="354.03" cy="291.93" r="1.66" fill="#d00a32"/><circle cx="349.9" cy="291.44" r="1.31" fill="#d00a32"/><circle cx="344.73" cy="299.47" r="1.45" fill="#d00a32"/><circle cx="351.25" cy="294.65" r="1.22" fill="#d00a32"/><circle cx="356.31" cy="301.16" r="1.78" fill="#d00a32"/><circle cx="343.57" cy="300.91" r="2.02" fill="#d00a32"/><circle cx="350.57" cy="294.02" r="1.72" fill="#d00a32"/><circle cx="357.02" cy="290.55" r="1.89" fill="#d00a32"/><circle cx="341.66" cy="295.16" r="1.22" fill="#d00a32"/><circle cx="346.12" cy="295.31" r="1.96" fill="#d00a32"/><circle cx="347.86" cy="304.51" r="2.13" fill="#d00a32"/><circle cx="355.72" cy="299.75" r="1.87" fill="#d00a32"/><circle cx="349.78" cy="302.16" r="1.17" fill="#d00a32"/><circle cx="354.2" cy="294.68" r="1.18" fill="#d00a32"/><circle cx="352.78" cy="296.58" r="2.05" fill="#d00a32"/><circle cx="350.14" cy="299.12" r="1.81" fill="#d00a32"/><circle cx="347.44" cy="300.92" r="1.96" fill="#d00a32"/><circle cx="354.6" cy="298.63" r="1.5" fill="#d00a32"/><circle cx="357.56" cy="293.24" r="2.17" fill="#d00a32"/><circle cx="354.71" cy="303.58" r="2.14" fill="#d00a32"/><circle cx="353.45" cy="297.68" r="2.1" fill="#d00a32"/><circle cx="352.74" cy="298.65" r="2.18" fill="#d00a32"/><circle cx="350.36" cy="291.07" r="2" fill="#d00a32"/><circle cx="357.24" cy="297.96" r="1.95" fill="#d00a32"/><circle cx="349.88" cy="290.45" r="1.75" fill="#d00a32"/><circle cx="347.41" cy="296.14" r="1.89" fill="#d00a32"/><circle cx="348.44" cy="294.03" r="2.12" fill="#d00a32"/><circle cx="353.97" cy="294.05" r="1.86" fill="#d00a32"/><circle cx="344.69" cy="297.13" r="1.27" fill="#d00a32"/><circle cx="343.12" cy="295.37" r="1.47" fill="#d00a32"/><circle cx="351.84" cy="298.31" r="2.08" fill="#d00a32"/><circle cx="344.36" cy="294.97" r="1.15" fill="#d00a32"/><circle cx="346.52" cy="295.76" r="1.23" fill="#d00a32"/><circle cx="349.27" cy="300.55" r="1.54" fill="#d00a32"/><circle cx="356.65" cy="293.15" r="1.47" fill="#d00a32"/><circle cx="358.23" cy="299.38" r="2.02" fill="#d00a32"/><circle cx="352.62" cy="292.42" r="1.72" fill="#d00a32"/><circle cx="347.3" cy="290.13" r="1.86" fill="#d00a32"/><circle cx="358.35" cy="296.14" r="1.33" fill="#d00a32"/><circle cx="345.65" cy="291.96" r="2.07" fill="#d00a32"/><circle cx="348.64" cy="288.52" r="1.69" fill="#d00a32"/><circle cx="348.83" cy="291.16" r="1.32" fill="#d00a32"/><circle cx="355.39" cy="290.28" r="1.39" fill="#d00a32"/><circle cx="353.45" cy="289.21" r="1.72" fill="#d00a32"/><circle cx="348.12" cy="301.4" r="2.09" fill="#d00a32"/><circle cx="349.25" cy="299.78" r="1.93" fill="#d00a32"/><circle cx="343.15" cy="293.7" r="2.08" fill="#d00a32"/><circle cx="355.32" cy="304.46" r="1.42" fill="#d00a32"/><circle cx="347.3" cy="289.77" r="1.59" fill="#d00a32"/><circle cx="352.96" cy="293.19" r="1.3" fill="#d00a32"/><circle cx="354.14" cy="293.92" r="1.7" fill="#d00a32"/><circle cx="347.65" cy="304.17" r="1.41" fill="#d00a32"/><circle cx="350.26" cy="295.89" r="1.86" fill="#d00a32"/><circle cx="352.22" cy="297.7" r="1.49" fill="#d00a32"/><circle cx="343.53" cy="293.97" r="1.42" fill="#d00a32"/><circle cx="349.96" cy="292.92" r="1.11" fill="#d00a32"/><circle cx="354.91" cy="296.77" r="1.69" fill="#d00a32"/><circle cx="350.91" cy="298.69" r="1.81" fill="#d00a32"/><circle cx="344.42" cy="291.28" r="2.14" fill="#d00a32"/><circle cx="356.75" cy="299.79" r="1.29" fill="#d00a32"/><circle cx="358.05" cy="294.24" r="1.87" fill="#d00a32"/><circle cx="345" cy="297.71" r="1.92" fill="#d00a32"/><circle cx="346.71" cy="300.08" r="2.03" fill="#d00a32"/><circle cx="351.73" cy="302.67" r="1.95" fill="#d00a32"/><circle cx="347.81" cy="303.67" r="1.15" fill="#d00a32"/><circle cx="342.87" cy="298.27" r="1.22" fill="#d00a32"/><circle cx="357.33" cy="295.97" r="1.8" fill="#d00a32"/><circle cx="355.88" cy="298.75" r="2.11" fill="#d00a32"/><circle cx="357.16" cy="297.81" r="1.79" fill="#d00a32"/><circle cx="343.44" cy="299.23" r="1.93" fill="#d00a32"/><circle cx="353.93" cy="303.67" r="2.12" fill="#d00a32"/><circle cx="343.52" cy="302.1" r="2.19" fill="#d00a32"/><circle cx="341.94" cy="296.49" r="2.06" fill="#d00a32"/><circle cx="355.93" cy="301.8" r="1.25" fill="#d00a32"/><circle cx="359.25" cy="297.33" r="1.93" fill="#d00a32"/><circle cx="357.52" cy="294.16" r="1.72" fill="#d00a32"/><circle cx="351.27" cy="288.29" r="1.66" fill="#d00a32"/><circle cx="350.16" cy="282.93" r="1.78" fill="#d00a32"/><circle cx="346.31" cy="287.15" r="1.19" fill="#d00a32"/><circle cx="349.36" cy="284.68" r="1.13" fill="#d00a32"/><circle cx="346.97" cy="287.92" r="1.81" fill="#d00a32"/><circle cx="351.88" cy="282.79" r="1.16" fill="#d00a32"/><circle cx="348.63" cy="283.71" r="1.47" fill="#d00a32"/><circle cx="345.57" cy="283.42" r="2.03" fill="#d00a32"/><circle cx="349.77" cy="281.99" r="1.69" fill="#d00a32"/><circle cx="348.54" cy="282.02" r="2.01" fill="#d00a32"/><circle cx="352.81" cy="286.11" r="1.31" fill="#d00a32"/><circle cx="350.51" cy="287.85" r="1.21" fill="#d00a32"/><circle cx="350.09" cy="287.89" r="2.17" fill="#d00a32"/><circle cx="346.67" cy="282.63" r="1.99" fill="#d00a32"/><circle cx="353.14" cy="285.31" r="2.16" fill="#d00a32"/><circle cx="353.08" cy="284.75" r="1.81" fill="#d00a32"/><circle cx="350.14" cy="284.05" r="1.8" fill="#d00a32"/><circle cx="348.45" cy="283.09" r="1.26" fill="#d00a32"/><circle cx="347.31" cy="282.29" r="1.65" fill="#d00a32"/><circle cx="348.46" cy="280.95" r="1.54" fill="#d00a32"/><circle cx="347.23" cy="288.41" r="1.34" fill="#d00a32"/><circle cx="352.27" cy="282.76" r="1.22" fill="#d00a32"/><circle cx="350.23" cy="288.83" r="1.69" fill="#d00a32"/><circle cx="347.7" cy="281.95" r="1.34" fill="#d00a32"/><circle cx="350.15" cy="283.19" r="1.6" fill="#d00a32"/><circle cx="346.9" cy="283.14" r="1.64" fill="#d00a32"/><circle cx="352.83" cy="284.52" r="1.59" fill="#d00a32"/><circle cx="346.23" cy="285.74" r="1.14" fill="#d00a32"/><circle cx="351.78" cy="286.66" r="1.76" fill="#d00a32"/><circle cx="352.96" cy="284.65" r="1.9" fill="#d00a32"/><circle cx="345.42" cy="284.99" r="2.1" fill="#d00a32"/><circle cx="356.43" cy="279.35" r="1.68" fill="#d00a32"/><circle cx="356.24" cy="281.16" r="1.47" fill="#d00a32"/><circle cx="356.5" cy="278.4" r="1.88" fill="#d00a32"/><circle cx="356.83" cy="277.96" r="1.28" fill="#d00a32"/><circle cx="354.33" cy="280.15" r="1.49" fill="#d00a32"/><circle cx="356.77" cy="280.07" r="2.19" fill="#d00a32"/><circle cx="363.33" cy="287.48" r="1.49" fill="#d00a32"/><circle cx="363.5" cy="287.82" r="1.88" fill="#d00a32"/><circle cx="363.61" cy="287.12" r="1.78" fill="#d00a32"/><circle cx="364.75" cy="287.16" r="2.08" fill="#d00a32"/><circle cx="431.24" cy="246.49" r="1.87" fill="#d00a32"/><circle cx="432" cy="247.31" r="1.78" fill="#d00a32"/><circle cx="431.71" cy="243.96" r="1.79" fill="#d00a32"/><circle cx="431.35" cy="245.57" r="1.19" fill="#d00a32"/><circle cx="429.7" cy="246.78" r="1.52" fill="#d00a32"/><circle cx="431.78" cy="244.87" r="1.96" fill="#d00a32"/><circle cx="431.42" cy="246.61" r="1.37" fill="#d00a32"/>
<circle cx="400.63" cy="250.91" r="1.3" fill="#e02858"/><circle cx="403.42" cy="247.46" r="1.44" fill="#e02858"/><circle cx="402.59" cy="252.01" r="1.41" fill="#e02858"/><circle cx="400.93" cy="247.98" r="1.44" fill="#e02858"/><circle cx="404.65" cy="251.54" r="1.13" fill="#e02858"/><circle cx="402.47" cy="248.7" r="1.4" fill="#e02858"/><circle cx="404.2" cy="251.65" r="1.14" fill="#e02858"/><circle cx="401.87" cy="247.79" r="0.99" fill="#e02858"/><circle cx="405.68" cy="250.57" r="0.91" fill="#e02858"/><circle cx="401.3" cy="248.55" r="0.98" fill="#e02858"/>
<circle cx="387.49" cy="253.45" r="0.93" fill="#e02858"/><circle cx="387.34" cy="254.8" r="1.17" fill="#e02858"/><circle cx="386.61" cy="254.89" r="0.94" fill="#e02858"/><circle cx="388.03" cy="254.33" r="1.22" fill="#e02858"/><circle cx="387.41" cy="254.27" r="1.77" fill="#e02858"/><circle cx="387.18" cy="255.06" r="1.6" fill="#e02858"/><circle cx="387.86" cy="254.67" r="1.49" fill="#e02858"/><circle cx="387.21" cy="253.34" r="0.92" fill="#e02858"/><circle cx="387.44" cy="254.67" r="1.53" fill="#e02858"/><circle cx="385.86" cy="253.82" r="0.9" fill="#e02858"/>
<circle cx="394.34" cy="252.96" r="1.69" fill="#e02858"/><circle cx="394.84" cy="252.67" r="1.26" fill="#e02858"/><circle cx="394.56" cy="252.56" r="0.93" fill="#e02858"/><circle cx="393.9" cy="251.8" r="1.16" fill="#e02858"/><circle cx="394.8" cy="252.57" r="1.13" fill="#e02858"/><circle cx="393.94" cy="252.59" r="1.39" fill="#e02858"/><circle cx="394.93" cy="251.53" r="1.68" fill="#e02858"/><circle cx="394.66" cy="252.89" r="1.26" fill="#e02858"/><circle cx="394.76" cy="252.06" r="1.46" fill="#e02858"/><circle cx="394.61" cy="252.58" r="1.69" fill="#e02858"/>
</g>
<g filter="url(#soft2)">
<circle cx="379.4" cy="242.05" r="1.53" fill="#b00424" opacity="0.6"/><circle cx="381.63" cy="240.6" r="1.74" fill="#a60020" opacity="0.6"/><circle cx="391.11" cy="240.2" r="1.39" fill="#a60020" opacity="0.6"/><circle cx="382.32" cy="241.2" r="1.22" fill="#b00424" opacity="0.6"/><circle cx="387.96" cy="239.08" r="1.49" fill="#b00424" opacity="0.6"/><circle cx="380.33" cy="238.42" r="1.13" fill="#a60020" opacity="0.6"/><circle cx="379.49" cy="239.61" r="1.05" fill="#b00424" opacity="0.6"/><circle cx="388.13" cy="241.82" r="1.18" fill="#a60020" opacity="0.6"/><circle cx="389.36" cy="239.35" r="1.42" fill="#b00424" opacity="0.6"/>
<circle cx="359.87" cy="270.5" r="1.09" fill="#b00424" opacity="0.6"/><circle cx="362.49" cy="270.7" r="0.93" fill="#a60020" opacity="0.6"/><circle cx="364.99" cy="268.49" r="1.51" fill="#b80828" opacity="0.6"/><circle cx="362.77" cy="267.49" r="1.09" fill="#a60020" opacity="0.6"/><circle cx="365.98" cy="266.95" r="1.48" fill="#b00424" opacity="0.6"/><circle cx="360.37" cy="270.52" r="1.56" fill="#b00424" opacity="0.6"/><circle cx="367.08" cy="267.12" r="1.75" fill="#b00424" opacity="0.6"/><circle cx="360.03" cy="269.69" r="0.92" fill="#a60020" opacity="0.6"/>
<circle cx="373.1" cy="280.78" r="1.61" fill="#b00424" opacity="0.6"/><circle cx="369.1" cy="277.35" r="1.27" fill="#b00424" opacity="0.6"/><circle cx="374.61" cy="279.44" r="1.07" fill="#a60020" opacity="0.6"/><circle cx="368.8" cy="281.11" r="0.93" fill="#b00424" opacity="0.6"/><circle cx="370.74" cy="281.87" r="1.64" fill="#b00424" opacity="0.6"/><circle cx="374.16" cy="281.3" r="1.43" fill="#b80828" opacity="0.6"/><circle cx="372.35" cy="280.21" r="0.91" fill="#b00424" opacity="0.6"/>
<circle cx="414.08" cy="276.2" r="0.92" fill="#b00424" opacity="0.6"/><circle cx="417.85" cy="280.15" r="1.13" fill="#b80828" opacity="0.6"/><circle cx="409.07" cy="281.92" r="1.23" fill="#b80828" opacity="0.6"/><circle cx="414.41" cy="276.24" r="1.12" fill="#a60020" opacity="0.6"/><circle cx="406.95" cy="278.98" r="1.53" fill="#b00424" opacity="0.6"/><circle cx="411.2" cy="279.27" r="1.04" fill="#b80828" opacity="0.6"/><circle cx="411.96" cy="276.34" r="1.38" fill="#a60020" opacity="0.6"/><circle cx="411.73" cy="284.24" r="1.69" fill="#b00424" opacity="0.6"/><circle cx="416.32" cy="277.45" r="1.64" fill="#b80828" opacity="0.6"/><circle cx="421.65" cy="279.2" r="1.32" fill="#b00424" opacity="0.6"/><circle cx="410.58" cy="279.6" r="1.62" fill="#b00424" opacity="0.6"/><circle cx="410.64" cy="280.78" r="1.08" fill="#b00424" opacity="0.6"/><circle cx="407.58" cy="282.76" r="1.47" fill="#b80828" opacity="0.6"/><circle cx="421.55" cy="282.2" r="1.65" fill="#b80828" opacity="0.6"/><circle cx="420.04" cy="278.09" r="1.65" fill="#a60020" opacity="0.6"/><circle cx="417.51" cy="283.24" r="1.2" fill="#a60020" opacity="0.6"/><circle cx="408.28" cy="280.41" r="1.39" fill="#a60020" opacity="0.6"/><circle cx="413.68" cy="277.75" r="1.05" fill="#b00424" opacity="0.6"/><circle cx="413.03" cy="282.88" r="1.09" fill="#a60020" opacity="0.6"/><circle cx="415.09" cy="286.53" r="1.71" fill="#b80828" opacity="0.6"/>
<circle cx="349.06" cy="296.34" r="1.49" fill="#b00424" opacity="0.6"/><circle cx="352.76" cy="292.47" r="1.41" fill="#b00424" opacity="0.6"/><circle cx="353.06" cy="300.15" r="1.29" fill="#a60020" opacity="0.6"/><circle cx="350.3" cy="298.16" r="1.39" fill="#b00424" opacity="0.6"/><circle cx="351.56" cy="299.38" r="1.01" fill="#b80828" opacity="0.6"/><circle cx="350.15" cy="297.63" r="1.78" fill="#a60020" opacity="0.6"/><circle cx="356.82" cy="298.34" r="1.11" fill="#a60020" opacity="0.6"/><circle cx="348.79" cy="300.84" r="1.53" fill="#a60020" opacity="0.6"/><circle cx="349.18" cy="297.89" r="1.16" fill="#b00424" opacity="0.6"/><circle cx="346.27" cy="299.29" r="1.37" fill="#b00424" opacity="0.6"/><circle cx="345.73" cy="300.42" r="0.93" fill="#b00424" opacity="0.6"/><circle cx="344.93" cy="294.75" r="1.46" fill="#a60020" opacity="0.6"/><circle cx="353.51" cy="300.26" r="1.57" fill="#a60020" opacity="0.6"/><circle cx="357.73" cy="296.12" r="0.97" fill="#b00424" opacity="0.6"/><circle cx="357.97" cy="298.76" r="1.28" fill="#b00424" opacity="0.6"/><circle cx="348.7" cy="300.45" r="1.06" fill="#b00424" opacity="0.6"/><circle cx="351.97" cy="299.53" r="1.6" fill="#b00424" opacity="0.6"/><circle cx="344.36" cy="296.38" r="1.79" fill="#b80828" opacity="0.6"/>
<circle cx="377.53" cy="266.54" r="1.39" fill="#b00424" opacity="0.6"/><circle cx="376.43" cy="267.22" r="1.01" fill="#b80828" opacity="0.6"/><circle cx="379.31" cy="265.74" r="1.16" fill="#b00424" opacity="0.6"/><circle cx="379.06" cy="266.01" r="1.6" fill="#b00424" opacity="0.6"/>
<circle cx="407.59" cy="295.41" r="1.2" fill="#a60020" opacity="0.6"/><circle cx="406.13" cy="294.56" r="0.94" fill="#a60020" opacity="0.6"/><circle cx="407.11" cy="297.88" r="1.06" fill="#b80828" opacity="0.6"/><circle cx="407.25" cy="299.17" r="1.44" fill="#b80828" opacity="0.6"/><circle cx="404.73" cy="298.21" r="1.6" fill="#b00424" opacity="0.6"/><circle cx="404.75" cy="295.58" r="1.57" fill="#b00424" opacity="0.6"/>
<circle cx="417.12" cy="280.8" r="0.99" fill="#f04c74" opacity="0.8"/><circle cx="422.12" cy="279.88" r="0.86" fill="#ec3a64" opacity="0.8"/><circle cx="414.78" cy="282.87" r="0.83" fill="#ec3a64" opacity="0.8"/><circle cx="411.95" cy="285.55" r="0.82" fill="#f04c74" opacity="0.8"/><circle cx="420.62" cy="283.36" r="0.83" fill="#ec3a64" opacity="0.8"/><circle cx="415.78" cy="276.53" r="0.83" fill="#ec3a64" opacity="0.8"/><circle cx="410" cy="284.24" r="0.76" fill="#ec3a64" opacity="0.8"/><circle cx="412.94" cy="284.16" r="1.02" fill="#ec3a64" opacity="0.8"/><circle cx="422.87" cy="279.86" r="1.14" fill="#f04c74" opacity="0.8"/><circle cx="413.41" cy="279.62" r="1.03" fill="#f04c74" opacity="0.8"/><circle cx="410.53" cy="285.14" r="0.66" fill="#f04c74" opacity="0.8"/><circle cx="416.69" cy="274.03" r="1.14" fill="#f04c74" opacity="0.8"/>
<circle cx="355.82" cy="295.46" r="0.91" fill="#f04c74" opacity="0.8"/><circle cx="355.51" cy="294.02" r="0.95" fill="#f04c74" opacity="0.8"/><circle cx="356.55" cy="297.39" r="1.18" fill="#ec3a64" opacity="0.8"/><circle cx="354.34" cy="302.56" r="1.08" fill="#ec3a64" opacity="0.8"/><circle cx="348.47" cy="303.6" r="0.73" fill="#f04c74" opacity="0.8"/><circle cx="349.29" cy="294.47" r="1.14" fill="#ec3a64" opacity="0.8"/><circle cx="345.87" cy="293.35" r="0.62" fill="#ec3a64" opacity="0.8"/><circle cx="351.59" cy="291.24" r="0.75" fill="#ec3a64" opacity="0.8"/><circle cx="352.38" cy="303.96" r="0.93" fill="#f04c74" opacity="0.8"/><circle cx="355.85" cy="295.09" r="0.79" fill="#f04c74" opacity="0.8"/>
<circle cx="372.47" cy="279.5" r="1.12" fill="#ec3a64" opacity="0.8"/><circle cx="371.43" cy="281.08" r="0.63" fill="#f04c74" opacity="0.8"/><circle cx="374.39" cy="281" r="1.08" fill="#ec3a64" opacity="0.8"/><circle cx="373.9" cy="281.46" r="0.65" fill="#ec3a64" opacity="0.8"/>
<circle cx="360.19" cy="266.72" r="0.76" fill="#f04c74" opacity="0.8"/><circle cx="366.5" cy="268.42" r="0.85" fill="#ec3a64" opacity="0.8"/><circle cx="367.24" cy="268.34" r="0.87" fill="#ec3a64" opacity="0.8"/><circle cx="364.85" cy="271.42" r="1.14" fill="#ec3a64" opacity="0.8"/><circle cx="362.28" cy="271.03" r="0.7" fill="#ec3a64" opacity="0.8"/>
</g>
<g filter="url(#soft)">
<circle cx="385.47" cy="251.69" r="0.34" fill="#e0305a" opacity="0.8"/><circle cx="419.38" cy="256.65" r="0.4" fill="#d81c44" opacity="0.8"/><circle cx="381.09" cy="280.72" r="0.53" fill="#d81c44" opacity="0.8"/><circle cx="359.02" cy="283.96" r="0.33" fill="#d81c44" opacity="0.8"/><circle cx="401.39" cy="281.6" r="0.48" fill="#d81c44" opacity="0.8"/><circle cx="416.01" cy="258.28" r="0.32" fill="#d81c44" opacity="0.8"/><circle cx="415" cy="293.95" r="0.65" fill="#e0305a" opacity="0.8"/><circle cx="362.58" cy="263.75" r="0.51" fill="#e0305a" opacity="0.8"/><circle cx="408.89" cy="253.54" r="0.67" fill="#d81c44" opacity="0.8"/><circle cx="393.9" cy="293.34" r="0.48" fill="#e0305a" opacity="0.8"/><circle cx="368.45" cy="249.61" r="0.44" fill="#e0305a" opacity="0.8"/><circle cx="404.28" cy="290.4" r="0.69" fill="#d81c44" opacity="0.8"/><circle cx="379.39" cy="285.36" r="0.56" fill="#e0305a" opacity="0.8"/><circle cx="400.71" cy="249.56" r="0.69" fill="#d81c44" opacity="0.8"/><circle cx="346.13" cy="281.17" r="0.51" fill="#e0305a" opacity="0.8"/><circle cx="366.66" cy="246.71" r="0.56" fill="#d81c44" opacity="0.8"/><circle cx="386.45" cy="303.94" r="0.54" fill="#e0305a" opacity="0.8"/><circle cx="369.49" cy="257.33" r="0.4" fill="#d81c44" opacity="0.8"/><circle cx="362.2" cy="263.55" r="0.41" fill="#d81c44" opacity="0.8"/><circle cx="406.21" cy="281.71" r="0.61" fill="#d81c44" opacity="0.8"/><circle cx="417.74" cy="290.16" r="0.33" fill="#d81c44" opacity="0.8"/><circle cx="359.04" cy="280.6" r="0.33" fill="#d81c44" opacity="0.8"/><circle cx="380.06" cy="284.66" r="0.61" fill="#e0305a" opacity="0.8"/><circle cx="361.63" cy="286.41" r="0.39" fill="#d81c44" opacity="0.8"/><circle cx="373.44" cy="292.5" r="0.36" fill="#e0305a" opacity="0.8"/><circle cx="363.44" cy="279.11" r="0.67" fill="#d81c44" opacity="0.8"/><circle cx="412.94" cy="297.78" r="0.43" fill="#e0305a" opacity="0.8"/><circle cx="376.2" cy="244.21" r="0.43" fill="#d81c44" opacity="0.8"/><circle cx="372.37" cy="244.77" r="0.57" fill="#e0305a" opacity="0.8"/><circle cx="358.15" cy="275.14" r="0.47" fill="#e0305a" opacity="0.8"/><circle cx="379.96" cy="253.36" r="0.33" fill="#e0305a" opacity="0.8"/><circle cx="379.9" cy="283.62" r="0.32" fill="#d81c44" opacity="0.8"/><circle cx="407.14" cy="299.57" r="0.46" fill="#e0305a" opacity="0.8"/><circle cx="411.92" cy="260.94" r="0.33" fill="#e0305a" opacity="0.8"/><circle cx="425.15" cy="282.26" r="0.3" fill="#d81c44" opacity="0.8"/><circle cx="362.42" cy="284.66" r="0.65" fill="#d81c44" opacity="0.8"/><circle cx="389.58" cy="303.06" r="0.59" fill="#d81c44" opacity="0.8"/><circle cx="398.93" cy="285.31" r="0.7" fill="#e0305a" opacity="0.8"/><circle cx="406.94" cy="253.11" r="0.51" fill="#e0305a" opacity="0.8"/><circle cx="426.51" cy="272.97" r="0.66" fill="#e0305a" opacity="0.8"/>
</g>
</g>
<g clip-path="url(#m2)">
<rect x="439.4" y="237" width="92.6" height="70" filter="url(#fib2)"/>
<g filter="url(#soft2)">
<path d="M481.91 262.63 q2.37 1.47 4.96 2.3" fill="none" stroke="#f7a8c6" stroke-width="0.57" stroke-linecap="round" opacity="0.8"/><path d="M469.4 304.29 q-1.59 2.66 -2.89 3.97" fill="none" stroke="#f4a0c0" stroke-width="0.75" stroke-linecap="round" opacity="0.8"/><path d="M452.24 252.61 q2.46 1.56 3.78 1.37" fill="none" stroke="#fbd0e0" stroke-width="0.43" stroke-linecap="round" opacity="0.8"/><path d="M523.06 303 q1.98 2.1 2.32 1.74" fill="none" stroke="#f28cb4" stroke-width="0.84" stroke-linecap="round" opacity="0.8"/><path d="M475.46 260.28 q1.06 -0.04 4.79 0.65" fill="none" stroke="#f7a8c6" stroke-width="0.84" stroke-linecap="round" opacity="0.8"/><path d="M484.7 236.74 q-0.83 3.53 1.32 5.47" fill="none" stroke="#f7a8c6" stroke-width="0.88" stroke-linecap="round" opacity="0.8"/><path d="M456.17 298.06 q-0.03 1.15 2.83 4.8" fill="none" stroke="#f4a0c0" stroke-width="0.67" stroke-linecap="round" opacity="0.8"/><path d="M485.18 303.15 q-0.62 3.06 0.89 3.48" fill="none" stroke="#f7a8c6" stroke-width="0.75" stroke-linecap="round" opacity="0.8"/><path d="M506.8 238.05 q2.28 2 3.13 3.55" fill="none" stroke="#f4a0c0" stroke-width="0.77" stroke-linecap="round" opacity="0.8"/><path d="M440.32 299.28 q-0.52 2.28 1.7 5.36" fill="none" stroke="#f4a0c0" stroke-width="0.71" stroke-linecap="round" opacity="0.8"/><path d="M502.39 278.68 q0.25 0.36 -1.78 1.53" fill="none" stroke="#f9bcd4" stroke-width="0.45" stroke-linecap="round" opacity="0.8"/><path d="M457.37 249.71 q-2.97 0.21 -4.91 0.83" fill="none" stroke="#f28cb4" stroke-width="0.8" stroke-linecap="round" opacity="0.8"/><path d="M457.7 267.86 q1.47 -0.42 1.23 2.01" fill="none" stroke="#f9bcd4" stroke-width="0.45" stroke-linecap="round" opacity="0.8"/><path d="M512.73 294.76 q-1.28 2.86 0.04 4.84" fill="none" stroke="#f4a0c0" stroke-width="0.68" stroke-linecap="round" opacity="0.8"/><path d="M446.29 291.29 q0.41 1.92 -0.18 5.82" fill="none" stroke="#fbd0e0" stroke-width="0.58" stroke-linecap="round" opacity="0.8"/><path d="M518.8 254.16 q1.91 -0.67 5.83 0.93" fill="none" stroke="#f4a0c0" stroke-width="0.53" stroke-linecap="round" opacity="0.8"/><path d="M451.39 238.61 q1.8 2.11 0.8 5.08" fill="none" stroke="#f9bcd4" stroke-width="0.71" stroke-linecap="round" opacity="0.8"/><path d="M450.64 276.58 q-0.08 0.25 2.13 0.98" fill="none" stroke="#fbd0e0" stroke-width="0.55" stroke-linecap="round" opacity="0.8"/><path d="M450.82 276.58 q-2.42 1.6 -3.48 2.61" fill="none" stroke="#f4a0c0" stroke-width="0.73" stroke-linecap="round" opacity="0.8"/><path d="M496.02 260.82 q-1.12 -0.88 -3.02 0.74" fill="none" stroke="#f4a0c0" stroke-width="0.49" stroke-linecap="round" opacity="0.8"/><path d="M512.67 251.46 q1.49 -1.2 2.7 0.11" fill="none" stroke="#f28cb4" stroke-width="0.7" stroke-linecap="round" opacity="0.8"/><path d="M490.22 278.88 q1.03 0.64 1.54 1.66" fill="none" stroke="#f7a8c6" stroke-width="0.69" stroke-linecap="round" opacity="0.8"/><path d="M466.95 274 q-1.71 3.01 -2.23 4.68" fill="none" stroke="#fbd0e0" stroke-width="0.67" stroke-linecap="round" opacity="0.8"/><path d="M506.91 242.64 q-0.44 2.08 -2.24 3.09" fill="none" stroke="#f28cb4" stroke-width="0.84" stroke-linecap="round" opacity="0.8"/><path d="M439.83 253.03 q1.35 0.34 0.45 3.46" fill="none" stroke="#fbd0e0" stroke-width="0.71" stroke-linecap="round" opacity="0.8"/><path d="M494.91 280.38 q-2.36 2.29 -1.92 3.07" fill="none" stroke="#f7a8c6" stroke-width="0.44" stroke-linecap="round" opacity="0.8"/><path d="M445.19 237.21 q0.03 1.44 -1.6 3.87" fill="none" stroke="#f28cb4" stroke-width="0.41" stroke-linecap="round" opacity="0.8"/><path d="M512.93 235.63 q-1.16 -0.87 -4.32 0.63" fill="none" stroke="#f28cb4" stroke-width="0.89" stroke-linecap="round" opacity="0.8"/><path d="M470.83 252.12 q-2.41 -0.39 -2.13 1.76" fill="none" stroke="#f4a0c0" stroke-width="0.45" stroke-linecap="round" opacity="0.8"/><path d="M499.6 241.11 q2.11 -0.92 1.98 0.67" fill="none" stroke="#fbd0e0" stroke-width="0.5" stroke-linecap="round" opacity="0.8"/><path d="M437.53 291.49 q-1.99 -0.32 -1.12 1.73" fill="none" stroke="#f9bcd4" stroke-width="0.87" stroke-linecap="round" opacity="0.8"/><path d="M514.6 239.28 q2.32 2.46 3.81 3.84" fill="none" stroke="#fbd0e0" stroke-width="0.84" stroke-linecap="round" opacity="0.8"/><path d="M449.83 237.88 q2.55 2.2 2.84 1.89" fill="none" stroke="#f28cb4" stroke-width="0.87" stroke-linecap="round" opacity="0.8"/><path d="M530.85 241.99 q1 2.4 1.62 2.51" fill="none" stroke="#fbd0e0" stroke-width="0.56" stroke-linecap="round" opacity="0.8"/><path d="M523.57 266.83 q1.76 0.21 3.11 0.78" fill="none" stroke="#f28cb4" stroke-width="0.71" stroke-linecap="round" opacity="0.8"/><path d="M455.07 264.76 q-0.17 0.74 1.4 2.29" fill="none" stroke="#fbd0e0" stroke-width="0.41" stroke-linecap="round" opacity="0.8"/><path d="M523.97 304.84 q4.16 1.3 5.69 1.57" fill="none" stroke="#fbd0e0" stroke-width="0.7" stroke-linecap="round" opacity="0.8"/><path d="M474.33 286.58 q-1.69 1.44 -1.73 1.52" fill="none" stroke="#fbd0e0" stroke-width="0.61" stroke-linecap="round" opacity="0.8"/><path d="M511.1 294.14 q0.09 0.64 -0.03 3.85" fill="none" stroke="#f7a8c6" stroke-width="0.54" stroke-linecap="round" opacity="0.8"/><path d="M438.05 303.15 q1.32 1.04 2.57 0.34" fill="none" stroke="#f4a0c0" stroke-width="0.75" stroke-linecap="round" opacity="0.8"/><path d="M476.17 297.14 q0.31 3.38 1.48 4.09" fill="none" stroke="#f4a0c0" stroke-width="0.65" stroke-linecap="round" opacity="0.8"/><path d="M456.59 302.71 q-2.02 3.09 -1.09 5.08" fill="none" stroke="#f4a0c0" stroke-width="0.69" stroke-linecap="round" opacity="0.8"/><path d="M438.95 270.43 q-3.22 0.82 -4.3 1.93" fill="none" stroke="#f7a8c6" stroke-width="0.54" stroke-linecap="round" opacity="0.8"/><path d="M502.94 252.17 q-0.08 1.49 2.53 4.31" fill="none" stroke="#f9bcd4" stroke-width="0.77" stroke-linecap="round" opacity="0.8"/><path d="M470.4 277.81 q-0.82 3.62 -0.69 5.76" fill="none" stroke="#f7a8c6" stroke-width="0.63" stroke-linecap="round" opacity="0.8"/><path d="M450.03 266.29 q0.91 4.17 -0.26 5.35" fill="none" stroke="#fbd0e0" stroke-width="0.61" stroke-linecap="round" opacity="0.8"/><path d="M527.81 287.96 q-0.17 1.8 0.03 2.24" fill="none" stroke="#f28cb4" stroke-width="0.84" stroke-linecap="round" opacity="0.8"/><path d="M455.5 242.31 q1.13 0.99 3.77 2.17" fill="none" stroke="#f9bcd4" stroke-width="0.53" stroke-linecap="round" opacity="0.8"/><path d="M487.98 291.31 q3.75 -0.89 4.65 0.18" fill="none" stroke="#f9bcd4" stroke-width="0.74" stroke-linecap="round" opacity="0.8"/><path d="M442.48 298.19 q-1.46 0.75 -0.71 2.71" fill="none" stroke="#f9bcd4" stroke-width="0.54" stroke-linecap="round" opacity="0.8"/><path d="M440.5 265.03 q-0.45 2.37 -2.94 2.44" fill="none" stroke="#f7a8c6" stroke-width="0.56" stroke-linecap="round" opacity="0.8"/><path d="M505.96 282.14 q-1.41 2.97 -4.56 3.42" fill="none" stroke="#f28cb4" stroke-width="0.82" stroke-linecap="round" opacity="0.8"/><path d="M451.75 263.06 q-1.03 1.23 -3.56 0.45" fill="none" stroke="#f9bcd4" stroke-width="0.61" stroke-linecap="round" opacity="0.8"/><path d="M501.57 280.66 q0.26 3.34 -0.15 3.99" fill="none" stroke="#f9bcd4" stroke-width="0.53" stroke-linecap="round" opacity="0.8"/><path d="M470.65 236.03 q2.2 -0.54 1.82 1.3" fill="none" stroke="#fbd0e0" stroke-width="0.63" stroke-linecap="round" opacity="0.8"/><path d="M520.49 249.65 q-1.93 1.57 -1.93 2.32" fill="none" stroke="#f9bcd4" stroke-width="0.51" stroke-linecap="round" opacity="0.8"/><path d="M527.81 262.39 q-2.11 2.22 -1.39 2.99" fill="none" stroke="#f4a0c0" stroke-width="0.68" stroke-linecap="round" opacity="0.8"/><path d="M457.36 238.47 q2.85 0.78 5.35 0.33" fill="none" stroke="#f28cb4" stroke-width="0.58" stroke-linecap="round" opacity="0.8"/><path d="M444.32 287.23 q-2.79 2.51 -3.52 4.57" fill="none" stroke="#f7a8c6" stroke-width="0.52" stroke-linecap="round" opacity="0.8"/><path d="M477.92 287 q1.6 0.28 3.75 2.59" fill="none" stroke="#fbd0e0" stroke-width="0.66" stroke-linecap="round" opacity="0.8"/><path d="M489.93 255.48 q1.93 0.15 2.29 2.96" fill="none" stroke="#fbd0e0" stroke-width="0.61" stroke-linecap="round" opacity="0.8"/><path d="M471.81 288.86 q-2.18 2.96 -1.75 3.21" fill="none" stroke="#f9bcd4" stroke-width="0.63" stroke-linecap="round" opacity="0.8"/><path d="M476.56 305.55 q0.48 1.05 3.85 2.5" fill="none" stroke="#f9bcd4" stroke-width="0.61" stroke-linecap="round" opacity="0.8"/><path d="M474.84 304.93 q-4.31 -0.38 -5.81 0.48" fill="none" stroke="#f28cb4" stroke-width="0.48" stroke-linecap="round" opacity="0.8"/><path d="M437.77 243.79 q-0.32 1.93 -0.67 2.72" fill="none" stroke="#fbd0e0" stroke-width="0.45" stroke-linecap="round" opacity="0.8"/><path d="M523.06 306.94 q2.73 1.64 3.99 0.94" fill="none" stroke="#f9bcd4" stroke-width="0.47" stroke-linecap="round" opacity="0.8"/><path d="M456.22 269.99 q-1.46 2.27 -1.81 3.46" fill="none" stroke="#fbd0e0" stroke-width="0.72" stroke-linecap="round" opacity="0.8"/><path d="M511.99 269.29 q-1.89 2.94 -1.27 4.36" fill="none" stroke="#f28cb4" stroke-width="0.81" stroke-linecap="round" opacity="0.8"/><path d="M518.61 259.95 q0.42 0.76 -2.12 1.59" fill="none" stroke="#fbd0e0" stroke-width="0.7" stroke-linecap="round" opacity="0.8"/><path d="M477.06 271.78 q2.14 1.8 3.77 1.44" fill="none" stroke="#f9bcd4" stroke-width="0.62" stroke-linecap="round" opacity="0.8"/><path d="M492.27 254.58 q-0.45 1.58 -0.55 3.05" fill="none" stroke="#f9bcd4" stroke-width="0.66" stroke-linecap="round" opacity="0.8"/><path d="M511.52 262.57 q-1.54 0.8 -2 1.73" fill="none" stroke="#f9bcd4" stroke-width="0.75" stroke-linecap="round" opacity="0.8"/><path d="M522.49 259.09 q-0.77 2.61 -3.3 4.57" fill="none" stroke="#fbd0e0" stroke-width="0.53" stroke-linecap="round" opacity="0.8"/><path d="M515.43 240.14 q-0.86 0.96 1.03 3.66" fill="none" stroke="#f28cb4" stroke-width="0.63" stroke-linecap="round" opacity="0.8"/><path d="M517.66 300.33 q0.9 1.96 -0.53 2.26" fill="none" stroke="#f9bcd4" stroke-width="0.4" stroke-linecap="round" opacity="0.8"/><path d="M480.35 247.65 q-0.26 -0.26 -2.66 1.52" fill="none" stroke="#f7a8c6" stroke-width="0.46" stroke-linecap="round" opacity="0.8"/><path d="M498.05 254.24 q2.05 1.13 3.87 2.81" fill="none" stroke="#f4a0c0" stroke-width="0.65" stroke-linecap="round" opacity="0.8"/><path d="M506.3 254.93 q0.67 2.39 3.43 3.33" fill="none" stroke="#f9bcd4" stroke-width="0.53" stroke-linecap="round" opacity="0.8"/><path d="M509.92 279.83 q1.62 1.44 1.39 3.56" fill="none" stroke="#f7a8c6" stroke-width="0.7" stroke-linecap="round" opacity="0.8"/><path d="M489.96 295.27 q2.82 -0.56 3.05 1.37" fill="none" stroke="#f4a0c0" stroke-width="0.58" stroke-linecap="round" opacity="0.8"/><path d="M445.24 261.88 q0.33 2.18 0.39 3.45" fill="none" stroke="#f4a0c0" stroke-width="0.74" stroke-linecap="round" opacity="0.8"/><path d="M437.64 268.52 q-0.04 0.71 -1.84 2.81" fill="none" stroke="#f9bcd4" stroke-width="0.43" stroke-linecap="round" opacity="0.8"/><path d="M452.59 295.67 q-0.08 1.13 2.73 1.11" fill="none" stroke="#f4a0c0" stroke-width="0.8" stroke-linecap="round" opacity="0.8"/><path d="M496.11 281.39 q0.49 1.5 1.11 3.5" fill="none" stroke="#f9bcd4" stroke-width="0.69" stroke-linecap="round" opacity="0.8"/><path d="M464.27 282.84 q3.04 -0.32 3.48 1.78" fill="none" stroke="#f9bcd4" stroke-width="0.4" stroke-linecap="round" opacity="0.8"/><path d="M493.11 255.88 q2.1 0.6 2.72 1.06" fill="none" stroke="#f28cb4" stroke-width="0.84" stroke-linecap="round" opacity="0.8"/><path d="M519.04 304.87 q1.59 2.06 1.71 2.03" fill="none" stroke="#f9bcd4" stroke-width="0.73" stroke-linecap="round" opacity="0.8"/><path d="M455.57 291.34 q-0.86 0.6 -2.99 3.88" fill="none" stroke="#f7a8c6" stroke-width="0.83" stroke-linecap="round" opacity="0.8"/><path d="M507.61 249.07 q-1.72 2.22 -3.75 2.62" fill="none" stroke="#fbd0e0" stroke-width="0.44" stroke-linecap="round" opacity="0.8"/><path d="M502.2 272.94 q2.11 -0.61 2.23 0.67" fill="none" stroke="#f9bcd4" stroke-width="0.42" stroke-linecap="round" opacity="0.8"/><path d="M492.6 255.3 q1.91 1.59 2.21 4.64" fill="none" stroke="#fbd0e0" stroke-width="0.84" stroke-linecap="round" opacity="0.8"/><path d="M442.66 261.99 q2.54 1.59 2.5 0.63" fill="none" stroke="#f9bcd4" stroke-width="0.75" stroke-linecap="round" opacity="0.8"/><path d="M492.02 248.12 q-1.56 3.28 -0.91 3.59" fill="none" stroke="#f9bcd4" stroke-width="0.75" stroke-linecap="round" opacity="0.8"/><path d="M500.62 276.79 q0.23 1 0.5 3.82" fill="none" stroke="#fbd0e0" stroke-width="0.62" stroke-linecap="round" opacity="0.8"/><path d="M533.71 267.75 q-1.03 1.03 0.26 2.82" fill="none" stroke="#f28cb4" stroke-width="0.48" stroke-linecap="round" opacity="0.8"/><path d="M455.14 269.4 q-0.27 -0.41 2.04 0.63" fill="none" stroke="#f7a8c6" stroke-width="0.81" stroke-linecap="round" opacity="0.8"/><path d="M517.62 243.82 q1.6 2.38 2.36 2.78" fill="none" stroke="#f28cb4" stroke-width="0.51" stroke-linecap="round" opacity="0.8"/><path d="M486.86 258.28 q0.51 1.7 2.02 1.05" fill="none" stroke="#f7a8c6" stroke-width="0.83" stroke-linecap="round" opacity="0.8"/><path d="M526.65 293.38 q0.69 1.16 0.76 5.21" fill="none" stroke="#f9bcd4" stroke-width="0.76" stroke-linecap="round" opacity="0.8"/><path d="M469.43 291.24 q-1.61 -1.14 -2.97 0.57" fill="none" stroke="#f7a8c6" stroke-width="0.79" stroke-linecap="round" opacity="0.8"/><path d="M532.73 304.03 q1.55 0.06 3.67 0.59" fill="none" stroke="#f9bcd4" stroke-width="0.43" stroke-linecap="round" opacity="0.8"/><path d="M444.69 273.23 q0.23 -0.43 0.97 1.83" fill="none" stroke="#f28cb4" stroke-width="0.83" stroke-linecap="round" opacity="0.8"/><path d="M472.37 264.38 q2.62 2.32 2.55 3.35" fill="none" stroke="#f7a8c6" stroke-width="0.71" stroke-linecap="round" opacity="0.8"/><path d="M470.09 305.55 q2.86 0.72 2.75 0.14" fill="none" stroke="#f7a8c6" stroke-width="0.88" stroke-linecap="round" opacity="0.8"/><path d="M494.77 239.66 q0.17 1.91 1.14 4.51" fill="none" stroke="#f4a0c0" stroke-width="0.88" stroke-linecap="round" opacity="0.8"/><path d="M533.15 297.14 q-0.86 -0.11 -2.28 0.92" fill="none" stroke="#f9bcd4" stroke-width="0.43" stroke-linecap="round" opacity="0.8"/><path d="M492.23 248.89 q2.02 0.47 3.77 2.84" fill="none" stroke="#f28cb4" stroke-width="0.69" stroke-linecap="round" opacity="0.8"/><path d="M442.77 290.67 q-0.59 0.01 -2.89 1.7" fill="none" stroke="#f4a0c0" stroke-width="0.85" stroke-linecap="round" opacity="0.8"/><path d="M450.39 260.51 q0.85 0.56 3.7 3.38" fill="none" stroke="#f9bcd4" stroke-width="0.86" stroke-linecap="round" opacity="0.8"/><path d="M449.44 235.93 q-2.18 2.61 -5.23 2.63" fill="none" stroke="#fbd0e0" stroke-width="0.52" stroke-linecap="round" opacity="0.8"/><path d="M521.69 251.4 q3.54 1.36 5.36 1.04" fill="none" stroke="#f28cb4" stroke-width="0.43" stroke-linecap="round" opacity="0.8"/><path d="M519.72 294.16 q-0.05 0.59 2.62 2.25" fill="none" stroke="#f9bcd4" stroke-width="0.78" stroke-linecap="round" opacity="0.8"/><path d="M444.83 299.31 q-1.75 2.81 -1.81 5.55" fill="none" stroke="#f7a8c6" stroke-width="0.48" stroke-linecap="round" opacity="0.8"/><path d="M439.98 296.24 q1.68 3.34 0.5 4.58" fill="none" stroke="#f9bcd4" stroke-width="0.63" stroke-linecap="round" opacity="0.8"/><path d="M474.17 245.98 q-0.78 -0.57 -2.87 1.56" fill="none" stroke="#f7a8c6" stroke-width="0.67" stroke-linecap="round" opacity="0.8"/><path d="M488.86 272.05 q-1.81 -0.22 -0.89 2.26" fill="none" stroke="#f9bcd4" stroke-width="0.44" stroke-linecap="round" opacity="0.8"/><path d="M531.95 246.99 q-0.35 0.23 -1.22 1.86" fill="none" stroke="#fbd0e0" stroke-width="0.77" stroke-linecap="round" opacity="0.8"/><path d="M533.06 303.93 q-3.23 -0.03 -4.88 0.23" fill="none" stroke="#f4a0c0" stroke-width="0.43" stroke-linecap="round" opacity="0.8"/><path d="M511.07 236.95 q0.21 0.01 3.27 2.47" fill="none" stroke="#f9bcd4" stroke-width="0.62" stroke-linecap="round" opacity="0.8"/><path d="M528.28 241.62 q2.21 2.65 2.98 3.01" fill="none" stroke="#f28cb4" stroke-width="0.52" stroke-linecap="round" opacity="0.8"/><path d="M438.71 279.59 q-1.16 1 -4.87 1.44" fill="none" stroke="#f7a8c6" stroke-width="0.45" stroke-linecap="round" opacity="0.8"/><path d="M443.35 253.02 q-3.7 1.6 -4.85 3.37" fill="none" stroke="#f7a8c6" stroke-width="0.83" stroke-linecap="round" opacity="0.8"/><path d="M494.08 235.6 q-0.4 3.58 -0.32 5.74" fill="none" stroke="#f9bcd4" stroke-width="0.75" stroke-linecap="round" opacity="0.8"/><path d="M471.99 286.24 q-0.04 1.62 1.12 2.15" fill="none" stroke="#f9bcd4" stroke-width="0.82" stroke-linecap="round" opacity="0.8"/><path d="M449.67 246.45 q0.9 0.96 0.48 3.34" fill="none" stroke="#f4a0c0" stroke-width="0.48" stroke-linecap="round" opacity="0.8"/><path d="M439 305.85 q2.81 0.01 4.96 1.58" fill="none" stroke="#f7a8c6" stroke-width="0.61" stroke-linecap="round" opacity="0.8"/><path d="M457.94 300.38 q-3.25 2 -3.58 3.59" fill="none" stroke="#f28cb4" stroke-width="0.61" stroke-linecap="round" opacity="0.8"/><path d="M465.53 278.46 q-0.05 1.51 -1.31 1.96" fill="none" stroke="#f7a8c6" stroke-width="0.43" stroke-linecap="round" opacity="0.8"/><path d="M479.29 278.29 q-2.74 -0.09 -4.62 1.01" fill="none" stroke="#f28cb4" stroke-width="0.67" stroke-linecap="round" opacity="0.8"/><path d="M507.76 287.19 q0.82 0.91 3.76 1.66" fill="none" stroke="#f28cb4" stroke-width="0.84" stroke-linecap="round" opacity="0.8"/><path d="M528.6 237.82 q-3.78 1.78 -5.47 1.24" fill="none" stroke="#f4a0c0" stroke-width="0.72" stroke-linecap="round" opacity="0.8"/><path d="M507.64 294.22 q1.42 0.47 2.76 1.38" fill="none" stroke="#fbd0e0" stroke-width="0.66" stroke-linecap="round" opacity="0.8"/><path d="M506.65 297.25 q-0.93 2.39 0.84 3.55" fill="none" stroke="#fbd0e0" stroke-width="0.5" stroke-linecap="round" opacity="0.8"/><path d="M521.89 294.81 q2.16 1.05 3.16 1.06" fill="none" stroke="#f28cb4" stroke-width="0.42" stroke-linecap="round" opacity="0.8"/><path d="M460.87 246.4 q0.66 -0.36 -0.91 2.23" fill="none" stroke="#f7a8c6" stroke-width="0.73" stroke-linecap="round" opacity="0.8"/><path d="M444.12 308.03 q3.9 -0.14 5.4 1.59" fill="none" stroke="#f28cb4" stroke-width="0.49" stroke-linecap="round" opacity="0.8"/><path d="M468.26 293.78 q0.07 2.98 0.12 3.79" fill="none" stroke="#f28cb4" stroke-width="0.81" stroke-linecap="round" opacity="0.8"/><path d="M490.26 261.14 q-3.79 1.48 -5.92 0.17" fill="none" stroke="#fbd0e0" stroke-width="0.74" stroke-linecap="round" opacity="0.8"/><path d="M468.94 245.78 q-3.51 0.87 -5.07 2.01" fill="none" stroke="#fbd0e0" stroke-width="0.77" stroke-linecap="round" opacity="0.8"/><path d="M446.1 264.29 q2.07 0.05 3.7 2.2" fill="none" stroke="#f9bcd4" stroke-width="0.41" stroke-linecap="round" opacity="0.8"/><path d="M500.52 235.46 q1.61 0.7 1.69 1.37" fill="none" stroke="#f4a0c0" stroke-width="0.78" stroke-linecap="round" opacity="0.8"/><path d="M482.11 252.34 q-0.1 2.53 -3.02 4.56" fill="none" stroke="#fbd0e0" stroke-width="0.8" stroke-linecap="round" opacity="0.8"/><path d="M480.85 307.67 q-0.81 2.12 -1.17 1.96" fill="none" stroke="#fbd0e0" stroke-width="0.57" stroke-linecap="round" opacity="0.8"/><path d="M485.46 264.64 q1.29 0.58 -0.06 3.62" fill="none" stroke="#f28cb4" stroke-width="0.74" stroke-linecap="round" opacity="0.8"/><path d="M520.06 286.12 q1.35 0.87 0.4 2.12" fill="none" stroke="#f28cb4" stroke-width="0.73" stroke-linecap="round" opacity="0.8"/><path d="M502.39 287.49 q-0.47 0.01 -3.7 1.9" fill="none" stroke="#fbd0e0" stroke-width="0.58" stroke-linecap="round" opacity="0.8"/><path d="M475.09 252.43 q0.18 -0.36 -1.75 1.67" fill="none" stroke="#f7a8c6" stroke-width="0.73" stroke-linecap="round" opacity="0.8"/><path d="M526.39 290.25 q-1.14 1.8 -3.07 1.87" fill="none" stroke="#f28cb4" stroke-width="0.85" stroke-linecap="round" opacity="0.8"/><path d="M470.88 255.47 q2.92 -0.89 4.13 0.14" fill="none" stroke="#f7a8c6" stroke-width="0.46" stroke-linecap="round" opacity="0.8"/><path d="M461.85 251.35 q4.33 1.4 5.66 1.97" fill="none" stroke="#fbd0e0" stroke-width="0.73" stroke-linecap="round" opacity="0.8"/><path d="M529.29 286.45 q-2.32 1.71 -3.66 2.5" fill="none" stroke="#f28cb4" stroke-width="0.67" stroke-linecap="round" opacity="0.8"/><path d="M446.06 266.43 q-0.93 0.99 -2.54 0.47" fill="none" stroke="#f28cb4" stroke-width="0.83" stroke-linecap="round" opacity="0.8"/><path d="M448.12 289.76 q0.77 2.48 0.69 2.68" fill="none" stroke="#f28cb4" stroke-width="0.61" stroke-linecap="round" opacity="0.8"/><path d="M523.08 272.66 q2.2 1.61 3.61 3.86" fill="none" stroke="#f4a0c0" stroke-width="0.73" stroke-linecap="round" opacity="0.8"/><path d="M492.42 262.21 q-0.71 2.69 -3.3 4.42" fill="none" stroke="#f9bcd4" stroke-width="0.61" stroke-linecap="round" opacity="0.8"/><path d="M502.39 302.08 q-3.15 1.96 -3.62 1.73" fill="none" stroke="#f28cb4" stroke-width="0.85" stroke-linecap="round" opacity="0.8"/><path d="M460.3 257.3 q1.47 2.19 0.38 3.76" fill="none" stroke="#fbd0e0" stroke-width="0.69" stroke-linecap="round" opacity="0.8"/><path d="M474.06 246.22 q-1.88 1.71 -0.95 3.95" fill="none" stroke="#f7a8c6" stroke-width="0.42" stroke-linecap="round" opacity="0.8"/><path d="M459.25 287.99 q-3.12 1.76 -4.68 3.11" fill="none" stroke="#f9bcd4" stroke-width="0.88" stroke-linecap="round" opacity="0.8"/><path d="M449.62 275.29 q-1.56 3.04 -2.67 3.66" fill="none" stroke="#f7a8c6" stroke-width="0.59" stroke-linecap="round" opacity="0.8"/><path d="M514.47 248.73 q1.85 1.06 1.65 4.82" fill="none" stroke="#f7a8c6" stroke-width="0.54" stroke-linecap="round" opacity="0.8"/><path d="M520.5 305.16 q-1.79 2.3 -0.88 4.89" fill="none" stroke="#f9bcd4" stroke-width="0.52" stroke-linecap="round" opacity="0.8"/><path d="M460.03 298.84 q1.03 1.39 2.1 1.32" fill="none" stroke="#f9bcd4" stroke-width="0.71" stroke-linecap="round" opacity="0.8"/><path d="M486.77 238.41 q3.51 1.41 5.01 1.97" fill="none" stroke="#f9bcd4" stroke-width="0.85" stroke-linecap="round" opacity="0.8"/><path d="M445.53 308.92 q-0.27 3.12 1.99 4.21" fill="none" stroke="#f7a8c6" stroke-width="0.52" stroke-linecap="round" opacity="0.8"/><path d="M488.72 292.1 q0.03 1 -1.6 2.17" fill="none" stroke="#f28cb4" stroke-width="0.46" stroke-linecap="round" opacity="0.8"/><path d="M490.76 279.59 q2.19 2.49 2.7 4.68" fill="none" stroke="#f28cb4" stroke-width="0.89" stroke-linecap="round" opacity="0.8"/><path d="M487.12 248.71 q-0.13 1.93 -2.79 1.05" fill="none" stroke="#fbd0e0" stroke-width="0.76" stroke-linecap="round" opacity="0.8"/><path d="M532.04 293.78 q-0.18 0.2 -3.34 1.98" fill="none" stroke="#f7a8c6" stroke-width="0.51" stroke-linecap="round" opacity="0.8"/><path d="M511.28 293.21 q-0.61 -0.32 -3.23 1.3" fill="none" stroke="#f28cb4" stroke-width="0.75" stroke-linecap="round" opacity="0.8"/>
</g>
<g filter="url(#blur2)">
<ellipse cx="468" cy="292" rx="16" ry="10" fill="#fff8fb" opacity="0.8"/>
<ellipse cx="514" cy="297" rx="13" ry="8" fill="#fff4f8" opacity="0.75"/>
<ellipse cx="521" cy="270" rx="8" ry="9" fill="#ffeef5" opacity="0.6"/>
<ellipse cx="470" cy="254" rx="10" ry="6" fill="#fff2f7" opacity="0.6"/>
</g>
<g filter="url(#rough)">
<circle cx="489.43" cy="281.67" r="1.79" fill="#b40a2e"/><circle cx="485.04" cy="282.36" r="1.24" fill="#a80428"/><circle cx="490.16" cy="283.97" r="1.38" fill="#be1034"/><circle cx="484.41" cy="284.73" r="1.68" fill="#a80428"/><circle cx="489.93" cy="281.37" r="1.36" fill="#a80428"/><circle cx="485.09" cy="284.64" r="1.01" fill="#be1034"/><circle cx="486.79" cy="280.29" r="1.55" fill="#be1034"/><circle cx="488.16" cy="281.42" r="1.69" fill="#b40a2e"/><circle cx="487.02" cy="283.77" r="1.3" fill="#b40a2e"/><circle cx="484.28" cy="281.73" r="1.81" fill="#b40a2e"/><circle cx="488.64" cy="283.73" r="1.7" fill="#b40a2e"/><circle cx="488.26" cy="281.19" r="1.36" fill="#a80428"/><circle cx="487.52" cy="283.2" r="1.2" fill="#be1034"/><circle cx="486.59" cy="285.67" r="1.71" fill="#be1034"/><circle cx="485.35" cy="280.9" r="1.68" fill="#be1034"/><circle cx="488.71" cy="279.52" r="1.49" fill="#a80428"/><circle cx="485.52" cy="279.16" r="1.02" fill="#a80428"/><circle cx="487.84" cy="279.74" r="1.55" fill="#a80428"/>
<circle cx="488.91" cy="288.57" r="1.05" fill="#b40a2e"/><circle cx="489.28" cy="288.59" r="1.03" fill="#a80428"/><circle cx="487.59" cy="288.86" r="0.83" fill="#b40a2e"/><circle cx="488.47" cy="288.79" r="1" fill="#b40a2e"/><circle cx="488.06" cy="291.72" r="0.92" fill="#b40a2e"/><circle cx="488.41" cy="288.65" r="0.74" fill="#be1034"/>
<circle cx="503.37" cy="283.8" r="0.98" fill="#be1034"/><circle cx="500.25" cy="281.79" r="1.19" fill="#b40a2e"/><circle cx="506.02" cy="283.23" r="1.15" fill="#be1034"/><circle cx="504.85" cy="280.62" r="1.08" fill="#b40a2e"/><circle cx="506.89" cy="281.2" r="1.29" fill="#a80428"/><circle cx="502.5" cy="284.91" r="1.61" fill="#a80428"/><circle cx="505.05" cy="279.82" r="1.28" fill="#b40a2e"/><circle cx="502.83" cy="280.19" r="1.46" fill="#a80428"/><circle cx="500.71" cy="279.51" r="1.47" fill="#b40a2e"/><circle cx="501.66" cy="282.02" r="1.15" fill="#be1034"/><circle cx="499.6" cy="281.55" r="1.19" fill="#a80428"/><circle cx="502.06" cy="283.45" r="1.56" fill="#a80428"/><circle cx="500.32" cy="281.84" r="1.57" fill="#a80428"/><circle cx="499.79" cy="282.36" r="1.64" fill="#a80428"/><circle cx="504.66" cy="282.73" r="1.08" fill="#a80428"/><circle cx="504.73" cy="280.77" r="1.33" fill="#a80428"/>
<circle cx="510.71" cy="273.46" r="1.15" fill="#a80428"/><circle cx="509.92" cy="275.46" r="1.63" fill="#a80428"/><circle cx="509.91" cy="280.33" r="1.76" fill="#be1034"/><circle cx="509.4" cy="279.7" r="1.75" fill="#a80428"/><circle cx="511.11" cy="274.35" r="1.2" fill="#a80428"/><circle cx="513.92" cy="278.19" r="1.64" fill="#b40a2e"/><circle cx="512.07" cy="276.99" r="1.46" fill="#be1034"/><circle cx="510.57" cy="279.83" r="1.55" fill="#be1034"/><circle cx="510.76" cy="276.73" r="1.67" fill="#b40a2e"/><circle cx="509.49" cy="274.22" r="1.2" fill="#b40a2e"/><circle cx="510.68" cy="276.39" r="1.01" fill="#a80428"/><circle cx="509.2" cy="279.73" r="1.21" fill="#a80428"/><circle cx="511.55" cy="280.46" r="1.44" fill="#be1034"/><circle cx="509.87" cy="279.29" r="1.29" fill="#b40a2e"/><circle cx="509.78" cy="275.09" r="1.31" fill="#be1034"/><circle cx="509.21" cy="280.72" r="1.29" fill="#be1034"/>
<circle cx="507.79" cy="272.26" r="0.92" fill="#b40a2e"/><circle cx="509.31" cy="270.97" r="1.15" fill="#b40a2e"/><circle cx="508.79" cy="273.46" r="1.04" fill="#be1034"/><circle cx="507.87" cy="272.63" r="0.83" fill="#b40a2e"/>
</g>
<g filter="url(#soft)">
<circle cx="455" cy="244" r="1.62" fill="#c81a3e" opacity="0.95"/><circle cx="456" cy="245.6" r="1.12" fill="#c81a3e" opacity="0.95"/><circle cx="482" cy="241.6" r="1.25" fill="#c81a3e" opacity="0.95"/><circle cx="496" cy="241" r="1.25" fill="#c81a3e" opacity="0.95"/><circle cx="507" cy="241" r="1.38" fill="#c81a3e" opacity="0.95"/><circle cx="518" cy="245" r="1.12" fill="#c81a3e" opacity="0.95"/><circle cx="526" cy="255" r="1.38" fill="#c81a3e" opacity="0.95"/><circle cx="524.6" cy="256.6" r="1" fill="#c81a3e" opacity="0.95"/><circle cx="523" cy="262" r="1" fill="#c81a3e" opacity="0.95"/><circle cx="467" cy="266" r="1.25" fill="#c81a3e" opacity="0.95"/><circle cx="472" cy="265" r="1.12" fill="#c81a3e" opacity="0.95"/><circle cx="454" cy="274" r="1.38" fill="#c81a3e" opacity="0.95"/><circle cx="456.4" cy="275.4" r="1" fill="#c81a3e" opacity="0.95"/><circle cx="503" cy="298" r="1" fill="#c81a3e" opacity="0.95"/><circle cx="446" cy="262" r="0.75" fill="#c81a3e" opacity="0.95"/><circle cx="463" cy="252" r="0.75" fill="#c81a3e" opacity="0.95"/><circle cx="499" cy="258" r="0.75" fill="#c81a3e" opacity="0.95"/><circle cx="515" cy="266" r="0.75" fill="#c81a3e" opacity="0.95"/><circle cx="478" cy="296" r="0.62" fill="#c81a3e" opacity="0.95"/><circle cx="528" cy="290" r="0.75" fill="#c81a3e" opacity="0.95"/><circle cx="444" cy="300" r="0.75" fill="#c81a3e" opacity="0.95"/><circle cx="492" cy="270" r="0.75" fill="#c81a3e" opacity="0.95"/>
</g>
</g>
</svg>
</body></html>
